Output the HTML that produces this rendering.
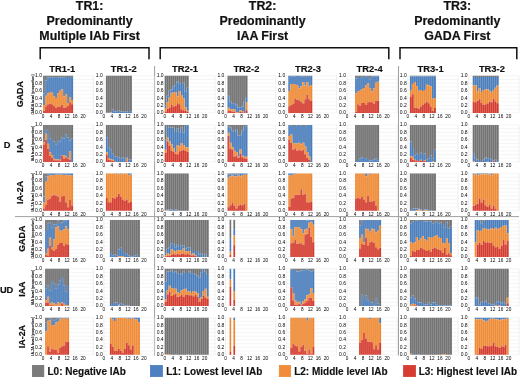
<!DOCTYPE html>
<html><head><meta charset="utf-8"><style>html,body{margin:0;padding:0;background:#fff;width:520px;height:378px;overflow:hidden}</style></head>
<body><svg width="520" height="378" viewBox="0 0 520 378" style="display:block;will-change:transform"><rect width="520" height="378" fill="#fff"/><g font-family='"Liberation Sans", sans-serif'><text x="89.6" y="9.9" font-size="12.4" font-weight="bold" text-anchor="middle" fill="#111" stroke="#111" stroke-width="0.2">TR1:</text><text x="89.6" y="25.15" font-size="12.4" font-weight="bold" text-anchor="middle" fill="#111" stroke="#111" stroke-width="0.2">Predominantly</text><text x="89.6" y="40.4" font-size="12.4" font-weight="bold" text-anchor="middle" fill="#111" stroke="#111" stroke-width="0.2">Multiple IAb First</text><text x="262.6" y="9.9" font-size="12.4" font-weight="bold" text-anchor="middle" fill="#111" stroke="#111" stroke-width="0.2">TR2:</text><text x="262.6" y="25.15" font-size="12.4" font-weight="bold" text-anchor="middle" fill="#111" stroke="#111" stroke-width="0.2">Predominantly</text><text x="262.6" y="40.4" font-size="12.4" font-weight="bold" text-anchor="middle" fill="#111" stroke="#111" stroke-width="0.2">IAA First</text><text x="457.3" y="9.9" font-size="12.4" font-weight="bold" text-anchor="middle" fill="#111" stroke="#111" stroke-width="0.2">TR3:</text><text x="457.3" y="25.15" font-size="12.4" font-weight="bold" text-anchor="middle" fill="#111" stroke="#111" stroke-width="0.2">Predominantly</text><text x="457.3" y="40.4" font-size="12.4" font-weight="bold" text-anchor="middle" fill="#111" stroke="#111" stroke-width="0.2">GADA First</text><path d="M40.2 59.3 V47.7 H149.0 V59.3" fill="none" stroke="#111" stroke-width="1.5"/><path d="M160.2 59.3 V47.7 H388.8 V59.3" fill="none" stroke="#111" stroke-width="1.5"/><path d="M400.0 59.3 V47.7 H516.8 V59.3" fill="none" stroke="#111" stroke-width="1.5"/><text x="62.3" y="71.9" font-size="9.4" font-weight="bold" text-anchor="middle" fill="#111" stroke="#111" stroke-width="0.15">TR1-1</text><text x="123.8" y="71.9" font-size="9.4" font-weight="bold" text-anchor="middle" fill="#111" stroke="#111" stroke-width="0.15">TR1-2</text><text x="185.0" y="71.9" font-size="9.4" font-weight="bold" text-anchor="middle" fill="#111" stroke="#111" stroke-width="0.15">TR2-1</text><text x="246.4" y="71.9" font-size="9.4" font-weight="bold" text-anchor="middle" fill="#111" stroke="#111" stroke-width="0.15">TR2-2</text><text x="308.0" y="71.9" font-size="9.4" font-weight="bold" text-anchor="middle" fill="#111" stroke="#111" stroke-width="0.15">TR2-3</text><text x="369.6" y="71.9" font-size="9.4" font-weight="bold" text-anchor="middle" fill="#111" stroke="#111" stroke-width="0.15">TR2-4</text><text x="430.6" y="71.9" font-size="9.4" font-weight="bold" text-anchor="middle" fill="#111" stroke="#111" stroke-width="0.15">TR3-1</text><text x="491.9" y="71.9" font-size="9.4" font-weight="bold" text-anchor="middle" fill="#111" stroke="#111" stroke-width="0.15">TR3-2</text><path d="M154.6 66 V355.6 M398.5 66 V355.6 M15 216.6 H519" stroke="#a0a0a0" stroke-width="1" fill="none"/><text transform="translate(23.2 94.24999999999999) rotate(-90)" font-size="8.9" font-weight="bold" text-anchor="middle" fill="#111" stroke="#111" stroke-width="0.18">GADA</text><text transform="translate(23.2 145.15000000000003) rotate(-90)" font-size="8.9" font-weight="bold" text-anchor="middle" fill="#111" stroke="#111" stroke-width="0.18">IAA</text><text transform="translate(23.2 192.45000000000002) rotate(-90)" font-size="8.9" font-weight="bold" text-anchor="middle" fill="#111" stroke="#111" stroke-width="0.18">IA-2A</text><text transform="translate(24.7 238.75000000000003) rotate(-90)" font-size="8.9" font-weight="bold" text-anchor="middle" fill="#111" stroke="#111" stroke-width="0.18">GADA</text><text transform="translate(24.7 289.15000000000003) rotate(-90)" font-size="8.9" font-weight="bold" text-anchor="middle" fill="#111" stroke="#111" stroke-width="0.18">IAA</text><text transform="translate(24.7 336.55) rotate(-90)" font-size="8.9" font-weight="bold" text-anchor="middle" fill="#111" stroke="#111" stroke-width="0.18">IA-2A</text><text x="7.0" y="148.3" font-size="9.3" font-weight="bold" text-anchor="middle" fill="#111" stroke="#111" stroke-width="0.18">D</text><text x="6.6" y="292.6" font-size="9.3" font-weight="bold" text-anchor="middle" fill="#111" stroke="#111" stroke-width="0.18">UD</text><path d="M43.1 112.90H93.4M43.1 109.19H93.4M43.1 105.48H93.4M43.1 101.77H93.4M43.1 98.06H93.4M43.1 94.35H93.4M43.1 90.64H93.4M43.1 86.93H93.4M43.1 83.22H93.4M43.1 79.51H93.4M43.1 75.80H93.4" stroke="#efefef" stroke-width="0.6" fill="none"/><path d="M43.1 75.8V112.9 M93.4 75.8V112.9" stroke="#e4e4e4" stroke-width="0.6" fill="none"/><path d="M43.10 75.80h2.0v17.81h-2.0zM45.10 75.80h2.0v4.82h-2.0zM47.10 75.80h2.0v1.48h-2.0zM49.10 75.80h2.0v1.48h-2.0zM51.10 75.80h2.0v1.48h-2.0zM53.10 75.80h2.0v1.48h-2.0zM55.10 75.80h2.0v1.11h-2.0zM57.10 75.80h2.0v1.48h-2.0zM59.10 75.80h2.0v1.48h-2.0zM61.10 75.80h2.0v1.48h-2.0zM63.10 75.80h2.0v1.48h-2.0zM65.10 75.80h2.0v1.11h-2.0zM67.10 75.80h2.0v1.11h-2.0zM69.10 75.80h2.0v1.11h-2.0zM71.10 75.80h2.0v1.48h-2.0z" fill="#727272"/><path d="M43.10 93.61h2.0v11.50h-2.0zM45.10 80.62h2.0v15.21h-2.0zM47.10 77.28h2.0v15.95h-2.0zM49.10 77.28h2.0v14.84h-2.0zM51.10 77.28h2.0v15.58h-2.0zM53.10 77.28h2.0v18.92h-2.0zM55.10 76.91h2.0v21.15h-2.0zM57.10 77.28h2.0v16.32h-2.0zM59.10 77.28h2.0v13.36h-2.0zM61.10 77.28h2.0v12.24h-2.0zM63.10 77.28h2.0v19.29h-2.0zM65.10 76.91h2.0v17.07h-2.0zM67.10 76.91h2.0v25.97h-2.0zM69.10 76.91h2.0v20.03h-2.0zM71.10 77.28h2.0v22.63h-2.0z" fill="#4a7dbb"/><path d="M43.10 105.11h2.0v5.94h-2.0zM45.10 95.83h2.0v10.39h-2.0zM47.10 93.24h2.0v11.13h-2.0zM49.10 92.12h2.0v11.50h-2.0zM51.10 92.87h2.0v11.50h-2.0zM53.10 96.21h2.0v9.65h-2.0zM55.10 98.06h2.0v10.02h-2.0zM57.10 93.61h2.0v12.98h-2.0zM59.10 90.64h2.0v15.95h-2.0zM61.10 89.53h2.0v15.21h-2.0zM63.10 96.58h2.0v11.50h-2.0zM65.10 93.98h2.0v13.36h-2.0zM67.10 102.88h2.0v2.97h-2.0zM69.10 96.95h2.0v5.19h-2.0zM71.10 99.92h2.0v4.45h-2.0z" fill="#ee8a35"/><path d="M43.10 111.05h2.0v1.86h-2.0zM45.10 106.22h2.0v6.68h-2.0zM47.10 104.37h2.0v8.53h-2.0zM49.10 103.62h2.0v9.28h-2.0zM51.10 104.37h2.0v8.53h-2.0zM53.10 105.85h2.0v7.05h-2.0zM55.10 108.08h2.0v4.82h-2.0zM57.10 106.59h2.0v6.31h-2.0zM59.10 106.59h2.0v6.31h-2.0zM61.10 104.74h2.0v8.16h-2.0zM63.10 108.08h2.0v4.82h-2.0zM65.10 107.34h2.0v5.57h-2.0zM67.10 105.85h2.0v7.05h-2.0zM69.10 102.14h2.0v10.76h-2.0zM71.10 104.37h2.0v8.53h-2.0z" fill="#d43c30"/><path d="M44.85 75.8V112.9M46.85 75.8V112.9M48.85 75.8V112.9M50.85 75.8V112.9M52.85 75.8V112.9M54.85 75.8V112.9M56.85 75.8V112.9M58.85 75.8V112.9M60.85 75.8V112.9M62.85 75.8V112.9M64.85 75.8V112.9M66.85 75.8V112.9M68.85 75.8V112.9M70.85 75.8V112.9" stroke="#fff" stroke-opacity="0.35" stroke-width="0.6" fill="none"/><text x="42.0" y="114.35" font-size="5" text-anchor="end" fill="#000">0.0</text><text x="42.0" y="106.93" font-size="5" text-anchor="end" fill="#000">0.2</text><text x="42.0" y="99.51" font-size="5" text-anchor="end" fill="#000">0.4</text><text x="42.0" y="92.09" font-size="5" text-anchor="end" fill="#000">0.6</text><text x="42.0" y="84.67" font-size="5" text-anchor="end" fill="#000">0.8</text><text x="42.0" y="77.25" font-size="5" text-anchor="end" fill="#000">1.0</text><text x="43.10" y="118.10" font-size="4.7" text-anchor="middle" fill="#000">0</text><text x="51.10" y="118.10" font-size="4.7" text-anchor="middle" fill="#000">4</text><text x="59.10" y="118.10" font-size="4.7" text-anchor="middle" fill="#000">8</text><text x="67.10" y="118.10" font-size="4.7" text-anchor="middle" fill="#000">12</text><text x="75.10" y="118.10" font-size="4.7" text-anchor="middle" fill="#000">16</text><text x="83.10" y="118.10" font-size="4.7" text-anchor="middle" fill="#000">20</text><text transform="translate(33.5 94.35) rotate(-90)" font-size="3.8" text-anchor="middle" fill="#000" stroke="#000" stroke-width="0.12">GADA level (proportion)</text><path d="M103.9 112.90H154.2M103.9 109.19H154.2M103.9 105.48H154.2M103.9 101.77H154.2M103.9 98.06H154.2M103.9 94.35H154.2M103.9 90.64H154.2M103.9 86.93H154.2M103.9 83.22H154.2M103.9 79.51H154.2M103.9 75.80H154.2" stroke="#efefef" stroke-width="0.6" fill="none"/><path d="M103.9 75.8V112.9 M154.2 75.8V112.9" stroke="#e4e4e4" stroke-width="0.6" fill="none"/><path d="M105.90 75.80h2.0v36.73h-2.0zM107.90 75.80h2.0v36.36h-2.0zM109.90 75.80h2.0v36.36h-2.0zM111.90 75.80h2.0v33.76h-2.0zM113.90 75.80h2.0v35.62h-2.0zM115.90 75.80h2.0v35.99h-2.0zM117.90 75.80h2.0v34.87h-2.0zM119.90 75.80h2.0v35.62h-2.0zM121.90 75.80h2.0v35.99h-2.0zM123.90 75.80h2.0v35.99h-2.0zM125.90 75.80h2.0v35.99h-2.0zM127.90 75.80h2.0v35.24h-2.0zM129.90 75.80h2.0v35.99h-2.0z" fill="#727272"/><path d="M105.90 112.53h2.0v0.37h-2.0zM107.90 112.16h2.0v0.74h-2.0zM109.90 112.16h2.0v0.37h-2.0zM111.90 109.56h2.0v3.34h-2.0zM113.90 111.42h2.0v1.48h-2.0zM115.90 111.79h2.0v1.11h-2.0zM117.90 110.67h2.0v2.23h-2.0zM119.90 111.42h2.0v1.48h-2.0zM121.90 111.79h2.0v1.11h-2.0zM123.90 111.79h2.0v1.11h-2.0zM125.90 111.79h2.0v1.11h-2.0zM127.90 111.05h2.0v1.86h-2.0zM129.90 111.79h2.0v1.11h-2.0z" fill="#4a7dbb"/><path d="M109.90 112.53h2.0v0.37h-2.0z" fill="#ee8a35"/><path d="M107.65 75.8V112.9M109.65 75.8V112.9M111.65 75.8V112.9M113.65 75.8V112.9M115.65 75.8V112.9M117.65 75.8V112.9M119.65 75.8V112.9M121.65 75.8V112.9M123.65 75.8V112.9M125.65 75.8V112.9M127.65 75.8V112.9M129.65 75.8V112.9" stroke="#fff" stroke-opacity="0.35" stroke-width="0.6" fill="none"/><text x="102.80000000000001" y="114.35" font-size="5" text-anchor="end" fill="#000">0.0</text><text x="102.80000000000001" y="106.93" font-size="5" text-anchor="end" fill="#000">0.2</text><text x="102.80000000000001" y="99.51" font-size="5" text-anchor="end" fill="#000">0.4</text><text x="102.80000000000001" y="92.09" font-size="5" text-anchor="end" fill="#000">0.6</text><text x="102.80000000000001" y="84.67" font-size="5" text-anchor="end" fill="#000">0.8</text><text x="102.80000000000001" y="77.25" font-size="5" text-anchor="end" fill="#000">1.0</text><text x="103.90" y="118.10" font-size="4.7" text-anchor="middle" fill="#000">0</text><text x="111.90" y="118.10" font-size="4.7" text-anchor="middle" fill="#000">4</text><text x="119.90" y="118.10" font-size="4.7" text-anchor="middle" fill="#000">8</text><text x="127.90" y="118.10" font-size="4.7" text-anchor="middle" fill="#000">12</text><text x="135.90" y="118.10" font-size="4.7" text-anchor="middle" fill="#000">16</text><text x="143.90" y="118.10" font-size="4.7" text-anchor="middle" fill="#000">20</text><path d="M164.7 112.90H215.0M164.7 109.19H215.0M164.7 105.48H215.0M164.7 101.77H215.0M164.7 98.06H215.0M164.7 94.35H215.0M164.7 90.64H215.0M164.7 86.93H215.0M164.7 83.22H215.0M164.7 79.51H215.0M164.7 75.80H215.0" stroke="#efefef" stroke-width="0.6" fill="none"/><path d="M164.7 75.8V112.9 M215.0 75.8V112.9" stroke="#e4e4e4" stroke-width="0.6" fill="none"/><path d="M164.70 75.80h2.0v30.05h-2.0zM166.70 75.80h2.0v20.03h-2.0zM168.70 75.80h2.0v14.84h-2.0zM170.70 75.80h2.0v13.73h-2.0zM172.70 75.80h2.0v10.76h-2.0zM174.70 75.80h2.0v8.16h-2.0zM176.70 75.80h2.0v5.57h-2.0zM178.70 75.80h2.0v7.42h-2.0zM180.70 75.80h2.0v8.16h-2.0zM182.70 75.80h2.0v7.05h-2.0zM184.70 75.80h2.0v15.58h-2.0zM186.70 75.80h2.0v11.87h-2.0z" fill="#727272"/><path d="M164.70 105.85h2.0v2.23h-2.0zM166.70 95.83h2.0v6.31h-2.0zM168.70 90.64h2.0v6.31h-2.0zM170.70 89.53h2.0v3.34h-2.0zM172.70 86.56h2.0v6.31h-2.0zM174.70 83.96h2.0v8.16h-2.0zM176.70 81.37h2.0v15.21h-2.0zM178.70 83.22h2.0v7.79h-2.0zM180.70 83.96h2.0v11.13h-2.0zM182.70 82.85h2.0v15.58h-2.0zM184.70 91.38h2.0v15.95h-2.0zM186.70 87.67h2.0v23.00h-2.0z" fill="#4a7dbb"/><path d="M164.70 108.08h2.0v3.52h-2.0zM166.70 102.14h2.0v6.68h-2.0zM168.70 96.95h2.0v10.76h-2.0zM170.70 92.87h2.0v12.24h-2.0zM172.70 92.87h2.0v13.73h-2.0zM174.70 92.12h2.0v13.73h-2.0zM176.70 96.58h2.0v7.05h-2.0zM178.70 91.01h2.0v13.36h-2.0zM180.70 95.09h2.0v14.47h-2.0zM182.70 98.43h2.0v11.87h-2.0zM184.70 107.34h2.0v3.34h-2.0zM186.70 110.67h2.0v1.11h-2.0z" fill="#ee8a35"/><path d="M164.70 111.60h2.0v1.30h-2.0zM166.70 108.82h2.0v4.08h-2.0zM168.70 107.71h2.0v5.19h-2.0zM170.70 105.11h2.0v7.79h-2.0zM172.70 106.59h2.0v6.31h-2.0zM174.70 105.85h2.0v7.05h-2.0zM176.70 103.62h2.0v9.28h-2.0zM178.70 104.37h2.0v8.53h-2.0zM180.70 109.56h2.0v3.34h-2.0zM182.70 110.30h2.0v2.60h-2.0zM184.70 110.67h2.0v2.23h-2.0zM186.70 111.79h2.0v1.11h-2.0z" fill="#d43c30"/><path d="M166.45 75.8V112.9M168.45 75.8V112.9M170.45 75.8V112.9M172.45 75.8V112.9M174.45 75.8V112.9M176.45 75.8V112.9M178.45 75.8V112.9M180.45 75.8V112.9M182.45 75.8V112.9M184.45 75.8V112.9M186.45 75.8V112.9" stroke="#fff" stroke-opacity="0.35" stroke-width="0.6" fill="none"/><text x="163.6" y="114.35" font-size="5" text-anchor="end" fill="#000">0.0</text><text x="163.6" y="106.93" font-size="5" text-anchor="end" fill="#000">0.2</text><text x="163.6" y="99.51" font-size="5" text-anchor="end" fill="#000">0.4</text><text x="163.6" y="92.09" font-size="5" text-anchor="end" fill="#000">0.6</text><text x="163.6" y="84.67" font-size="5" text-anchor="end" fill="#000">0.8</text><text x="163.6" y="77.25" font-size="5" text-anchor="end" fill="#000">1.0</text><text x="164.70" y="118.10" font-size="4.7" text-anchor="middle" fill="#000">0</text><text x="172.70" y="118.10" font-size="4.7" text-anchor="middle" fill="#000">4</text><text x="180.70" y="118.10" font-size="4.7" text-anchor="middle" fill="#000">8</text><text x="188.70" y="118.10" font-size="4.7" text-anchor="middle" fill="#000">12</text><text x="196.70" y="118.10" font-size="4.7" text-anchor="middle" fill="#000">16</text><text x="204.70" y="118.10" font-size="4.7" text-anchor="middle" fill="#000">20</text><path d="M225.5 112.90H275.8M225.5 109.19H275.8M225.5 105.48H275.8M225.5 101.77H275.8M225.5 98.06H275.8M225.5 94.35H275.8M225.5 90.64H275.8M225.5 86.93H275.8M225.5 83.22H275.8M225.5 79.51H275.8M225.5 75.80H275.8" stroke="#efefef" stroke-width="0.6" fill="none"/><path d="M225.5 75.8V112.9 M275.8 75.8V112.9" stroke="#e4e4e4" stroke-width="0.6" fill="none"/><path d="M227.50 75.80h2.0v20.03h-2.0zM229.50 75.80h2.0v25.97h-2.0zM231.50 75.80h2.0v27.83h-2.0zM233.50 75.80h2.0v27.08h-2.0zM235.50 75.80h2.0v28.94h-2.0zM237.50 75.80h2.0v31.91h-2.0zM239.50 75.80h2.0v31.54h-2.0zM241.50 75.80h2.0v30.79h-2.0zM243.50 75.80h2.0v25.97h-2.0zM245.50 75.80h2.0v21.15h-2.0z" fill="#727272"/><path d="M227.50 95.83h2.0v11.87h-2.0zM229.50 101.77h2.0v7.42h-2.0zM231.50 103.62h2.0v5.94h-2.0zM233.50 102.88h2.0v6.68h-2.0zM235.50 104.74h2.0v7.42h-2.0zM237.50 107.71h2.0v4.45h-2.0zM239.50 107.34h2.0v2.97h-2.0zM241.50 106.59h2.0v4.45h-2.0zM243.50 101.77h2.0v11.13h-2.0zM245.50 96.95h2.0v5.19h-2.0z" fill="#4a7dbb"/><path d="M227.50 107.71h2.0v2.97h-2.0zM229.50 109.19h2.0v1.86h-2.0zM231.50 109.56h2.0v2.23h-2.0zM233.50 109.56h2.0v1.85h-2.0zM235.50 112.16h2.0v0.74h-2.0zM237.50 112.16h2.0v0.37h-2.0zM239.50 110.30h2.0v1.48h-2.0zM241.50 111.05h2.0v1.11h-2.0zM245.50 102.14h2.0v8.16h-2.0z" fill="#ee8a35"/><path d="M227.50 110.67h2.0v2.23h-2.0zM229.50 111.05h2.0v1.86h-2.0zM231.50 111.79h2.0v1.11h-2.0zM233.50 111.42h2.0v1.48h-2.0zM237.50 112.53h2.0v0.37h-2.0zM239.50 111.79h2.0v1.11h-2.0zM241.50 112.16h2.0v0.74h-2.0zM245.50 110.30h2.0v2.60h-2.0z" fill="#d43c30"/><path d="M229.25 75.8V112.9M231.25 75.8V112.9M233.25 75.8V112.9M235.25 75.8V112.9M237.25 75.8V112.9M239.25 75.8V112.9M241.25 75.8V112.9M243.25 75.8V112.9M245.25 75.8V112.9" stroke="#fff" stroke-opacity="0.35" stroke-width="0.6" fill="none"/><text x="224.4" y="114.35" font-size="5" text-anchor="end" fill="#000">0.0</text><text x="224.4" y="106.93" font-size="5" text-anchor="end" fill="#000">0.2</text><text x="224.4" y="99.51" font-size="5" text-anchor="end" fill="#000">0.4</text><text x="224.4" y="92.09" font-size="5" text-anchor="end" fill="#000">0.6</text><text x="224.4" y="84.67" font-size="5" text-anchor="end" fill="#000">0.8</text><text x="224.4" y="77.25" font-size="5" text-anchor="end" fill="#000">1.0</text><text x="225.50" y="118.10" font-size="4.7" text-anchor="middle" fill="#000">0</text><text x="233.50" y="118.10" font-size="4.7" text-anchor="middle" fill="#000">4</text><text x="241.50" y="118.10" font-size="4.7" text-anchor="middle" fill="#000">8</text><text x="249.50" y="118.10" font-size="4.7" text-anchor="middle" fill="#000">12</text><text x="257.50" y="118.10" font-size="4.7" text-anchor="middle" fill="#000">16</text><text x="265.50" y="118.10" font-size="4.7" text-anchor="middle" fill="#000">20</text><path d="M286.3 112.90H336.6M286.3 109.19H336.6M286.3 105.48H336.6M286.3 101.77H336.6M286.3 98.06H336.6M286.3 94.35H336.6M286.3 90.64H336.6M286.3 86.93H336.6M286.3 83.22H336.6M286.3 79.51H336.6M286.3 75.80H336.6" stroke="#efefef" stroke-width="0.6" fill="none"/><path d="M286.3 75.8V112.9 M336.6 75.8V112.9" stroke="#e4e4e4" stroke-width="0.6" fill="none"/><path d="M290.30 75.80h2.0v0.37h-2.0zM292.30 75.80h2.0v0.37h-2.0zM294.30 75.80h2.0v0.37h-2.0zM300.30 75.80h2.0v0.37h-2.0zM302.30 75.80h2.0v0.37h-2.0zM304.30 75.80h2.0v1.11h-2.0zM308.30 75.80h2.0v1.11h-2.0z" fill="#727272"/><path d="M288.30 75.80h2.0v15.21h-2.0zM290.30 76.17h2.0v7.79h-2.0zM292.30 76.17h2.0v7.79h-2.0zM294.30 76.17h2.0v8.53h-2.0zM296.30 75.80h2.0v9.28h-2.0zM298.30 75.80h2.0v12.61h-2.0zM300.30 76.17h2.0v10.02h-2.0zM302.30 76.17h2.0v5.94h-2.0zM304.30 76.91h2.0v8.53h-2.0zM306.30 75.80h2.0v6.31h-2.0zM308.30 76.91h2.0v9.65h-2.0zM310.30 75.80h2.0v9.28h-2.0z" fill="#4a7dbb"/><path d="M288.30 91.01h2.0v15.21h-2.0zM290.30 83.96h2.0v20.78h-2.0zM292.30 83.96h2.0v19.66h-2.0zM294.30 84.70h2.0v13.73h-2.0zM296.30 85.08h2.0v14.84h-2.0zM298.30 88.41h2.0v11.87h-2.0zM300.30 86.19h2.0v15.58h-2.0zM302.30 82.11h2.0v21.52h-2.0zM304.30 85.45h2.0v13.73h-2.0zM306.30 82.11h2.0v12.98h-2.0zM308.30 86.56h2.0v12.61h-2.0zM310.30 85.08h2.0v15.58h-2.0z" fill="#ee8a35"/><path d="M288.30 106.22h2.0v6.68h-2.0zM290.30 104.74h2.0v8.16h-2.0zM292.30 103.62h2.0v9.28h-2.0zM294.30 98.43h2.0v14.47h-2.0zM296.30 99.92h2.0v12.98h-2.0zM298.30 100.29h2.0v12.61h-2.0zM300.30 101.77h2.0v11.13h-2.0zM302.30 103.62h2.0v9.28h-2.0zM304.30 99.17h2.0v13.73h-2.0zM306.30 95.09h2.0v17.81h-2.0zM308.30 99.17h2.0v13.73h-2.0zM310.30 100.66h2.0v12.24h-2.0z" fill="#d43c30"/><path d="M290.05 75.8V112.9M292.05 75.8V112.9M294.05 75.8V112.9M296.05 75.8V112.9M298.05 75.8V112.9M300.05 75.8V112.9M302.05 75.8V112.9M304.05 75.8V112.9M306.05 75.8V112.9M308.05 75.8V112.9M310.05 75.8V112.9" stroke="#fff" stroke-opacity="0.35" stroke-width="0.6" fill="none"/><text x="285.2" y="114.35" font-size="5" text-anchor="end" fill="#000">0.0</text><text x="285.2" y="106.93" font-size="5" text-anchor="end" fill="#000">0.2</text><text x="285.2" y="99.51" font-size="5" text-anchor="end" fill="#000">0.4</text><text x="285.2" y="92.09" font-size="5" text-anchor="end" fill="#000">0.6</text><text x="285.2" y="84.67" font-size="5" text-anchor="end" fill="#000">0.8</text><text x="285.2" y="77.25" font-size="5" text-anchor="end" fill="#000">1.0</text><text x="286.30" y="118.10" font-size="4.7" text-anchor="middle" fill="#000">0</text><text x="294.30" y="118.10" font-size="4.7" text-anchor="middle" fill="#000">4</text><text x="302.30" y="118.10" font-size="4.7" text-anchor="middle" fill="#000">8</text><text x="310.30" y="118.10" font-size="4.7" text-anchor="middle" fill="#000">12</text><text x="318.30" y="118.10" font-size="4.7" text-anchor="middle" fill="#000">16</text><text x="326.30" y="118.10" font-size="4.7" text-anchor="middle" fill="#000">20</text><path d="M347.1 112.90H397.40000000000003M347.1 109.19H397.40000000000003M347.1 105.48H397.40000000000003M347.1 101.77H397.40000000000003M347.1 98.06H397.40000000000003M347.1 94.35H397.40000000000003M347.1 90.64H397.40000000000003M347.1 86.93H397.40000000000003M347.1 83.22H397.40000000000003M347.1 79.51H397.40000000000003M347.1 75.80H397.40000000000003" stroke="#efefef" stroke-width="0.6" fill="none"/><path d="M347.1 75.8V112.9 M397.40000000000003 75.8V112.9" stroke="#e4e4e4" stroke-width="0.6" fill="none"/><path d="M355.10 75.80h2.0v2.60h-2.0zM357.10 75.80h2.0v1.11h-2.0zM359.10 75.80h2.0v1.11h-2.0zM361.10 75.80h2.0v1.86h-2.0zM363.10 75.80h2.0v1.11h-2.0zM365.10 75.80h2.0v0.37h-2.0zM367.10 75.80h2.0v1.11h-2.0zM369.10 75.80h2.0v3.34h-2.0zM371.10 75.80h2.0v0.37h-2.0zM373.10 75.80h2.0v0.37h-2.0zM375.10 75.80h2.0v0.37h-2.0zM377.10 75.80h2.0v0.37h-2.0z" fill="#727272"/><path d="M355.10 78.40h2.0v15.21h-2.0zM357.10 76.91h2.0v14.10h-2.0zM359.10 76.91h2.0v13.73h-2.0zM361.10 77.66h2.0v11.50h-2.0zM363.10 76.91h2.0v11.13h-2.0zM365.10 76.17h2.0v9.28h-2.0zM367.10 76.91h2.0v6.68h-2.0zM369.10 79.14h2.0v8.90h-2.0zM371.10 76.17h2.0v15.21h-2.0zM373.10 76.17h2.0v12.24h-2.0zM375.10 76.17h2.0v6.68h-2.0zM377.10 76.17h2.0v5.57h-2.0z" fill="#4a7dbb"/><path d="M355.10 93.61h2.0v18.18h-2.0zM357.10 91.01h2.0v13.36h-2.0zM359.10 90.64h2.0v15.21h-2.0zM361.10 89.16h2.0v13.73h-2.0zM363.10 88.04h2.0v14.84h-2.0zM365.10 85.45h2.0v19.66h-2.0zM367.10 83.59h2.0v18.55h-2.0zM369.10 88.04h2.0v13.73h-2.0zM371.10 91.38h2.0v10.76h-2.0zM373.10 88.41h2.0v15.21h-2.0zM375.10 82.85h2.0v17.81h-2.0zM377.10 81.74h2.0v18.92h-2.0z" fill="#ee8a35"/><path d="M355.10 111.79h2.0v1.11h-2.0zM357.10 104.37h2.0v8.53h-2.0zM359.10 105.85h2.0v7.05h-2.0zM361.10 102.88h2.0v10.02h-2.0zM363.10 102.88h2.0v10.02h-2.0zM365.10 105.11h2.0v7.79h-2.0zM367.10 102.14h2.0v10.76h-2.0zM369.10 101.77h2.0v11.13h-2.0zM371.10 102.14h2.0v10.76h-2.0zM373.10 103.62h2.0v9.28h-2.0zM375.10 100.66h2.0v12.24h-2.0zM377.10 100.66h2.0v12.24h-2.0z" fill="#d43c30"/><path d="M356.85 75.8V112.9M358.85 75.8V112.9M360.85 75.8V112.9M362.85 75.8V112.9M364.85 75.8V112.9M366.85 75.8V112.9M368.85 75.8V112.9M370.85 75.8V112.9M372.85 75.8V112.9M374.85 75.8V112.9M376.85 75.8V112.9" stroke="#fff" stroke-opacity="0.35" stroke-width="0.6" fill="none"/><text x="346.0" y="114.35" font-size="5" text-anchor="end" fill="#000">0.0</text><text x="346.0" y="106.93" font-size="5" text-anchor="end" fill="#000">0.2</text><text x="346.0" y="99.51" font-size="5" text-anchor="end" fill="#000">0.4</text><text x="346.0" y="92.09" font-size="5" text-anchor="end" fill="#000">0.6</text><text x="346.0" y="84.67" font-size="5" text-anchor="end" fill="#000">0.8</text><text x="346.0" y="77.25" font-size="5" text-anchor="end" fill="#000">1.0</text><text x="347.10" y="118.10" font-size="4.7" text-anchor="middle" fill="#000">0</text><text x="355.10" y="118.10" font-size="4.7" text-anchor="middle" fill="#000">4</text><text x="363.10" y="118.10" font-size="4.7" text-anchor="middle" fill="#000">8</text><text x="371.10" y="118.10" font-size="4.7" text-anchor="middle" fill="#000">12</text><text x="379.10" y="118.10" font-size="4.7" text-anchor="middle" fill="#000">16</text><text x="387.10" y="118.10" font-size="4.7" text-anchor="middle" fill="#000">20</text><path d="M407.9 112.90H458.2M407.9 109.19H458.2M407.9 105.48H458.2M407.9 101.77H458.2M407.9 98.06H458.2M407.9 94.35H458.2M407.9 90.64H458.2M407.9 86.93H458.2M407.9 83.22H458.2M407.9 79.51H458.2M407.9 75.80H458.2" stroke="#efefef" stroke-width="0.6" fill="none"/><path d="M407.9 75.8V112.9 M458.2 75.8V112.9" stroke="#e4e4e4" stroke-width="0.6" fill="none"/><path d="M409.90 75.80h2.0v0.37h-2.0zM411.90 75.80h2.0v0.74h-2.0zM413.90 75.80h2.0v0.37h-2.0zM415.90 75.80h2.0v0.37h-2.0zM417.90 75.80h2.0v0.37h-2.0zM419.90 75.80h2.0v0.74h-2.0zM421.90 75.80h2.0v0.74h-2.0zM423.90 75.80h2.0v0.74h-2.0zM425.90 75.80h2.0v0.37h-2.0zM427.90 75.80h2.0v0.37h-2.0zM429.90 75.80h2.0v0.37h-2.0zM431.90 75.80h2.0v0.37h-2.0zM433.90 75.80h2.0v0.74h-2.0z" fill="#727272"/><path d="M409.90 76.17h2.0v14.47h-2.0zM411.90 76.54h2.0v7.42h-2.0zM413.90 76.17h2.0v5.94h-2.0zM415.90 76.17h2.0v10.02h-2.0zM417.90 76.17h2.0v14.47h-2.0zM419.90 76.54h2.0v13.36h-2.0zM421.90 76.54h2.0v14.47h-2.0zM423.90 76.54h2.0v13.36h-2.0zM425.90 76.17h2.0v8.53h-2.0zM427.90 76.17h2.0v9.28h-2.0zM429.90 76.17h2.0v10.02h-2.0zM431.90 76.17h2.0v22.63h-2.0zM433.90 76.54h2.0v21.52h-2.0z" fill="#4a7dbb"/><path d="M409.90 90.64h2.0v6.31h-2.0zM411.90 83.96h2.0v10.39h-2.0zM413.90 82.11h2.0v25.60h-2.0zM415.90 86.19h2.0v21.52h-2.0zM417.90 90.64h2.0v18.18h-2.0zM419.90 89.90h2.0v16.70h-2.0zM421.90 91.01h2.0v14.10h-2.0zM423.90 89.90h2.0v13.36h-2.0zM425.90 84.70h2.0v17.07h-2.0zM427.90 85.45h2.0v17.81h-2.0zM429.90 86.19h2.0v20.40h-2.0zM431.90 98.80h2.0v11.87h-2.0zM433.90 98.06h2.0v10.02h-2.0z" fill="#ee8a35"/><path d="M409.90 96.95h2.0v15.95h-2.0zM411.90 94.35h2.0v18.55h-2.0zM413.90 107.71h2.0v5.19h-2.0zM415.90 107.71h2.0v5.19h-2.0zM417.90 108.82h2.0v4.08h-2.0zM419.90 106.59h2.0v6.31h-2.0zM421.90 105.11h2.0v7.79h-2.0zM423.90 103.25h2.0v9.65h-2.0zM425.90 101.77h2.0v11.13h-2.0zM427.90 103.25h2.0v9.65h-2.0zM429.90 106.59h2.0v6.31h-2.0zM431.90 110.67h2.0v2.23h-2.0zM433.90 108.08h2.0v4.82h-2.0z" fill="#d43c30"/><path d="M411.65 75.8V112.9M413.65 75.8V112.9M415.65 75.8V112.9M417.65 75.8V112.9M419.65 75.8V112.9M421.65 75.8V112.9M423.65 75.8V112.9M425.65 75.8V112.9M427.65 75.8V112.9M429.65 75.8V112.9M431.65 75.8V112.9M433.65 75.8V112.9" stroke="#fff" stroke-opacity="0.35" stroke-width="0.6" fill="none"/><text x="406.79999999999995" y="114.35" font-size="5" text-anchor="end" fill="#000">0.0</text><text x="406.79999999999995" y="106.93" font-size="5" text-anchor="end" fill="#000">0.2</text><text x="406.79999999999995" y="99.51" font-size="5" text-anchor="end" fill="#000">0.4</text><text x="406.79999999999995" y="92.09" font-size="5" text-anchor="end" fill="#000">0.6</text><text x="406.79999999999995" y="84.67" font-size="5" text-anchor="end" fill="#000">0.8</text><text x="406.79999999999995" y="77.25" font-size="5" text-anchor="end" fill="#000">1.0</text><text x="407.90" y="118.10" font-size="4.7" text-anchor="middle" fill="#000">0</text><text x="415.90" y="118.10" font-size="4.7" text-anchor="middle" fill="#000">4</text><text x="423.90" y="118.10" font-size="4.7" text-anchor="middle" fill="#000">8</text><text x="431.90" y="118.10" font-size="4.7" text-anchor="middle" fill="#000">12</text><text x="439.90" y="118.10" font-size="4.7" text-anchor="middle" fill="#000">16</text><text x="447.90" y="118.10" font-size="4.7" text-anchor="middle" fill="#000">20</text><path d="M468.7 112.90H519.0M468.7 109.19H519.0M468.7 105.48H519.0M468.7 101.77H519.0M468.7 98.06H519.0M468.7 94.35H519.0M468.7 90.64H519.0M468.7 86.93H519.0M468.7 83.22H519.0M468.7 79.51H519.0M468.7 75.80H519.0" stroke="#efefef" stroke-width="0.6" fill="none"/><path d="M468.7 75.8V112.9 M519.0 75.8V112.9" stroke="#e4e4e4" stroke-width="0.6" fill="none"/><path d="M472.70 75.80h2.0v1.11h-2.0zM474.70 75.80h2.0v1.11h-2.0zM476.70 75.80h2.0v1.11h-2.0zM478.70 75.80h2.0v1.11h-2.0zM480.70 75.80h2.0v1.11h-2.0zM482.70 75.80h2.0v1.11h-2.0zM484.70 75.80h2.0v1.11h-2.0zM486.70 75.80h2.0v1.11h-2.0zM488.70 75.80h2.0v1.11h-2.0zM490.70 75.80h2.0v1.11h-2.0zM492.70 75.80h2.0v1.11h-2.0zM494.70 75.80h2.0v1.11h-2.0zM496.70 75.80h2.0v1.11h-2.0z" fill="#727272"/><path d="M472.70 76.91h2.0v8.53h-2.0zM474.70 76.91h2.0v8.16h-2.0zM476.70 76.91h2.0v14.47h-2.0zM478.70 76.91h2.0v11.50h-2.0zM480.70 76.91h2.0v15.21h-2.0zM482.70 76.91h2.0v12.98h-2.0zM484.70 76.91h2.0v12.61h-2.0zM486.70 76.91h2.0v12.24h-2.0zM488.70 76.91h2.0v13.73h-2.0zM490.70 76.91h2.0v15.95h-2.0zM492.70 76.91h2.0v12.98h-2.0zM494.70 76.91h2.0v10.76h-2.0zM496.70 76.91h2.0v8.53h-2.0z" fill="#4a7dbb"/><path d="M472.70 85.45h2.0v16.32h-2.0zM474.70 85.08h2.0v17.07h-2.0zM476.70 91.38h2.0v9.27h-2.0zM478.70 88.41h2.0v10.76h-2.0zM480.70 92.12h2.0v10.76h-2.0zM482.70 89.90h2.0v15.21h-2.0zM484.70 89.53h2.0v14.84h-2.0zM486.70 89.16h2.0v14.47h-2.0zM488.70 90.64h2.0v11.13h-2.0zM490.70 92.87h2.0v9.28h-2.0zM492.70 89.90h2.0v8.90h-2.0zM494.70 87.67h2.0v13.73h-2.0zM496.70 85.45h2.0v17.81h-2.0z" fill="#ee8a35"/><path d="M472.70 101.77h2.0v11.13h-2.0zM474.70 102.14h2.0v10.76h-2.0zM476.70 100.66h2.0v12.24h-2.0zM478.70 99.17h2.0v13.73h-2.0zM480.70 102.88h2.0v10.02h-2.0zM482.70 105.11h2.0v7.79h-2.0zM484.70 104.37h2.0v8.53h-2.0zM486.70 103.62h2.0v9.28h-2.0zM488.70 101.77h2.0v11.13h-2.0zM490.70 102.14h2.0v10.76h-2.0zM492.70 98.80h2.0v14.10h-2.0zM494.70 101.40h2.0v11.50h-2.0zM496.70 103.25h2.0v9.65h-2.0z" fill="#d43c30"/><path d="M474.45 75.8V112.9M476.45 75.8V112.9M478.45 75.8V112.9M480.45 75.8V112.9M482.45 75.8V112.9M484.45 75.8V112.9M486.45 75.8V112.9M488.45 75.8V112.9M490.45 75.8V112.9M492.45 75.8V112.9M494.45 75.8V112.9M496.45 75.8V112.9" stroke="#fff" stroke-opacity="0.35" stroke-width="0.6" fill="none"/><text x="467.59999999999997" y="114.35" font-size="5" text-anchor="end" fill="#000">0.0</text><text x="467.59999999999997" y="106.93" font-size="5" text-anchor="end" fill="#000">0.2</text><text x="467.59999999999997" y="99.51" font-size="5" text-anchor="end" fill="#000">0.4</text><text x="467.59999999999997" y="92.09" font-size="5" text-anchor="end" fill="#000">0.6</text><text x="467.59999999999997" y="84.67" font-size="5" text-anchor="end" fill="#000">0.8</text><text x="467.59999999999997" y="77.25" font-size="5" text-anchor="end" fill="#000">1.0</text><text x="468.70" y="118.10" font-size="4.7" text-anchor="middle" fill="#000">0</text><text x="476.70" y="118.10" font-size="4.7" text-anchor="middle" fill="#000">4</text><text x="484.70" y="118.10" font-size="4.7" text-anchor="middle" fill="#000">8</text><text x="492.70" y="118.10" font-size="4.7" text-anchor="middle" fill="#000">12</text><text x="500.70" y="118.10" font-size="4.7" text-anchor="middle" fill="#000">16</text><text x="508.70" y="118.10" font-size="4.7" text-anchor="middle" fill="#000">20</text><path d="M43.1 162.00H93.4M43.1 158.29H93.4M43.1 154.58H93.4M43.1 150.87H93.4M43.1 147.16H93.4M43.1 143.45H93.4M43.1 139.74H93.4M43.1 136.03H93.4M43.1 132.32H93.4M43.1 128.61H93.4M43.1 124.90H93.4" stroke="#efefef" stroke-width="0.6" fill="none"/><path d="M43.1 124.9V162.0 M93.4 124.9V162.0" stroke="#e4e4e4" stroke-width="0.6" fill="none"/><path d="M43.10 124.90h2.0v17.07h-2.0zM45.10 124.90h2.0v4.08h-2.0zM47.10 124.90h2.0v7.05h-2.0zM49.10 124.90h2.0v13.36h-2.0zM51.10 124.90h2.0v15.21h-2.0zM53.10 124.90h2.0v16.70h-2.0zM55.10 124.90h2.0v19.29h-2.0zM57.10 124.90h2.0v15.21h-2.0zM59.10 124.90h2.0v16.70h-2.0zM61.10 124.90h2.0v12.24h-2.0zM63.10 124.90h2.0v13.36h-2.0zM65.10 124.90h2.0v9.28h-2.0zM67.10 124.90h2.0v12.61h-2.0zM69.10 124.90h2.0v15.58h-2.0zM71.10 124.90h2.0v13.36h-2.0z" fill="#727272"/><path d="M43.10 141.97h2.0v0.37h-2.0zM45.10 128.98h2.0v4.82h-2.0zM47.10 131.95h2.0v11.87h-2.0zM49.10 138.26h2.0v14.10h-2.0zM51.10 140.11h2.0v14.84h-2.0zM53.10 141.59h2.0v17.07h-2.0zM55.10 144.19h2.0v15.21h-2.0zM57.10 140.11h2.0v19.29h-2.0zM59.10 141.59h2.0v18.18h-2.0zM61.10 137.14h2.0v18.55h-2.0zM63.10 138.26h2.0v16.70h-2.0zM65.10 134.18h2.0v22.26h-2.0zM67.10 137.51h2.0v20.41h-2.0zM69.10 140.48h2.0v10.76h-2.0zM71.10 138.26h2.0v23.74h-2.0z" fill="#4a7dbb"/><path d="M43.10 142.34h2.0v2.23h-2.0zM45.10 133.80h2.0v6.31h-2.0zM47.10 143.82h2.0v5.19h-2.0zM49.10 152.35h2.0v3.34h-2.0zM51.10 154.95h2.0v2.97h-2.0zM53.10 158.66h2.0v1.48h-2.0zM55.10 159.40h2.0v0.74h-2.0zM57.10 159.40h2.0v0.74h-2.0zM59.10 159.77h2.0v1.11h-2.0zM61.10 155.69h2.0v0.37h-2.0zM63.10 154.95h2.0v4.08h-2.0zM65.10 156.44h2.0v0.74h-2.0zM67.10 157.92h2.0v0.74h-2.0zM69.10 151.24h2.0v8.53h-2.0z" fill="#ee8a35"/><path d="M43.10 144.56h2.0v17.44h-2.0zM45.10 140.11h2.0v21.89h-2.0zM47.10 149.01h2.0v12.98h-2.0zM49.10 155.69h2.0v6.31h-2.0zM51.10 157.92h2.0v4.08h-2.0zM53.10 160.15h2.0v1.86h-2.0zM55.10 160.15h2.0v1.86h-2.0zM57.10 160.15h2.0v1.86h-2.0zM59.10 160.89h2.0v1.11h-2.0zM61.10 156.06h2.0v5.94h-2.0zM63.10 159.03h2.0v2.97h-2.0zM65.10 157.18h2.0v4.82h-2.0zM67.10 158.66h2.0v3.34h-2.0zM69.10 159.77h2.0v2.23h-2.0z" fill="#d43c30"/><path d="M44.85 124.9V162.0M46.85 124.9V162.0M48.85 124.9V162.0M50.85 124.9V162.0M52.85 124.9V162.0M54.85 124.9V162.0M56.85 124.9V162.0M58.85 124.9V162.0M60.85 124.9V162.0M62.85 124.9V162.0M64.85 124.9V162.0M66.85 124.9V162.0M68.85 124.9V162.0M70.85 124.9V162.0" stroke="#fff" stroke-opacity="0.35" stroke-width="0.6" fill="none"/><text x="42.0" y="163.45" font-size="5" text-anchor="end" fill="#000">0.0</text><text x="42.0" y="156.03" font-size="5" text-anchor="end" fill="#000">0.2</text><text x="42.0" y="148.61" font-size="5" text-anchor="end" fill="#000">0.4</text><text x="42.0" y="141.19" font-size="5" text-anchor="end" fill="#000">0.6</text><text x="42.0" y="133.77" font-size="5" text-anchor="end" fill="#000">0.8</text><text x="42.0" y="126.35" font-size="5" text-anchor="end" fill="#000">1.0</text><text x="43.10" y="167.20" font-size="4.7" text-anchor="middle" fill="#000">0</text><text x="51.10" y="167.20" font-size="4.7" text-anchor="middle" fill="#000">4</text><text x="59.10" y="167.20" font-size="4.7" text-anchor="middle" fill="#000">8</text><text x="67.10" y="167.20" font-size="4.7" text-anchor="middle" fill="#000">12</text><text x="75.10" y="167.20" font-size="4.7" text-anchor="middle" fill="#000">16</text><text x="83.10" y="167.20" font-size="4.7" text-anchor="middle" fill="#000">20</text><text transform="translate(33.5 143.45) rotate(-90)" font-size="3.8" text-anchor="middle" fill="#000" stroke="#000" stroke-width="0.12">IAA level (proportion)</text><path d="M103.9 162.00H154.2M103.9 158.29H154.2M103.9 154.58H154.2M103.9 150.87H154.2M103.9 147.16H154.2M103.9 143.45H154.2M103.9 139.74H154.2M103.9 136.03H154.2M103.9 132.32H154.2M103.9 128.61H154.2M103.9 124.90H154.2" stroke="#efefef" stroke-width="0.6" fill="none"/><path d="M103.9 124.9V162.0 M154.2 124.9V162.0" stroke="#e4e4e4" stroke-width="0.6" fill="none"/><path d="M105.90 124.90h2.0v12.24h-2.0zM107.90 124.90h2.0v22.26h-2.0zM109.90 124.90h2.0v24.86h-2.0zM111.90 124.90h2.0v28.94h-2.0zM113.90 124.90h2.0v31.91h-2.0zM115.90 124.90h2.0v31.91h-2.0zM117.90 124.90h2.0v32.28h-2.0zM119.90 124.90h2.0v33.76h-2.0zM121.90 124.90h2.0v32.28h-2.0zM123.90 124.90h2.0v33.76h-2.0zM125.90 124.90h2.0v32.28h-2.0zM127.90 124.90h2.0v34.87h-2.0zM129.90 124.90h2.0v34.50h-2.0z" fill="#727272"/><path d="M105.90 137.14h2.0v15.21h-2.0zM107.90 147.16h2.0v10.76h-2.0zM109.90 149.76h2.0v9.65h-2.0zM111.90 153.84h2.0v5.94h-2.0zM113.90 156.81h2.0v4.08h-2.0zM115.90 156.81h2.0v5.19h-2.0zM117.90 157.18h2.0v4.82h-2.0zM119.90 158.66h2.0v3.34h-2.0zM121.90 157.18h2.0v4.82h-2.0zM123.90 158.66h2.0v3.34h-2.0zM125.90 157.18h2.0v1.48h-2.0zM127.90 159.77h2.0v2.23h-2.0zM129.90 159.40h2.0v2.60h-2.0z" fill="#4a7dbb"/><path d="M105.90 152.35h2.0v2.60h-2.0zM107.90 157.92h2.0v1.86h-2.0zM109.90 159.40h2.0v0.74h-2.0zM111.90 159.77h2.0v0.93h-2.0zM113.90 160.89h2.0v0.37h-2.0zM125.90 158.66h2.0v2.60h-2.0z" fill="#ee8a35"/><path d="M105.90 154.95h2.0v7.05h-2.0zM107.90 159.77h2.0v2.23h-2.0zM109.90 160.15h2.0v1.86h-2.0zM111.90 160.70h2.0v1.30h-2.0zM113.90 161.26h2.0v0.74h-2.0zM125.90 161.26h2.0v0.74h-2.0z" fill="#d43c30"/><path d="M107.65 124.9V162.0M109.65 124.9V162.0M111.65 124.9V162.0M113.65 124.9V162.0M115.65 124.9V162.0M117.65 124.9V162.0M119.65 124.9V162.0M121.65 124.9V162.0M123.65 124.9V162.0M125.65 124.9V162.0M127.65 124.9V162.0M129.65 124.9V162.0" stroke="#fff" stroke-opacity="0.35" stroke-width="0.6" fill="none"/><text x="102.80000000000001" y="163.45" font-size="5" text-anchor="end" fill="#000">0.0</text><text x="102.80000000000001" y="156.03" font-size="5" text-anchor="end" fill="#000">0.2</text><text x="102.80000000000001" y="148.61" font-size="5" text-anchor="end" fill="#000">0.4</text><text x="102.80000000000001" y="141.19" font-size="5" text-anchor="end" fill="#000">0.6</text><text x="102.80000000000001" y="133.77" font-size="5" text-anchor="end" fill="#000">0.8</text><text x="102.80000000000001" y="126.35" font-size="5" text-anchor="end" fill="#000">1.0</text><text x="103.90" y="167.20" font-size="4.7" text-anchor="middle" fill="#000">0</text><text x="111.90" y="167.20" font-size="4.7" text-anchor="middle" fill="#000">4</text><text x="119.90" y="167.20" font-size="4.7" text-anchor="middle" fill="#000">8</text><text x="127.90" y="167.20" font-size="4.7" text-anchor="middle" fill="#000">12</text><text x="135.90" y="167.20" font-size="4.7" text-anchor="middle" fill="#000">16</text><text x="143.90" y="167.20" font-size="4.7" text-anchor="middle" fill="#000">20</text><path d="M164.7 162.00H215.0M164.7 158.29H215.0M164.7 154.58H215.0M164.7 150.87H215.0M164.7 147.16H215.0M164.7 143.45H215.0M164.7 139.74H215.0M164.7 136.03H215.0M164.7 132.32H215.0M164.7 128.61H215.0M164.7 124.90H215.0" stroke="#efefef" stroke-width="0.6" fill="none"/><path d="M164.7 124.9V162.0 M215.0 124.9V162.0" stroke="#e4e4e4" stroke-width="0.6" fill="none"/><path d="M164.70 124.90h2.0v14.84h-2.0zM166.70 124.90h2.0v1.11h-2.0zM168.70 124.90h2.0v2.97h-2.0zM170.70 124.90h2.0v2.60h-2.0zM172.70 124.90h2.0v2.97h-2.0zM174.70 124.90h2.0v7.05h-2.0zM176.70 124.90h2.0v3.34h-2.0zM178.70 124.90h2.0v7.42h-2.0zM180.70 124.90h2.0v2.60h-2.0zM182.70 124.90h2.0v7.79h-2.0zM184.70 124.90h2.0v1.11h-2.0z" fill="#727272"/><path d="M164.70 139.74h2.0v10.02h-2.0zM166.70 126.01h2.0v11.50h-2.0zM168.70 127.87h2.0v13.36h-2.0zM170.70 127.50h2.0v17.07h-2.0zM172.70 127.87h2.0v20.03h-2.0zM174.70 131.95h2.0v20.03h-2.0zM176.70 128.24h2.0v16.70h-2.0zM178.70 132.32h2.0v14.10h-2.0zM180.70 127.50h2.0v15.58h-2.0zM182.70 132.69h2.0v12.24h-2.0zM184.70 126.01h2.0v21.15h-2.0zM186.70 124.90h2.0v22.63h-2.0z" fill="#4a7dbb"/><path d="M164.70 149.76h2.0v2.97h-2.0zM166.70 137.51h2.0v4.08h-2.0zM168.70 141.22h2.0v4.82h-2.0zM170.70 144.56h2.0v6.31h-2.0zM172.70 147.90h2.0v4.08h-2.0zM174.70 151.98h2.0v1.86h-2.0zM176.70 144.93h2.0v9.28h-2.0zM178.70 146.42h2.0v4.82h-2.0zM180.70 143.08h2.0v7.42h-2.0zM182.70 144.93h2.0v4.82h-2.0zM184.70 147.16h2.0v3.71h-2.0zM186.70 147.53h2.0v4.45h-2.0z" fill="#ee8a35"/><path d="M164.70 152.72h2.0v9.28h-2.0zM166.70 141.59h2.0v20.41h-2.0zM168.70 146.05h2.0v15.95h-2.0zM170.70 150.87h2.0v11.13h-2.0zM172.70 151.98h2.0v10.02h-2.0zM174.70 153.84h2.0v8.16h-2.0zM176.70 154.21h2.0v7.79h-2.0zM178.70 151.24h2.0v10.76h-2.0zM180.70 150.50h2.0v11.50h-2.0zM182.70 149.76h2.0v12.24h-2.0zM184.70 150.87h2.0v11.13h-2.0zM186.70 151.98h2.0v10.02h-2.0z" fill="#d43c30"/><path d="M166.45 124.9V162.0M168.45 124.9V162.0M170.45 124.9V162.0M172.45 124.9V162.0M174.45 124.9V162.0M176.45 124.9V162.0M178.45 124.9V162.0M180.45 124.9V162.0M182.45 124.9V162.0M184.45 124.9V162.0M186.45 124.9V162.0" stroke="#fff" stroke-opacity="0.35" stroke-width="0.6" fill="none"/><text x="163.6" y="163.45" font-size="5" text-anchor="end" fill="#000">0.0</text><text x="163.6" y="156.03" font-size="5" text-anchor="end" fill="#000">0.2</text><text x="163.6" y="148.61" font-size="5" text-anchor="end" fill="#000">0.4</text><text x="163.6" y="141.19" font-size="5" text-anchor="end" fill="#000">0.6</text><text x="163.6" y="133.77" font-size="5" text-anchor="end" fill="#000">0.8</text><text x="163.6" y="126.35" font-size="5" text-anchor="end" fill="#000">1.0</text><text x="164.70" y="167.20" font-size="4.7" text-anchor="middle" fill="#000">0</text><text x="172.70" y="167.20" font-size="4.7" text-anchor="middle" fill="#000">4</text><text x="180.70" y="167.20" font-size="4.7" text-anchor="middle" fill="#000">8</text><text x="188.70" y="167.20" font-size="4.7" text-anchor="middle" fill="#000">12</text><text x="196.70" y="167.20" font-size="4.7" text-anchor="middle" fill="#000">16</text><text x="204.70" y="167.20" font-size="4.7" text-anchor="middle" fill="#000">20</text><path d="M225.5 162.00H275.8M225.5 158.29H275.8M225.5 154.58H275.8M225.5 150.87H275.8M225.5 147.16H275.8M225.5 143.45H275.8M225.5 139.74H275.8M225.5 136.03H275.8M225.5 132.32H275.8M225.5 128.61H275.8M225.5 124.90H275.8" stroke="#efefef" stroke-width="0.6" fill="none"/><path d="M225.5 124.9V162.0 M275.8 124.9V162.0" stroke="#e4e4e4" stroke-width="0.6" fill="none"/><path d="M227.50 124.90h2.0v1.48h-2.0zM229.50 124.90h2.0v2.60h-2.0zM231.50 124.90h2.0v5.94h-2.0zM233.50 124.90h2.0v7.05h-2.0zM235.50 124.90h2.0v4.08h-2.0zM237.50 124.90h2.0v10.76h-2.0zM239.50 124.90h2.0v10.39h-2.0zM241.50 124.90h2.0v5.94h-2.0zM243.50 124.90h2.0v1.11h-2.0zM245.50 124.90h2.0v1.86h-2.0z" fill="#727272"/><path d="M227.50 126.38h2.0v6.31h-2.0zM229.50 127.50h2.0v15.21h-2.0zM231.50 130.84h2.0v16.32h-2.0zM233.50 131.95h2.0v18.92h-2.0zM235.50 128.98h2.0v23.00h-2.0zM237.50 135.66h2.0v20.78h-2.0zM239.50 135.29h2.0v14.10h-2.0zM241.50 130.84h2.0v24.86h-2.0zM243.50 126.01h2.0v30.79h-2.0zM245.50 126.75h2.0v30.05h-2.0z" fill="#4a7dbb"/><path d="M227.50 132.69h2.0v3.34h-2.0zM229.50 142.71h2.0v6.31h-2.0zM231.50 147.16h2.0v2.60h-2.0zM233.50 150.87h2.0v5.57h-2.0zM235.50 151.98h2.0v3.71h-2.0zM237.50 156.44h2.0v1.48h-2.0zM239.50 149.39h2.0v4.45h-2.0zM241.50 155.69h2.0v1.48h-2.0zM243.50 156.81h2.0v1.48h-2.0zM245.50 156.81h2.0v1.86h-2.0z" fill="#ee8a35"/><path d="M227.50 136.03h2.0v25.97h-2.0zM229.50 149.01h2.0v12.98h-2.0zM231.50 149.76h2.0v12.24h-2.0zM233.50 156.44h2.0v5.57h-2.0zM235.50 155.69h2.0v6.31h-2.0zM237.50 157.92h2.0v4.08h-2.0zM239.50 153.84h2.0v8.16h-2.0zM241.50 157.18h2.0v4.82h-2.0zM243.50 158.29h2.0v3.71h-2.0zM245.50 158.66h2.0v3.34h-2.0z" fill="#d43c30"/><path d="M229.25 124.9V162.0M231.25 124.9V162.0M233.25 124.9V162.0M235.25 124.9V162.0M237.25 124.9V162.0M239.25 124.9V162.0M241.25 124.9V162.0M243.25 124.9V162.0M245.25 124.9V162.0" stroke="#fff" stroke-opacity="0.35" stroke-width="0.6" fill="none"/><text x="224.4" y="163.45" font-size="5" text-anchor="end" fill="#000">0.0</text><text x="224.4" y="156.03" font-size="5" text-anchor="end" fill="#000">0.2</text><text x="224.4" y="148.61" font-size="5" text-anchor="end" fill="#000">0.4</text><text x="224.4" y="141.19" font-size="5" text-anchor="end" fill="#000">0.6</text><text x="224.4" y="133.77" font-size="5" text-anchor="end" fill="#000">0.8</text><text x="224.4" y="126.35" font-size="5" text-anchor="end" fill="#000">1.0</text><text x="225.50" y="167.20" font-size="4.7" text-anchor="middle" fill="#000">0</text><text x="233.50" y="167.20" font-size="4.7" text-anchor="middle" fill="#000">4</text><text x="241.50" y="167.20" font-size="4.7" text-anchor="middle" fill="#000">8</text><text x="249.50" y="167.20" font-size="4.7" text-anchor="middle" fill="#000">12</text><text x="257.50" y="167.20" font-size="4.7" text-anchor="middle" fill="#000">16</text><text x="265.50" y="167.20" font-size="4.7" text-anchor="middle" fill="#000">20</text><path d="M286.3 162.00H336.6M286.3 158.29H336.6M286.3 154.58H336.6M286.3 150.87H336.6M286.3 147.16H336.6M286.3 143.45H336.6M286.3 139.74H336.6M286.3 136.03H336.6M286.3 132.32H336.6M286.3 128.61H336.6M286.3 124.90H336.6" stroke="#efefef" stroke-width="0.6" fill="none"/><path d="M286.3 124.9V162.0 M336.6 124.9V162.0" stroke="#e4e4e4" stroke-width="0.6" fill="none"/><path d="M290.30 124.90h2.0v1.11h-2.0zM292.30 124.90h2.0v1.11h-2.0zM294.30 124.90h2.0v1.11h-2.0zM300.30 124.90h2.0v1.11h-2.0zM302.30 124.90h2.0v1.11h-2.0zM304.30 124.90h2.0v1.11h-2.0z" fill="#727272"/><path d="M288.30 124.90h2.0v11.13h-2.0zM290.30 126.01h2.0v8.53h-2.0zM292.30 126.01h2.0v17.07h-2.0zM294.30 126.01h2.0v17.44h-2.0zM296.30 124.90h2.0v18.55h-2.0zM298.30 124.90h2.0v17.81h-2.0zM300.30 126.01h2.0v18.18h-2.0zM302.30 126.01h2.0v16.70h-2.0zM304.30 126.01h2.0v20.41h-2.0zM306.30 124.90h2.0v27.08h-2.0zM308.30 124.90h2.0v31.54h-2.0zM310.30 124.90h2.0v37.10h-2.0z" fill="#4a7dbb"/><path d="M288.30 136.03h2.0v3.71h-2.0zM290.30 134.55h2.0v8.53h-2.0zM292.30 143.08h2.0v6.68h-2.0zM294.30 143.45h2.0v4.82h-2.0zM296.30 143.45h2.0v7.42h-2.0zM298.30 142.71h2.0v7.05h-2.0zM300.30 144.19h2.0v6.68h-2.0zM302.30 142.71h2.0v7.05h-2.0zM304.30 146.42h2.0v7.79h-2.0zM306.30 151.98h2.0v5.94h-2.0zM308.30 156.44h2.0v3.34h-2.0z" fill="#ee8a35"/><path d="M288.30 139.74h2.0v22.26h-2.0zM290.30 143.08h2.0v18.92h-2.0zM292.30 149.76h2.0v12.24h-2.0zM294.30 148.27h2.0v13.73h-2.0zM296.30 150.87h2.0v11.13h-2.0zM298.30 149.76h2.0v12.24h-2.0zM300.30 150.87h2.0v11.13h-2.0zM302.30 149.76h2.0v12.24h-2.0zM304.30 154.21h2.0v7.79h-2.0zM306.30 157.92h2.0v4.08h-2.0zM308.30 159.77h2.0v2.23h-2.0z" fill="#d43c30"/><path d="M290.05 124.9V162.0M292.05 124.9V162.0M294.05 124.9V162.0M296.05 124.9V162.0M298.05 124.9V162.0M300.05 124.9V162.0M302.05 124.9V162.0M304.05 124.9V162.0M306.05 124.9V162.0M308.05 124.9V162.0M310.05 124.9V162.0" stroke="#fff" stroke-opacity="0.35" stroke-width="0.6" fill="none"/><text x="285.2" y="163.45" font-size="5" text-anchor="end" fill="#000">0.0</text><text x="285.2" y="156.03" font-size="5" text-anchor="end" fill="#000">0.2</text><text x="285.2" y="148.61" font-size="5" text-anchor="end" fill="#000">0.4</text><text x="285.2" y="141.19" font-size="5" text-anchor="end" fill="#000">0.6</text><text x="285.2" y="133.77" font-size="5" text-anchor="end" fill="#000">0.8</text><text x="285.2" y="126.35" font-size="5" text-anchor="end" fill="#000">1.0</text><text x="286.30" y="167.20" font-size="4.7" text-anchor="middle" fill="#000">0</text><text x="294.30" y="167.20" font-size="4.7" text-anchor="middle" fill="#000">4</text><text x="302.30" y="167.20" font-size="4.7" text-anchor="middle" fill="#000">8</text><text x="310.30" y="167.20" font-size="4.7" text-anchor="middle" fill="#000">12</text><text x="318.30" y="167.20" font-size="4.7" text-anchor="middle" fill="#000">16</text><text x="326.30" y="167.20" font-size="4.7" text-anchor="middle" fill="#000">20</text><path d="M347.1 162.00H397.40000000000003M347.1 158.29H397.40000000000003M347.1 154.58H397.40000000000003M347.1 150.87H397.40000000000003M347.1 147.16H397.40000000000003M347.1 143.45H397.40000000000003M347.1 139.74H397.40000000000003M347.1 136.03H397.40000000000003M347.1 132.32H397.40000000000003M347.1 128.61H397.40000000000003M347.1 124.90H397.40000000000003" stroke="#efefef" stroke-width="0.6" fill="none"/><path d="M347.1 124.9V162.0 M397.40000000000003 124.9V162.0" stroke="#e4e4e4" stroke-width="0.6" fill="none"/><path d="M355.10 124.90h2.0v35.99h-2.0zM357.10 124.90h2.0v35.99h-2.0zM359.10 124.90h2.0v33.39h-2.0zM361.10 124.90h2.0v32.65h-2.0zM363.10 124.90h2.0v33.02h-2.0zM365.10 124.90h2.0v33.39h-2.0zM367.10 124.90h2.0v34.13h-2.0zM369.10 124.90h2.0v35.24h-2.0zM371.10 124.90h2.0v35.24h-2.0zM373.10 124.90h2.0v34.50h-2.0zM375.10 124.90h2.0v33.39h-2.0zM377.10 124.90h2.0v35.24h-2.0z" fill="#727272"/><path d="M355.10 160.89h2.0v1.11h-2.0zM357.10 160.89h2.0v1.11h-2.0zM359.10 158.29h2.0v3.71h-2.0zM361.10 157.55h2.0v4.45h-2.0zM363.10 157.92h2.0v4.08h-2.0zM365.10 158.29h2.0v3.71h-2.0zM367.10 159.03h2.0v2.97h-2.0zM369.10 160.15h2.0v1.86h-2.0zM371.10 160.15h2.0v1.86h-2.0zM373.10 159.40h2.0v2.60h-2.0zM375.10 158.29h2.0v3.71h-2.0zM377.10 160.15h2.0v1.86h-2.0z" fill="#4a7dbb"/><path d="M356.85 124.9V162.0M358.85 124.9V162.0M360.85 124.9V162.0M362.85 124.9V162.0M364.85 124.9V162.0M366.85 124.9V162.0M368.85 124.9V162.0M370.85 124.9V162.0M372.85 124.9V162.0M374.85 124.9V162.0M376.85 124.9V162.0" stroke="#fff" stroke-opacity="0.35" stroke-width="0.6" fill="none"/><text x="346.0" y="163.45" font-size="5" text-anchor="end" fill="#000">0.0</text><text x="346.0" y="156.03" font-size="5" text-anchor="end" fill="#000">0.2</text><text x="346.0" y="148.61" font-size="5" text-anchor="end" fill="#000">0.4</text><text x="346.0" y="141.19" font-size="5" text-anchor="end" fill="#000">0.6</text><text x="346.0" y="133.77" font-size="5" text-anchor="end" fill="#000">0.8</text><text x="346.0" y="126.35" font-size="5" text-anchor="end" fill="#000">1.0</text><text x="347.10" y="167.20" font-size="4.7" text-anchor="middle" fill="#000">0</text><text x="355.10" y="167.20" font-size="4.7" text-anchor="middle" fill="#000">4</text><text x="363.10" y="167.20" font-size="4.7" text-anchor="middle" fill="#000">8</text><text x="371.10" y="167.20" font-size="4.7" text-anchor="middle" fill="#000">12</text><text x="379.10" y="167.20" font-size="4.7" text-anchor="middle" fill="#000">16</text><text x="387.10" y="167.20" font-size="4.7" text-anchor="middle" fill="#000">20</text><path d="M407.9 162.00H458.2M407.9 158.29H458.2M407.9 154.58H458.2M407.9 150.87H458.2M407.9 147.16H458.2M407.9 143.45H458.2M407.9 139.74H458.2M407.9 136.03H458.2M407.9 132.32H458.2M407.9 128.61H458.2M407.9 124.90H458.2" stroke="#efefef" stroke-width="0.6" fill="none"/><path d="M407.9 124.9V162.0 M458.2 124.9V162.0" stroke="#e4e4e4" stroke-width="0.6" fill="none"/><path d="M409.90 124.90h2.0v16.70h-2.0zM411.90 124.90h2.0v23.00h-2.0zM413.90 124.90h2.0v30.42h-2.0zM415.90 124.90h2.0v28.94h-2.0zM417.90 124.90h2.0v30.05h-2.0zM419.90 124.90h2.0v27.83h-2.0zM421.90 124.90h2.0v30.05h-2.0zM423.90 124.90h2.0v28.57h-2.0zM425.90 124.90h2.0v34.87h-2.0zM427.90 124.90h2.0v33.39h-2.0zM429.90 124.90h2.0v30.42h-2.0zM431.90 124.90h2.0v33.76h-2.0zM433.90 124.90h2.0v24.86h-2.0z" fill="#727272"/><path d="M409.90 141.59h2.0v14.84h-2.0zM411.90 147.90h2.0v8.90h-2.0zM413.90 155.32h2.0v4.45h-2.0zM415.90 153.84h2.0v6.31h-2.0zM417.90 154.95h2.0v5.94h-2.0zM419.90 152.72h2.0v7.05h-2.0zM421.90 154.95h2.0v5.94h-2.0zM423.90 153.47h2.0v6.68h-2.0zM425.90 159.77h2.0v2.23h-2.0zM427.90 158.29h2.0v3.71h-2.0zM429.90 155.32h2.0v6.68h-2.0zM431.90 158.66h2.0v2.23h-2.0zM433.90 149.76h2.0v12.24h-2.0z" fill="#4a7dbb"/><path d="M409.90 156.44h2.0v1.48h-2.0zM411.90 156.81h2.0v2.97h-2.0zM413.90 159.77h2.0v0.37h-2.0zM417.90 160.89h2.0v0.37h-2.0zM419.90 159.77h2.0v0.74h-2.0zM423.90 160.15h2.0v0.74h-2.0zM431.90 160.89h2.0v1.11h-2.0z" fill="#ee8a35"/><path d="M409.90 157.92h2.0v4.08h-2.0zM411.90 159.77h2.0v2.23h-2.0zM413.90 160.15h2.0v1.86h-2.0zM415.90 160.15h2.0v1.86h-2.0zM417.90 161.26h2.0v0.74h-2.0zM419.90 160.52h2.0v1.48h-2.0zM421.90 160.89h2.0v1.11h-2.0zM423.90 160.89h2.0v1.11h-2.0z" fill="#d43c30"/><path d="M411.65 124.9V162.0M413.65 124.9V162.0M415.65 124.9V162.0M417.65 124.9V162.0M419.65 124.9V162.0M421.65 124.9V162.0M423.65 124.9V162.0M425.65 124.9V162.0M427.65 124.9V162.0M429.65 124.9V162.0M431.65 124.9V162.0M433.65 124.9V162.0" stroke="#fff" stroke-opacity="0.35" stroke-width="0.6" fill="none"/><text x="406.79999999999995" y="163.45" font-size="5" text-anchor="end" fill="#000">0.0</text><text x="406.79999999999995" y="156.03" font-size="5" text-anchor="end" fill="#000">0.2</text><text x="406.79999999999995" y="148.61" font-size="5" text-anchor="end" fill="#000">0.4</text><text x="406.79999999999995" y="141.19" font-size="5" text-anchor="end" fill="#000">0.6</text><text x="406.79999999999995" y="133.77" font-size="5" text-anchor="end" fill="#000">0.8</text><text x="406.79999999999995" y="126.35" font-size="5" text-anchor="end" fill="#000">1.0</text><text x="407.90" y="167.20" font-size="4.7" text-anchor="middle" fill="#000">0</text><text x="415.90" y="167.20" font-size="4.7" text-anchor="middle" fill="#000">4</text><text x="423.90" y="167.20" font-size="4.7" text-anchor="middle" fill="#000">8</text><text x="431.90" y="167.20" font-size="4.7" text-anchor="middle" fill="#000">12</text><text x="439.90" y="167.20" font-size="4.7" text-anchor="middle" fill="#000">16</text><text x="447.90" y="167.20" font-size="4.7" text-anchor="middle" fill="#000">20</text><path d="M468.7 162.00H519.0M468.7 158.29H519.0M468.7 154.58H519.0M468.7 150.87H519.0M468.7 147.16H519.0M468.7 143.45H519.0M468.7 139.74H519.0M468.7 136.03H519.0M468.7 132.32H519.0M468.7 128.61H519.0M468.7 124.90H519.0" stroke="#efefef" stroke-width="0.6" fill="none"/><path d="M468.7 124.9V162.0 M519.0 124.9V162.0" stroke="#e4e4e4" stroke-width="0.6" fill="none"/><path d="M472.70 124.90h2.0v28.94h-2.0zM474.70 124.90h2.0v33.76h-2.0zM476.70 124.90h2.0v34.87h-2.0zM478.70 124.90h2.0v35.99h-2.0zM480.70 124.90h2.0v35.99h-2.0zM482.70 124.90h2.0v34.87h-2.0zM484.70 124.90h2.0v32.28h-2.0zM486.70 124.90h2.0v33.76h-2.0zM488.70 124.90h2.0v33.02h-2.0zM490.70 124.90h2.0v34.87h-2.0zM492.70 124.90h2.0v35.62h-2.0zM494.70 124.90h2.0v34.87h-2.0zM496.70 124.90h2.0v36.36h-2.0z" fill="#727272"/><path d="M472.70 153.84h2.0v7.42h-2.0zM474.70 158.66h2.0v3.34h-2.0zM476.70 159.77h2.0v2.23h-2.0zM478.70 160.89h2.0v1.11h-2.0zM480.70 160.89h2.0v1.11h-2.0zM482.70 159.77h2.0v2.23h-2.0zM484.70 157.18h2.0v4.82h-2.0zM486.70 158.66h2.0v2.97h-2.0zM488.70 157.92h2.0v4.08h-2.0zM490.70 159.77h2.0v2.23h-2.0zM494.70 159.77h2.0v2.23h-2.0zM496.70 161.26h2.0v0.74h-2.0z" fill="#4a7dbb"/><path d="M472.70 161.26h2.0v0.74h-2.0zM486.70 161.63h2.0v0.37h-2.0z" fill="#ee8a35"/><path d="M492.70 160.52h2.0v1.48h-2.0z" fill="#d43c30"/><path d="M474.45 124.9V162.0M476.45 124.9V162.0M478.45 124.9V162.0M480.45 124.9V162.0M482.45 124.9V162.0M484.45 124.9V162.0M486.45 124.9V162.0M488.45 124.9V162.0M490.45 124.9V162.0M492.45 124.9V162.0M494.45 124.9V162.0M496.45 124.9V162.0" stroke="#fff" stroke-opacity="0.35" stroke-width="0.6" fill="none"/><text x="467.59999999999997" y="163.45" font-size="5" text-anchor="end" fill="#000">0.0</text><text x="467.59999999999997" y="156.03" font-size="5" text-anchor="end" fill="#000">0.2</text><text x="467.59999999999997" y="148.61" font-size="5" text-anchor="end" fill="#000">0.4</text><text x="467.59999999999997" y="141.19" font-size="5" text-anchor="end" fill="#000">0.6</text><text x="467.59999999999997" y="133.77" font-size="5" text-anchor="end" fill="#000">0.8</text><text x="467.59999999999997" y="126.35" font-size="5" text-anchor="end" fill="#000">1.0</text><text x="468.70" y="167.20" font-size="4.7" text-anchor="middle" fill="#000">0</text><text x="476.70" y="167.20" font-size="4.7" text-anchor="middle" fill="#000">4</text><text x="484.70" y="167.20" font-size="4.7" text-anchor="middle" fill="#000">8</text><text x="492.70" y="167.20" font-size="4.7" text-anchor="middle" fill="#000">12</text><text x="500.70" y="167.20" font-size="4.7" text-anchor="middle" fill="#000">16</text><text x="508.70" y="167.20" font-size="4.7" text-anchor="middle" fill="#000">20</text><path d="M43.1 210.70H93.4M43.1 206.99H93.4M43.1 203.28H93.4M43.1 199.57H93.4M43.1 195.86H93.4M43.1 192.15H93.4M43.1 188.44H93.4M43.1 184.73H93.4M43.1 181.02H93.4M43.1 177.31H93.4M43.1 173.60H93.4" stroke="#efefef" stroke-width="0.6" fill="none"/><path d="M43.1 173.6V210.7 M93.4 173.6V210.7" stroke="#e4e4e4" stroke-width="0.6" fill="none"/><path d="M43.10 173.60h2.0v23.00h-2.0zM45.10 173.60h2.0v2.97h-2.0zM47.10 173.60h2.0v1.11h-2.0z" fill="#727272"/><path d="M43.10 196.60h2.0v5.94h-2.0zM45.10 176.57h2.0v5.19h-2.0zM47.10 174.71h2.0v1.85h-2.0zM49.10 173.60h2.0v1.86h-2.0zM51.10 173.60h2.0v1.48h-2.0zM53.10 173.60h2.0v1.48h-2.0zM55.10 173.60h2.0v1.11h-2.0zM57.10 173.60h2.0v1.11h-2.0zM59.10 173.60h2.0v1.11h-2.0zM61.10 173.60h2.0v1.11h-2.0zM63.10 173.60h2.0v1.48h-2.0zM65.10 173.60h2.0v1.11h-2.0zM67.10 173.60h2.0v1.86h-2.0zM69.10 173.60h2.0v1.86h-2.0zM71.10 173.60h2.0v1.48h-2.0z" fill="#4a7dbb"/><path d="M43.10 202.54h2.0v5.94h-2.0zM45.10 181.76h2.0v23.00h-2.0zM47.10 176.57h2.0v23.37h-2.0zM49.10 175.45h2.0v23.00h-2.0zM51.10 175.08h2.0v20.78h-2.0zM53.10 175.08h2.0v19.29h-2.0zM55.10 174.71h2.0v21.15h-2.0zM57.10 174.71h2.0v21.89h-2.0zM59.10 174.71h2.0v26.71h-2.0zM61.10 174.71h2.0v21.52h-2.0zM63.10 175.08h2.0v20.78h-2.0zM65.10 174.71h2.0v27.45h-2.0zM67.10 175.45h2.0v31.91h-2.0zM69.10 175.45h2.0v24.11h-2.0zM71.10 175.08h2.0v30.42h-2.0z" fill="#ee8a35"/><path d="M43.10 208.47h2.0v2.23h-2.0zM45.10 204.76h2.0v5.94h-2.0zM47.10 199.94h2.0v10.76h-2.0zM49.10 198.46h2.0v12.24h-2.0zM51.10 195.86h2.0v14.84h-2.0zM53.10 194.38h2.0v16.32h-2.0zM55.10 195.86h2.0v14.84h-2.0zM57.10 196.60h2.0v14.10h-2.0zM59.10 201.42h2.0v9.28h-2.0zM61.10 196.23h2.0v14.47h-2.0zM63.10 195.86h2.0v14.84h-2.0zM65.10 202.17h2.0v8.53h-2.0zM67.10 207.36h2.0v3.34h-2.0zM69.10 199.57h2.0v11.13h-2.0zM71.10 205.51h2.0v5.19h-2.0z" fill="#d43c30"/><path d="M44.85 173.6V210.7M46.85 173.6V210.7M48.85 173.6V210.7M50.85 173.6V210.7M52.85 173.6V210.7M54.85 173.6V210.7M56.85 173.6V210.7M58.85 173.6V210.7M60.85 173.6V210.7M62.85 173.6V210.7M64.85 173.6V210.7M66.85 173.6V210.7M68.85 173.6V210.7M70.85 173.6V210.7" stroke="#fff" stroke-opacity="0.35" stroke-width="0.6" fill="none"/><text x="42.0" y="212.15" font-size="5" text-anchor="end" fill="#000">0.0</text><text x="42.0" y="204.73" font-size="5" text-anchor="end" fill="#000">0.2</text><text x="42.0" y="197.31" font-size="5" text-anchor="end" fill="#000">0.4</text><text x="42.0" y="189.89" font-size="5" text-anchor="end" fill="#000">0.6</text><text x="42.0" y="182.47" font-size="5" text-anchor="end" fill="#000">0.8</text><text x="42.0" y="175.05" font-size="5" text-anchor="end" fill="#000">1.0</text><text x="43.10" y="215.90" font-size="4.7" text-anchor="middle" fill="#000">0</text><text x="51.10" y="215.90" font-size="4.7" text-anchor="middle" fill="#000">4</text><text x="59.10" y="215.90" font-size="4.7" text-anchor="middle" fill="#000">8</text><text x="67.10" y="215.90" font-size="4.7" text-anchor="middle" fill="#000">12</text><text x="75.10" y="215.90" font-size="4.7" text-anchor="middle" fill="#000">16</text><text x="83.10" y="215.90" font-size="4.7" text-anchor="middle" fill="#000">20</text><text transform="translate(33.5 192.15) rotate(-90)" font-size="3.8" text-anchor="middle" fill="#000" stroke="#000" stroke-width="0.12">IA-2A level (proportion)</text><path d="M103.9 210.70H154.2M103.9 206.99H154.2M103.9 203.28H154.2M103.9 199.57H154.2M103.9 195.86H154.2M103.9 192.15H154.2M103.9 188.44H154.2M103.9 184.73H154.2M103.9 181.02H154.2M103.9 177.31H154.2M103.9 173.60H154.2" stroke="#efefef" stroke-width="0.6" fill="none"/><path d="M103.9 173.6V210.7 M154.2 173.6V210.7" stroke="#e4e4e4" stroke-width="0.6" fill="none"/><path d="M115.90 173.60h2.0v0.74h-2.0zM119.90 173.60h2.0v0.74h-2.0zM127.90 173.60h2.0v1.86h-2.0zM129.90 173.60h2.0v0.74h-2.0z" fill="#4a7dbb"/><path d="M105.90 173.60h2.0v24.49h-2.0zM107.90 173.60h2.0v28.57h-2.0zM109.90 173.60h2.0v28.57h-2.0zM111.90 173.60h2.0v24.12h-2.0zM113.90 173.60h2.0v24.86h-2.0zM115.90 174.34h2.0v22.63h-2.0zM117.90 173.60h2.0v20.03h-2.0zM119.90 174.34h2.0v22.26h-2.0zM121.90 173.60h2.0v25.97h-2.0zM123.90 173.60h2.0v27.08h-2.0zM125.90 173.60h2.0v25.97h-2.0zM127.90 175.45h2.0v27.08h-2.0zM129.90 174.34h2.0v27.08h-2.0z" fill="#ee8a35"/><path d="M105.90 198.09h2.0v12.61h-2.0zM107.90 202.17h2.0v8.53h-2.0zM109.90 202.17h2.0v8.53h-2.0zM111.90 197.71h2.0v12.98h-2.0zM113.90 198.46h2.0v12.24h-2.0zM115.90 196.97h2.0v13.73h-2.0zM117.90 193.63h2.0v17.07h-2.0zM119.90 196.60h2.0v14.10h-2.0zM121.90 199.57h2.0v11.13h-2.0zM123.90 200.68h2.0v10.02h-2.0zM125.90 199.57h2.0v11.13h-2.0zM127.90 202.54h2.0v8.16h-2.0zM129.90 201.42h2.0v9.28h-2.0z" fill="#d43c30"/><path d="M107.65 173.6V210.7M109.65 173.6V210.7M111.65 173.6V210.7M113.65 173.6V210.7M115.65 173.6V210.7M117.65 173.6V210.7M119.65 173.6V210.7M121.65 173.6V210.7M123.65 173.6V210.7M125.65 173.6V210.7M127.65 173.6V210.7M129.65 173.6V210.7" stroke="#fff" stroke-opacity="0.35" stroke-width="0.6" fill="none"/><text x="102.80000000000001" y="212.15" font-size="5" text-anchor="end" fill="#000">0.0</text><text x="102.80000000000001" y="204.73" font-size="5" text-anchor="end" fill="#000">0.2</text><text x="102.80000000000001" y="197.31" font-size="5" text-anchor="end" fill="#000">0.4</text><text x="102.80000000000001" y="189.89" font-size="5" text-anchor="end" fill="#000">0.6</text><text x="102.80000000000001" y="182.47" font-size="5" text-anchor="end" fill="#000">0.8</text><text x="102.80000000000001" y="175.05" font-size="5" text-anchor="end" fill="#000">1.0</text><text x="103.90" y="215.90" font-size="4.7" text-anchor="middle" fill="#000">0</text><text x="111.90" y="215.90" font-size="4.7" text-anchor="middle" fill="#000">4</text><text x="119.90" y="215.90" font-size="4.7" text-anchor="middle" fill="#000">8</text><text x="127.90" y="215.90" font-size="4.7" text-anchor="middle" fill="#000">12</text><text x="135.90" y="215.90" font-size="4.7" text-anchor="middle" fill="#000">16</text><text x="143.90" y="215.90" font-size="4.7" text-anchor="middle" fill="#000">20</text><path d="M164.7 210.70H215.0M164.7 206.99H215.0M164.7 203.28H215.0M164.7 199.57H215.0M164.7 195.86H215.0M164.7 192.15H215.0M164.7 188.44H215.0M164.7 184.73H215.0M164.7 181.02H215.0M164.7 177.31H215.0M164.7 173.60H215.0" stroke="#efefef" stroke-width="0.6" fill="none"/><path d="M164.7 173.6V210.7 M215.0 173.6V210.7" stroke="#e4e4e4" stroke-width="0.6" fill="none"/><path d="M164.70 173.60h2.0v36.73h-2.0zM166.70 173.60h2.0v35.99h-2.0zM168.70 173.60h2.0v35.99h-2.0zM170.70 173.60h2.0v35.99h-2.0zM172.70 173.60h2.0v36.36h-2.0zM174.70 173.60h2.0v35.99h-2.0zM176.70 173.60h2.0v36.73h-2.0zM178.70 173.60h2.0v37.10h-2.0zM180.70 173.60h2.0v37.10h-2.0zM182.70 173.60h2.0v37.10h-2.0zM184.70 173.60h2.0v37.10h-2.0zM186.70 173.60h2.0v37.10h-2.0z" fill="#727272"/><path d="M166.70 209.59h2.0v0.74h-2.0zM168.70 209.59h2.0v1.11h-2.0zM170.70 209.59h2.0v1.11h-2.0zM172.70 209.96h2.0v0.74h-2.0zM174.70 209.59h2.0v1.11h-2.0zM176.70 210.33h2.0v0.37h-2.0z" fill="#4a7dbb"/><path d="M164.70 210.33h2.0v0.37h-2.0zM166.70 210.33h2.0v0.37h-2.0z" fill="#ee8a35"/><path d="M166.45 173.6V210.7M168.45 173.6V210.7M170.45 173.6V210.7M172.45 173.6V210.7M174.45 173.6V210.7M176.45 173.6V210.7M178.45 173.6V210.7M180.45 173.6V210.7M182.45 173.6V210.7M184.45 173.6V210.7M186.45 173.6V210.7" stroke="#fff" stroke-opacity="0.35" stroke-width="0.6" fill="none"/><text x="163.6" y="212.15" font-size="5" text-anchor="end" fill="#000">0.0</text><text x="163.6" y="204.73" font-size="5" text-anchor="end" fill="#000">0.2</text><text x="163.6" y="197.31" font-size="5" text-anchor="end" fill="#000">0.4</text><text x="163.6" y="189.89" font-size="5" text-anchor="end" fill="#000">0.6</text><text x="163.6" y="182.47" font-size="5" text-anchor="end" fill="#000">0.8</text><text x="163.6" y="175.05" font-size="5" text-anchor="end" fill="#000">1.0</text><text x="164.70" y="215.90" font-size="4.7" text-anchor="middle" fill="#000">0</text><text x="172.70" y="215.90" font-size="4.7" text-anchor="middle" fill="#000">4</text><text x="180.70" y="215.90" font-size="4.7" text-anchor="middle" fill="#000">8</text><text x="188.70" y="215.90" font-size="4.7" text-anchor="middle" fill="#000">12</text><text x="196.70" y="215.90" font-size="4.7" text-anchor="middle" fill="#000">16</text><text x="204.70" y="215.90" font-size="4.7" text-anchor="middle" fill="#000">20</text><path d="M225.5 210.70H275.8M225.5 206.99H275.8M225.5 203.28H275.8M225.5 199.57H275.8M225.5 195.86H275.8M225.5 192.15H275.8M225.5 188.44H275.8M225.5 184.73H275.8M225.5 181.02H275.8M225.5 177.31H275.8M225.5 173.60H275.8" stroke="#efefef" stroke-width="0.6" fill="none"/><path d="M225.5 173.6V210.7 M275.8 173.6V210.7" stroke="#e4e4e4" stroke-width="0.6" fill="none"/><path d="M227.50 173.60h2.0v0.74h-2.0zM229.50 173.60h2.0v0.74h-2.0zM231.50 173.60h2.0v0.74h-2.0zM233.50 173.60h2.0v0.74h-2.0zM235.50 173.60h2.0v0.74h-2.0zM237.50 173.60h2.0v0.74h-2.0z" fill="#727272"/><path d="M227.50 174.34h2.0v3.34h-2.0zM229.50 174.34h2.0v1.85h-2.0zM231.50 174.34h2.0v1.11h-2.0zM233.50 174.34h2.0v2.23h-2.0zM235.50 174.34h2.0v1.85h-2.0zM237.50 174.34h2.0v1.11h-2.0zM239.50 173.60h2.0v2.97h-2.0zM241.50 173.60h2.0v1.48h-2.0zM243.50 173.60h2.0v1.11h-2.0zM245.50 173.60h2.0v1.11h-2.0z" fill="#4a7dbb"/><path d="M227.50 177.68h2.0v29.68h-2.0zM229.50 176.20h2.0v28.94h-2.0zM231.50 175.45h2.0v27.08h-2.0zM233.50 176.57h2.0v28.94h-2.0zM235.50 176.20h2.0v32.28h-2.0zM237.50 175.45h2.0v30.05h-2.0zM239.50 176.57h2.0v27.83h-2.0zM241.50 175.08h2.0v30.05h-2.0zM243.50 174.71h2.0v28.94h-2.0zM245.50 174.71h2.0v35.99h-2.0z" fill="#ee8a35"/><path d="M227.50 207.36h2.0v3.34h-2.0zM229.50 205.13h2.0v5.57h-2.0zM231.50 202.54h2.0v8.16h-2.0zM233.50 205.51h2.0v5.19h-2.0zM235.50 208.47h2.0v2.23h-2.0zM237.50 205.51h2.0v5.19h-2.0zM239.50 204.39h2.0v6.31h-2.0zM241.50 205.13h2.0v5.57h-2.0zM243.50 203.65h2.0v7.05h-2.0z" fill="#d43c30"/><path d="M229.25 173.6V210.7M231.25 173.6V210.7M233.25 173.6V210.7M235.25 173.6V210.7M237.25 173.6V210.7M239.25 173.6V210.7M241.25 173.6V210.7M243.25 173.6V210.7M245.25 173.6V210.7" stroke="#fff" stroke-opacity="0.35" stroke-width="0.6" fill="none"/><text x="224.4" y="212.15" font-size="5" text-anchor="end" fill="#000">0.0</text><text x="224.4" y="204.73" font-size="5" text-anchor="end" fill="#000">0.2</text><text x="224.4" y="197.31" font-size="5" text-anchor="end" fill="#000">0.4</text><text x="224.4" y="189.89" font-size="5" text-anchor="end" fill="#000">0.6</text><text x="224.4" y="182.47" font-size="5" text-anchor="end" fill="#000">0.8</text><text x="224.4" y="175.05" font-size="5" text-anchor="end" fill="#000">1.0</text><text x="225.50" y="215.90" font-size="4.7" text-anchor="middle" fill="#000">0</text><text x="233.50" y="215.90" font-size="4.7" text-anchor="middle" fill="#000">4</text><text x="241.50" y="215.90" font-size="4.7" text-anchor="middle" fill="#000">8</text><text x="249.50" y="215.90" font-size="4.7" text-anchor="middle" fill="#000">12</text><text x="257.50" y="215.90" font-size="4.7" text-anchor="middle" fill="#000">16</text><text x="265.50" y="215.90" font-size="4.7" text-anchor="middle" fill="#000">20</text><path d="M286.3 210.70H336.6M286.3 206.99H336.6M286.3 203.28H336.6M286.3 199.57H336.6M286.3 195.86H336.6M286.3 192.15H336.6M286.3 188.44H336.6M286.3 184.73H336.6M286.3 181.02H336.6M286.3 177.31H336.6M286.3 173.60H336.6" stroke="#efefef" stroke-width="0.6" fill="none"/><path d="M286.3 173.6V210.7 M336.6 173.6V210.7" stroke="#e4e4e4" stroke-width="0.6" fill="none"/><path d="M288.30 173.60h2.0v1.86h-2.0zM290.30 173.60h2.0v1.48h-2.0zM292.30 173.60h2.0v1.11h-2.0zM294.30 173.60h2.0v0.37h-2.0z" fill="#4a7dbb"/><path d="M288.30 175.45h2.0v31.54h-2.0zM290.30 175.08h2.0v23.37h-2.0zM292.30 174.71h2.0v23.00h-2.0zM294.30 173.97h2.0v20.78h-2.0zM296.30 173.60h2.0v21.15h-2.0zM298.30 173.60h2.0v21.15h-2.0zM300.30 173.60h2.0v15.58h-2.0zM302.30 173.60h2.0v21.15h-2.0zM304.30 173.60h2.0v20.03h-2.0zM306.30 173.60h2.0v28.57h-2.0zM308.30 173.60h2.0v28.57h-2.0zM310.30 173.60h2.0v27.83h-2.0z" fill="#ee8a35"/><path d="M288.30 206.99h2.0v3.71h-2.0zM290.30 198.46h2.0v12.24h-2.0zM292.30 197.71h2.0v12.98h-2.0zM294.30 194.75h2.0v15.95h-2.0zM296.30 194.75h2.0v15.95h-2.0zM298.30 194.75h2.0v15.95h-2.0zM300.30 189.18h2.0v21.52h-2.0zM302.30 194.75h2.0v15.95h-2.0zM304.30 193.63h2.0v17.07h-2.0zM306.30 202.17h2.0v8.53h-2.0zM308.30 202.17h2.0v8.53h-2.0zM310.30 201.42h2.0v9.28h-2.0z" fill="#d43c30"/><path d="M290.05 173.6V210.7M292.05 173.6V210.7M294.05 173.6V210.7M296.05 173.6V210.7M298.05 173.6V210.7M300.05 173.6V210.7M302.05 173.6V210.7M304.05 173.6V210.7M306.05 173.6V210.7M308.05 173.6V210.7M310.05 173.6V210.7" stroke="#fff" stroke-opacity="0.35" stroke-width="0.6" fill="none"/><text x="285.2" y="212.15" font-size="5" text-anchor="end" fill="#000">0.0</text><text x="285.2" y="204.73" font-size="5" text-anchor="end" fill="#000">0.2</text><text x="285.2" y="197.31" font-size="5" text-anchor="end" fill="#000">0.4</text><text x="285.2" y="189.89" font-size="5" text-anchor="end" fill="#000">0.6</text><text x="285.2" y="182.47" font-size="5" text-anchor="end" fill="#000">0.8</text><text x="285.2" y="175.05" font-size="5" text-anchor="end" fill="#000">1.0</text><text x="286.30" y="215.90" font-size="4.7" text-anchor="middle" fill="#000">0</text><text x="294.30" y="215.90" font-size="4.7" text-anchor="middle" fill="#000">4</text><text x="302.30" y="215.90" font-size="4.7" text-anchor="middle" fill="#000">8</text><text x="310.30" y="215.90" font-size="4.7" text-anchor="middle" fill="#000">12</text><text x="318.30" y="215.90" font-size="4.7" text-anchor="middle" fill="#000">16</text><text x="326.30" y="215.90" font-size="4.7" text-anchor="middle" fill="#000">20</text><path d="M347.1 210.70H397.40000000000003M347.1 206.99H397.40000000000003M347.1 203.28H397.40000000000003M347.1 199.57H397.40000000000003M347.1 195.86H397.40000000000003M347.1 192.15H397.40000000000003M347.1 188.44H397.40000000000003M347.1 184.73H397.40000000000003M347.1 181.02H397.40000000000003M347.1 177.31H397.40000000000003M347.1 173.60H397.40000000000003" stroke="#efefef" stroke-width="0.6" fill="none"/><path d="M347.1 173.6V210.7 M397.40000000000003 173.6V210.7" stroke="#e4e4e4" stroke-width="0.6" fill="none"/><path d="M365.10 173.60h2.0v2.60h-2.0zM369.10 173.60h2.0v1.11h-2.0z" fill="#4a7dbb"/><path d="M355.10 173.60h2.0v24.86h-2.0zM357.10 173.60h2.0v24.12h-2.0zM359.10 173.60h2.0v24.86h-2.0zM361.10 173.60h2.0v23.00h-2.0zM363.10 173.60h2.0v25.97h-2.0zM365.10 176.20h2.0v25.97h-2.0zM367.10 173.60h2.0v22.26h-2.0zM369.10 174.71h2.0v26.71h-2.0zM371.10 173.60h2.0v27.83h-2.0zM373.10 173.60h2.0v27.45h-2.0zM375.10 173.60h2.0v31.91h-2.0zM377.10 173.60h2.0v37.10h-2.0z" fill="#ee8a35"/><path d="M355.10 198.46h2.0v12.24h-2.0zM357.10 197.71h2.0v12.98h-2.0zM359.10 198.46h2.0v12.24h-2.0zM361.10 196.60h2.0v14.10h-2.0zM363.10 199.57h2.0v11.13h-2.0zM365.10 202.17h2.0v8.53h-2.0zM367.10 195.86h2.0v14.84h-2.0zM369.10 201.42h2.0v9.28h-2.0zM371.10 201.42h2.0v9.28h-2.0zM373.10 201.05h2.0v9.65h-2.0zM375.10 205.51h2.0v5.19h-2.0z" fill="#d43c30"/><path d="M356.85 173.6V210.7M358.85 173.6V210.7M360.85 173.6V210.7M362.85 173.6V210.7M364.85 173.6V210.7M366.85 173.6V210.7M368.85 173.6V210.7M370.85 173.6V210.7M372.85 173.6V210.7M374.85 173.6V210.7M376.85 173.6V210.7" stroke="#fff" stroke-opacity="0.35" stroke-width="0.6" fill="none"/><text x="346.0" y="212.15" font-size="5" text-anchor="end" fill="#000">0.0</text><text x="346.0" y="204.73" font-size="5" text-anchor="end" fill="#000">0.2</text><text x="346.0" y="197.31" font-size="5" text-anchor="end" fill="#000">0.4</text><text x="346.0" y="189.89" font-size="5" text-anchor="end" fill="#000">0.6</text><text x="346.0" y="182.47" font-size="5" text-anchor="end" fill="#000">0.8</text><text x="346.0" y="175.05" font-size="5" text-anchor="end" fill="#000">1.0</text><text x="347.10" y="215.90" font-size="4.7" text-anchor="middle" fill="#000">0</text><text x="355.10" y="215.90" font-size="4.7" text-anchor="middle" fill="#000">4</text><text x="363.10" y="215.90" font-size="4.7" text-anchor="middle" fill="#000">8</text><text x="371.10" y="215.90" font-size="4.7" text-anchor="middle" fill="#000">12</text><text x="379.10" y="215.90" font-size="4.7" text-anchor="middle" fill="#000">16</text><text x="387.10" y="215.90" font-size="4.7" text-anchor="middle" fill="#000">20</text><path d="M407.9 210.70H458.2M407.9 206.99H458.2M407.9 203.28H458.2M407.9 199.57H458.2M407.9 195.86H458.2M407.9 192.15H458.2M407.9 188.44H458.2M407.9 184.73H458.2M407.9 181.02H458.2M407.9 177.31H458.2M407.9 173.60H458.2" stroke="#efefef" stroke-width="0.6" fill="none"/><path d="M407.9 173.6V210.7 M458.2 173.6V210.7" stroke="#e4e4e4" stroke-width="0.6" fill="none"/><path d="M409.90 173.60h2.0v36.36h-2.0zM411.90 173.60h2.0v35.24h-2.0zM413.90 173.60h2.0v34.87h-2.0zM415.90 173.60h2.0v34.87h-2.0zM417.90 173.60h2.0v35.24h-2.0zM419.90 173.60h2.0v35.99h-2.0zM421.90 173.60h2.0v36.36h-2.0zM423.90 173.60h2.0v35.99h-2.0zM425.90 173.60h2.0v35.62h-2.0zM427.90 173.60h2.0v36.36h-2.0zM429.90 173.60h2.0v36.73h-2.0zM431.90 173.60h2.0v37.10h-2.0zM433.90 173.60h2.0v37.10h-2.0z" fill="#727272"/><path d="M409.90 209.96h2.0v0.74h-2.0zM411.90 208.84h2.0v1.86h-2.0zM413.90 208.47h2.0v2.23h-2.0zM415.90 208.47h2.0v1.48h-2.0zM417.90 208.84h2.0v0.74h-2.0zM419.90 209.59h2.0v0.74h-2.0zM421.90 209.96h2.0v0.74h-2.0zM423.90 209.59h2.0v0.37h-2.0zM425.90 209.22h2.0v0.74h-2.0zM427.90 209.96h2.0v0.74h-2.0zM429.90 210.33h2.0v0.37h-2.0z" fill="#4a7dbb"/><path d="M415.90 209.96h2.0v0.74h-2.0zM417.90 209.59h2.0v1.11h-2.0zM419.90 210.33h2.0v0.37h-2.0zM423.90 209.96h2.0v0.74h-2.0zM425.90 209.96h2.0v0.74h-2.0z" fill="#ee8a35"/><path d="M411.65 173.6V210.7M413.65 173.6V210.7M415.65 173.6V210.7M417.65 173.6V210.7M419.65 173.6V210.7M421.65 173.6V210.7M423.65 173.6V210.7M425.65 173.6V210.7M427.65 173.6V210.7M429.65 173.6V210.7M431.65 173.6V210.7M433.65 173.6V210.7" stroke="#fff" stroke-opacity="0.35" stroke-width="0.6" fill="none"/><text x="406.79999999999995" y="212.15" font-size="5" text-anchor="end" fill="#000">0.0</text><text x="406.79999999999995" y="204.73" font-size="5" text-anchor="end" fill="#000">0.2</text><text x="406.79999999999995" y="197.31" font-size="5" text-anchor="end" fill="#000">0.4</text><text x="406.79999999999995" y="189.89" font-size="5" text-anchor="end" fill="#000">0.6</text><text x="406.79999999999995" y="182.47" font-size="5" text-anchor="end" fill="#000">0.8</text><text x="406.79999999999995" y="175.05" font-size="5" text-anchor="end" fill="#000">1.0</text><text x="407.90" y="215.90" font-size="4.7" text-anchor="middle" fill="#000">0</text><text x="415.90" y="215.90" font-size="4.7" text-anchor="middle" fill="#000">4</text><text x="423.90" y="215.90" font-size="4.7" text-anchor="middle" fill="#000">8</text><text x="431.90" y="215.90" font-size="4.7" text-anchor="middle" fill="#000">12</text><text x="439.90" y="215.90" font-size="4.7" text-anchor="middle" fill="#000">16</text><text x="447.90" y="215.90" font-size="4.7" text-anchor="middle" fill="#000">20</text><path d="M468.7 210.70H519.0M468.7 206.99H519.0M468.7 203.28H519.0M468.7 199.57H519.0M468.7 195.86H519.0M468.7 192.15H519.0M468.7 188.44H519.0M468.7 184.73H519.0M468.7 181.02H519.0M468.7 177.31H519.0M468.7 173.60H519.0" stroke="#efefef" stroke-width="0.6" fill="none"/><path d="M468.7 173.6V210.7 M519.0 173.6V210.7" stroke="#e4e4e4" stroke-width="0.6" fill="none"/><path d="M472.70 173.60h2.0v1.11h-2.0zM476.70 173.60h2.0v1.86h-2.0zM478.70 173.60h2.0v0.74h-2.0zM480.70 173.60h2.0v0.74h-2.0zM482.70 173.60h2.0v0.74h-2.0zM484.70 173.60h2.0v0.74h-2.0zM486.70 173.60h2.0v0.74h-2.0zM490.70 173.60h2.0v1.86h-2.0z" fill="#4a7dbb"/><path d="M472.70 174.71h2.0v31.16h-2.0zM474.70 173.60h2.0v30.79h-2.0zM476.70 175.45h2.0v28.20h-2.0zM478.70 174.34h2.0v24.11h-2.0zM480.70 174.34h2.0v28.20h-2.0zM482.70 174.34h2.0v25.23h-2.0zM484.70 174.34h2.0v30.79h-2.0zM486.70 174.34h2.0v32.65h-2.0zM488.70 173.60h2.0v30.79h-2.0zM490.70 175.45h2.0v33.02h-2.0zM492.70 173.60h2.0v31.91h-2.0zM494.70 173.60h2.0v35.24h-2.0zM496.70 173.60h2.0v37.10h-2.0z" fill="#ee8a35"/><path d="M472.70 205.88h2.0v4.82h-2.0zM474.70 204.39h2.0v6.31h-2.0zM476.70 203.65h2.0v7.05h-2.0zM478.70 198.46h2.0v12.24h-2.0zM480.70 202.54h2.0v8.16h-2.0zM482.70 199.57h2.0v11.13h-2.0zM484.70 205.13h2.0v5.57h-2.0zM486.70 206.99h2.0v3.71h-2.0zM488.70 204.39h2.0v6.31h-2.0zM490.70 208.47h2.0v2.23h-2.0zM492.70 205.51h2.0v5.19h-2.0zM494.70 208.84h2.0v1.86h-2.0z" fill="#d43c30"/><path d="M474.45 173.6V210.7M476.45 173.6V210.7M478.45 173.6V210.7M480.45 173.6V210.7M482.45 173.6V210.7M484.45 173.6V210.7M486.45 173.6V210.7M488.45 173.6V210.7M490.45 173.6V210.7M492.45 173.6V210.7M494.45 173.6V210.7M496.45 173.6V210.7" stroke="#fff" stroke-opacity="0.35" stroke-width="0.6" fill="none"/><text x="467.59999999999997" y="212.15" font-size="5" text-anchor="end" fill="#000">0.0</text><text x="467.59999999999997" y="204.73" font-size="5" text-anchor="end" fill="#000">0.2</text><text x="467.59999999999997" y="197.31" font-size="5" text-anchor="end" fill="#000">0.4</text><text x="467.59999999999997" y="189.89" font-size="5" text-anchor="end" fill="#000">0.6</text><text x="467.59999999999997" y="182.47" font-size="5" text-anchor="end" fill="#000">0.8</text><text x="467.59999999999997" y="175.05" font-size="5" text-anchor="end" fill="#000">1.0</text><text x="468.70" y="215.90" font-size="4.7" text-anchor="middle" fill="#000">0</text><text x="476.70" y="215.90" font-size="4.7" text-anchor="middle" fill="#000">4</text><text x="484.70" y="215.90" font-size="4.7" text-anchor="middle" fill="#000">8</text><text x="492.70" y="215.90" font-size="4.7" text-anchor="middle" fill="#000">12</text><text x="500.70" y="215.90" font-size="4.7" text-anchor="middle" fill="#000">16</text><text x="508.70" y="215.90" font-size="4.7" text-anchor="middle" fill="#000">20</text><path d="M43.1 257.00H93.4M43.1 253.29H93.4M43.1 249.58H93.4M43.1 245.87H93.4M43.1 242.16H93.4M43.1 238.45H93.4M43.1 234.74H93.4M43.1 231.03H93.4M43.1 227.32H93.4M43.1 223.61H93.4M43.1 219.90H93.4" stroke="#efefef" stroke-width="0.6" fill="none"/><path d="M43.1 219.9V257.0 M93.4 219.9V257.0" stroke="#e4e4e4" stroke-width="0.6" fill="none"/><path d="M45.10 219.90h2.0v11.13h-2.0zM47.10 219.90h2.0v3.34h-2.0zM49.10 219.90h2.0v2.97h-2.0zM51.10 219.90h2.0v7.42h-2.0zM53.10 219.90h2.0v4.45h-2.0zM55.10 219.90h2.0v4.45h-2.0zM57.10 219.90h2.0v0.37h-2.0zM59.10 219.90h2.0v4.08h-2.0zM61.10 219.90h2.0v2.60h-2.0zM63.10 219.90h2.0v0.37h-2.0zM65.10 219.90h2.0v0.37h-2.0z" fill="#727272"/><path d="M45.10 231.03h2.0v22.63h-2.0zM47.10 223.24h2.0v25.60h-2.0zM49.10 222.87h2.0v14.84h-2.0zM51.10 227.32h2.0v20.41h-2.0zM53.10 224.35h2.0v15.21h-2.0zM55.10 224.35h2.0v2.97h-2.0zM57.10 220.27h2.0v5.94h-2.0zM59.10 223.98h2.0v6.68h-2.0zM61.10 222.50h2.0v8.16h-2.0zM63.10 220.27h2.0v9.28h-2.0zM65.10 220.27h2.0v5.94h-2.0zM67.10 219.90h2.0v9.65h-2.0z" fill="#4a7dbb"/><path d="M45.10 253.66h2.0v1.11h-2.0zM47.10 248.84h2.0v7.05h-2.0zM49.10 237.71h2.0v8.16h-2.0zM51.10 247.72h2.0v1.48h-2.0zM53.10 239.56h2.0v11.13h-2.0zM55.10 227.32h2.0v21.52h-2.0zM57.10 226.21h2.0v18.18h-2.0zM59.10 230.66h2.0v12.24h-2.0zM61.10 230.66h2.0v12.24h-2.0zM63.10 229.55h2.0v16.32h-2.0zM65.10 226.21h2.0v17.81h-2.0zM67.10 229.55h2.0v14.84h-2.0z" fill="#ee8a35"/><path d="M45.10 254.77h2.0v2.23h-2.0zM47.10 255.89h2.0v1.11h-2.0zM49.10 245.87h2.0v11.13h-2.0zM51.10 249.21h2.0v7.79h-2.0zM53.10 250.69h2.0v6.31h-2.0zM55.10 248.84h2.0v8.16h-2.0zM57.10 244.39h2.0v12.61h-2.0zM59.10 242.90h2.0v14.10h-2.0zM61.10 242.90h2.0v14.10h-2.0zM63.10 245.87h2.0v11.13h-2.0zM65.10 244.01h2.0v12.98h-2.0zM67.10 244.39h2.0v12.61h-2.0z" fill="#d43c30"/><path d="M46.85 219.9V257.0M48.85 219.9V257.0M50.85 219.9V257.0M52.85 219.9V257.0M54.85 219.9V257.0M56.85 219.9V257.0M58.85 219.9V257.0M60.85 219.9V257.0M62.85 219.9V257.0M64.85 219.9V257.0M66.85 219.9V257.0" stroke="#fff" stroke-opacity="0.35" stroke-width="0.6" fill="none"/><text x="42.0" y="258.45" font-size="5" text-anchor="end" fill="#000">0.0</text><text x="42.0" y="251.03" font-size="5" text-anchor="end" fill="#000">0.2</text><text x="42.0" y="243.61" font-size="5" text-anchor="end" fill="#000">0.4</text><text x="42.0" y="236.19" font-size="5" text-anchor="end" fill="#000">0.6</text><text x="42.0" y="228.77" font-size="5" text-anchor="end" fill="#000">0.8</text><text x="42.0" y="221.35" font-size="5" text-anchor="end" fill="#000">1.0</text><text x="43.10" y="262.20" font-size="4.7" text-anchor="middle" fill="#000">0</text><text x="51.10" y="262.20" font-size="4.7" text-anchor="middle" fill="#000">4</text><text x="59.10" y="262.20" font-size="4.7" text-anchor="middle" fill="#000">8</text><text x="67.10" y="262.20" font-size="4.7" text-anchor="middle" fill="#000">12</text><text x="75.10" y="262.20" font-size="4.7" text-anchor="middle" fill="#000">16</text><text x="83.10" y="262.20" font-size="4.7" text-anchor="middle" fill="#000">20</text><text transform="translate(33.5 238.45) rotate(-90)" font-size="3.8" text-anchor="middle" fill="#000" stroke="#000" stroke-width="0.12">GADA level (proportion)</text><path d="M103.9 257.00H154.2M103.9 253.29H154.2M103.9 249.58H154.2M103.9 245.87H154.2M103.9 242.16H154.2M103.9 238.45H154.2M103.9 234.74H154.2M103.9 231.03H154.2M103.9 227.32H154.2M103.9 223.61H154.2M103.9 219.90H154.2" stroke="#efefef" stroke-width="0.6" fill="none"/><path d="M103.9 219.9V257.0 M154.2 219.9V257.0" stroke="#e4e4e4" stroke-width="0.6" fill="none"/><path d="M109.90 219.90h2.0v33.02h-2.0zM111.90 219.90h2.0v35.24h-2.0zM113.90 219.90h2.0v34.50h-2.0zM115.90 219.90h2.0v35.24h-2.0zM117.90 219.90h2.0v29.31h-2.0zM119.90 219.90h2.0v27.83h-2.0zM121.90 219.90h2.0v31.16h-2.0zM123.90 219.90h2.0v33.02h-2.0zM125.90 219.90h2.0v33.76h-2.0zM127.90 219.90h2.0v35.24h-2.0zM129.90 219.90h2.0v36.36h-2.0zM131.90 219.90h2.0v36.73h-2.0zM133.90 219.90h2.0v35.24h-2.0zM135.90 219.90h2.0v34.87h-2.0zM137.90 219.90h2.0v37.10h-2.0z" fill="#727272"/><path d="M109.90 252.92h2.0v4.08h-2.0zM111.90 255.15h2.0v1.86h-2.0zM113.90 254.40h2.0v2.60h-2.0zM115.90 255.15h2.0v1.86h-2.0zM117.90 249.21h2.0v7.05h-2.0zM119.90 247.72h2.0v8.53h-2.0zM121.90 251.06h2.0v5.19h-2.0zM123.90 252.92h2.0v4.08h-2.0zM125.90 253.66h2.0v3.34h-2.0zM127.90 255.15h2.0v1.86h-2.0zM129.90 256.26h2.0v0.74h-2.0zM131.90 256.63h2.0v0.37h-2.0zM133.90 255.15h2.0v1.86h-2.0zM135.90 254.77h2.0v2.23h-2.0z" fill="#4a7dbb"/><path d="M117.90 256.26h2.0v0.74h-2.0zM119.90 256.26h2.0v0.74h-2.0zM121.90 256.26h2.0v0.74h-2.0z" fill="#ee8a35"/><path d="M111.65 219.9V257.0M113.65 219.9V257.0M115.65 219.9V257.0M117.65 219.9V257.0M119.65 219.9V257.0M121.65 219.9V257.0M123.65 219.9V257.0M125.65 219.9V257.0M127.65 219.9V257.0M129.65 219.9V257.0M131.65 219.9V257.0M133.65 219.9V257.0M135.65 219.9V257.0M137.65 219.9V257.0" stroke="#fff" stroke-opacity="0.35" stroke-width="0.6" fill="none"/><text x="102.80000000000001" y="258.45" font-size="5" text-anchor="end" fill="#000">0.0</text><text x="102.80000000000001" y="251.03" font-size="5" text-anchor="end" fill="#000">0.2</text><text x="102.80000000000001" y="243.61" font-size="5" text-anchor="end" fill="#000">0.4</text><text x="102.80000000000001" y="236.19" font-size="5" text-anchor="end" fill="#000">0.6</text><text x="102.80000000000001" y="228.77" font-size="5" text-anchor="end" fill="#000">0.8</text><text x="102.80000000000001" y="221.35" font-size="5" text-anchor="end" fill="#000">1.0</text><text x="103.90" y="262.20" font-size="4.7" text-anchor="middle" fill="#000">0</text><text x="111.90" y="262.20" font-size="4.7" text-anchor="middle" fill="#000">4</text><text x="119.90" y="262.20" font-size="4.7" text-anchor="middle" fill="#000">8</text><text x="127.90" y="262.20" font-size="4.7" text-anchor="middle" fill="#000">12</text><text x="135.90" y="262.20" font-size="4.7" text-anchor="middle" fill="#000">16</text><text x="143.90" y="262.20" font-size="4.7" text-anchor="middle" fill="#000">20</text><path d="M164.7 257.00H215.0M164.7 253.29H215.0M164.7 249.58H215.0M164.7 245.87H215.0M164.7 242.16H215.0M164.7 238.45H215.0M164.7 234.74H215.0M164.7 231.03H215.0M164.7 227.32H215.0M164.7 223.61H215.0M164.7 219.90H215.0" stroke="#efefef" stroke-width="0.6" fill="none"/><path d="M164.7 219.9V257.0 M215.0 219.9V257.0" stroke="#e4e4e4" stroke-width="0.6" fill="none"/><path d="M164.70 219.90h2.0v33.39h-2.0zM166.70 219.90h2.0v28.94h-2.0zM168.70 219.90h2.0v27.45h-2.0zM170.70 219.90h2.0v23.37h-2.0zM172.70 219.90h2.0v23.00h-2.0zM174.70 219.90h2.0v27.45h-2.0zM176.70 219.90h2.0v24.12h-2.0zM178.70 219.90h2.0v27.08h-2.0zM180.70 219.90h2.0v25.97h-2.0zM182.70 219.90h2.0v25.23h-2.0zM184.70 219.90h2.0v28.94h-2.0zM186.70 219.90h2.0v27.45h-2.0zM188.70 219.90h2.0v27.45h-2.0zM190.70 219.90h2.0v31.16h-2.0zM192.70 219.90h2.0v31.16h-2.0zM194.70 219.90h2.0v31.16h-2.0zM196.70 219.90h2.0v31.16h-2.0zM198.70 219.90h2.0v34.50h-2.0zM200.70 219.90h2.0v33.76h-2.0zM202.70 219.90h2.0v37.10h-2.0zM204.70 219.90h2.0v33.76h-2.0zM206.70 219.90h2.0v37.10h-2.0z" fill="#727272"/><path d="M164.70 253.29h2.0v1.86h-2.0zM166.70 248.84h2.0v4.08h-2.0zM168.70 247.35h2.0v7.05h-2.0zM170.70 243.27h2.0v5.94h-2.0zM172.70 242.90h2.0v7.79h-2.0zM174.70 247.35h2.0v4.08h-2.0zM176.70 244.01h2.0v5.94h-2.0zM178.70 246.98h2.0v3.34h-2.0zM180.70 245.87h2.0v4.82h-2.0zM182.70 245.13h2.0v3.34h-2.0zM184.70 248.84h2.0v2.60h-2.0zM186.70 247.35h2.0v3.71h-2.0zM188.70 247.35h2.0v3.71h-2.0zM190.70 251.06h2.0v3.34h-2.0zM192.70 251.06h2.0v2.23h-2.0zM194.70 251.06h2.0v4.45h-2.0zM196.70 251.06h2.0v5.94h-2.0zM198.70 254.40h2.0v2.60h-2.0zM200.70 253.66h2.0v3.34h-2.0zM204.70 253.66h2.0v3.34h-2.0z" fill="#4a7dbb"/><path d="M164.70 255.15h2.0v1.11h-2.0zM166.70 252.92h2.0v2.97h-2.0zM168.70 254.40h2.0v1.48h-2.0zM170.70 249.21h2.0v5.19h-2.0zM172.70 250.69h2.0v2.97h-2.0zM174.70 251.44h2.0v3.34h-2.0zM176.70 249.95h2.0v3.71h-2.0zM178.70 250.32h2.0v4.08h-2.0zM180.70 250.69h2.0v2.97h-2.0zM182.70 248.47h2.0v5.19h-2.0zM184.70 251.44h2.0v2.97h-2.0zM186.70 251.06h2.0v2.97h-2.0zM188.70 251.06h2.0v3.34h-2.0zM190.70 254.40h2.0v1.11h-2.0zM192.70 253.29h2.0v1.86h-2.0zM194.70 255.52h2.0v0.37h-2.0z" fill="#ee8a35"/><path d="M164.70 256.26h2.0v0.74h-2.0zM166.70 255.89h2.0v1.11h-2.0zM168.70 255.89h2.0v1.11h-2.0zM170.70 254.40h2.0v2.60h-2.0zM172.70 253.66h2.0v3.34h-2.0zM174.70 254.77h2.0v2.23h-2.0zM176.70 253.66h2.0v3.34h-2.0zM178.70 254.40h2.0v2.60h-2.0zM180.70 253.66h2.0v3.34h-2.0zM182.70 253.66h2.0v3.34h-2.0zM184.70 254.40h2.0v2.60h-2.0zM186.70 254.03h2.0v2.97h-2.0zM188.70 254.40h2.0v2.60h-2.0zM190.70 255.52h2.0v1.48h-2.0zM192.70 255.15h2.0v1.86h-2.0zM194.70 255.89h2.0v1.11h-2.0z" fill="#d43c30"/><path d="M166.45 219.9V257.0M168.45 219.9V257.0M170.45 219.9V257.0M172.45 219.9V257.0M174.45 219.9V257.0M176.45 219.9V257.0M178.45 219.9V257.0M180.45 219.9V257.0M182.45 219.9V257.0M184.45 219.9V257.0M186.45 219.9V257.0M188.45 219.9V257.0M190.45 219.9V257.0M192.45 219.9V257.0M194.45 219.9V257.0M196.45 219.9V257.0M198.45 219.9V257.0M200.45 219.9V257.0M202.45 219.9V257.0M204.45 219.9V257.0M206.45 219.9V257.0" stroke="#fff" stroke-opacity="0.35" stroke-width="0.6" fill="none"/><text x="163.6" y="258.45" font-size="5" text-anchor="end" fill="#000">0.0</text><text x="163.6" y="251.03" font-size="5" text-anchor="end" fill="#000">0.2</text><text x="163.6" y="243.61" font-size="5" text-anchor="end" fill="#000">0.4</text><text x="163.6" y="236.19" font-size="5" text-anchor="end" fill="#000">0.6</text><text x="163.6" y="228.77" font-size="5" text-anchor="end" fill="#000">0.8</text><text x="163.6" y="221.35" font-size="5" text-anchor="end" fill="#000">1.0</text><text x="164.70" y="262.20" font-size="4.7" text-anchor="middle" fill="#000">0</text><text x="172.70" y="262.20" font-size="4.7" text-anchor="middle" fill="#000">4</text><text x="180.70" y="262.20" font-size="4.7" text-anchor="middle" fill="#000">8</text><text x="188.70" y="262.20" font-size="4.7" text-anchor="middle" fill="#000">12</text><text x="196.70" y="262.20" font-size="4.7" text-anchor="middle" fill="#000">16</text><text x="204.70" y="262.20" font-size="4.7" text-anchor="middle" fill="#000">20</text><path d="M225.5 257.00H275.8M225.5 253.29H275.8M225.5 249.58H275.8M225.5 245.87H275.8M225.5 242.16H275.8M225.5 238.45H275.8M225.5 234.74H275.8M225.5 231.03H275.8M225.5 227.32H275.8M225.5 223.61H275.8M225.5 219.90H275.8" stroke="#efefef" stroke-width="0.6" fill="none"/><path d="M225.5 219.9V257.0 M275.8 219.9V257.0" stroke="#e4e4e4" stroke-width="0.6" fill="none"/><rect x="229.6" y="219.90" width="1.60" height="18.55" fill="#727272"/><rect x="229.6" y="238.45" width="1.60" height="13.36" fill="#4a7dbb"/><rect x="229.6" y="251.81" width="1.60" height="2.97" fill="#ee8a35"/><rect x="229.6" y="254.77" width="1.60" height="2.23" fill="#d43c30"/><rect x="233.4" y="219.90" width="1.70" height="9.28" fill="#727272"/><rect x="233.4" y="229.18" width="1.70" height="6.31" fill="#4a7dbb"/><rect x="233.4" y="235.48" width="1.70" height="9.65" fill="#ee8a35"/><rect x="233.4" y="245.13" width="1.70" height="11.87" fill="#d43c30"/><text x="224.4" y="258.45" font-size="5" text-anchor="end" fill="#000">0.0</text><text x="224.4" y="251.03" font-size="5" text-anchor="end" fill="#000">0.2</text><text x="224.4" y="243.61" font-size="5" text-anchor="end" fill="#000">0.4</text><text x="224.4" y="236.19" font-size="5" text-anchor="end" fill="#000">0.6</text><text x="224.4" y="228.77" font-size="5" text-anchor="end" fill="#000">0.8</text><text x="224.4" y="221.35" font-size="5" text-anchor="end" fill="#000">1.0</text><text x="225.50" y="262.20" font-size="4.7" text-anchor="middle" fill="#000">0</text><text x="233.50" y="262.20" font-size="4.7" text-anchor="middle" fill="#000">4</text><text x="241.50" y="262.20" font-size="4.7" text-anchor="middle" fill="#000">8</text><text x="249.50" y="262.20" font-size="4.7" text-anchor="middle" fill="#000">12</text><text x="257.50" y="262.20" font-size="4.7" text-anchor="middle" fill="#000">16</text><text x="265.50" y="262.20" font-size="4.7" text-anchor="middle" fill="#000">20</text><path d="M286.3 257.00H336.6M286.3 253.29H336.6M286.3 249.58H336.6M286.3 245.87H336.6M286.3 242.16H336.6M286.3 238.45H336.6M286.3 234.74H336.6M286.3 231.03H336.6M286.3 227.32H336.6M286.3 223.61H336.6M286.3 219.90H336.6" stroke="#efefef" stroke-width="0.6" fill="none"/><path d="M286.3 219.9V257.0 M336.6 219.9V257.0" stroke="#e4e4e4" stroke-width="0.6" fill="none"/><path d="M306.30 219.90h2.0v0.74h-2.0z" fill="#727272"/><path d="M290.30 219.90h2.0v9.28h-2.0zM292.30 219.90h2.0v16.32h-2.0zM294.30 219.90h2.0v7.42h-2.0zM296.30 219.90h2.0v7.05h-2.0zM298.30 219.90h2.0v7.79h-2.0zM300.30 219.90h2.0v9.28h-2.0zM302.30 219.90h2.0v13.36h-2.0zM304.30 219.90h2.0v9.65h-2.0zM306.30 220.64h2.0v8.16h-2.0zM308.30 219.90h2.0v2.97h-2.0zM310.30 219.90h2.0v1.86h-2.0zM312.30 219.90h2.0v4.82h-2.0z" fill="#4a7dbb"/><path d="M290.30 229.18h2.0v14.10h-2.0zM292.30 236.22h2.0v6.31h-2.0zM294.30 227.32h2.0v12.61h-2.0zM296.30 226.95h2.0v17.07h-2.0zM298.30 227.69h2.0v15.58h-2.0zM300.30 229.18h2.0v14.10h-2.0zM302.30 233.26h2.0v11.50h-2.0zM304.30 229.55h2.0v5.57h-2.0zM306.30 228.80h2.0v4.82h-2.0zM308.30 222.87h2.0v5.19h-2.0zM310.30 221.75h2.0v15.21h-2.0zM312.30 224.72h2.0v17.44h-2.0z" fill="#ee8a35"/><path d="M290.30 243.27h2.0v13.73h-2.0zM292.30 242.53h2.0v14.47h-2.0zM294.30 239.93h2.0v17.07h-2.0zM296.30 244.01h2.0v12.98h-2.0zM298.30 243.27h2.0v13.73h-2.0zM300.30 243.27h2.0v13.73h-2.0zM302.30 244.76h2.0v12.24h-2.0zM304.30 235.11h2.0v21.89h-2.0zM306.30 233.63h2.0v23.37h-2.0zM308.30 228.06h2.0v28.94h-2.0zM310.30 236.97h2.0v20.03h-2.0zM312.30 242.16h2.0v14.84h-2.0z" fill="#d43c30"/><path d="M292.05 219.9V257.0M294.05 219.9V257.0M296.05 219.9V257.0M298.05 219.9V257.0M300.05 219.9V257.0M302.05 219.9V257.0M304.05 219.9V257.0M306.05 219.9V257.0M308.05 219.9V257.0M310.05 219.9V257.0M312.05 219.9V257.0" stroke="#fff" stroke-opacity="0.35" stroke-width="0.6" fill="none"/><text x="285.2" y="258.45" font-size="5" text-anchor="end" fill="#000">0.0</text><text x="285.2" y="251.03" font-size="5" text-anchor="end" fill="#000">0.2</text><text x="285.2" y="243.61" font-size="5" text-anchor="end" fill="#000">0.4</text><text x="285.2" y="236.19" font-size="5" text-anchor="end" fill="#000">0.6</text><text x="285.2" y="228.77" font-size="5" text-anchor="end" fill="#000">0.8</text><text x="285.2" y="221.35" font-size="5" text-anchor="end" fill="#000">1.0</text><text x="286.30" y="262.20" font-size="4.7" text-anchor="middle" fill="#000">0</text><text x="294.30" y="262.20" font-size="4.7" text-anchor="middle" fill="#000">4</text><text x="302.30" y="262.20" font-size="4.7" text-anchor="middle" fill="#000">8</text><text x="310.30" y="262.20" font-size="4.7" text-anchor="middle" fill="#000">12</text><text x="318.30" y="262.20" font-size="4.7" text-anchor="middle" fill="#000">16</text><text x="326.30" y="262.20" font-size="4.7" text-anchor="middle" fill="#000">20</text><path d="M347.1 257.00H397.40000000000003M347.1 253.29H397.40000000000003M347.1 249.58H397.40000000000003M347.1 245.87H397.40000000000003M347.1 242.16H397.40000000000003M347.1 238.45H397.40000000000003M347.1 234.74H397.40000000000003M347.1 231.03H397.40000000000003M347.1 227.32H397.40000000000003M347.1 223.61H397.40000000000003M347.1 219.90H397.40000000000003" stroke="#efefef" stroke-width="0.6" fill="none"/><path d="M347.1 219.9V257.0 M397.40000000000003 219.9V257.0" stroke="#e4e4e4" stroke-width="0.6" fill="none"/><path d="M359.10 219.90h2.0v5.57h-2.0zM361.10 219.90h2.0v0.37h-2.0zM363.10 219.90h2.0v1.11h-2.0zM375.10 219.90h2.0v1.11h-2.0z" fill="#727272"/><path d="M359.10 225.47h2.0v12.98h-2.0zM361.10 220.27h2.0v14.47h-2.0zM363.10 221.01h2.0v21.15h-2.0zM365.10 219.90h2.0v8.90h-2.0zM367.10 219.90h2.0v9.28h-2.0zM369.10 219.90h2.0v11.87h-2.0zM371.10 219.90h2.0v8.90h-2.0zM373.10 219.90h2.0v9.65h-2.0zM375.10 221.01h2.0v11.50h-2.0zM377.10 219.90h2.0v10.76h-2.0zM379.10 219.90h2.0v5.94h-2.0z" fill="#4a7dbb"/><path d="M359.10 238.45h2.0v10.02h-2.0zM361.10 234.74h2.0v9.28h-2.0zM363.10 242.16h2.0v2.60h-2.0zM365.10 228.80h2.0v9.28h-2.0zM367.10 229.18h2.0v16.70h-2.0zM369.10 231.77h2.0v10.39h-2.0zM371.10 228.80h2.0v12.61h-2.0zM373.10 229.55h2.0v13.36h-2.0zM375.10 232.51h2.0v14.84h-2.0zM377.10 230.66h2.0v18.55h-2.0zM379.10 225.84h2.0v21.89h-2.0z" fill="#ee8a35"/><path d="M359.10 248.47h2.0v8.53h-2.0zM361.10 244.01h2.0v12.98h-2.0zM363.10 244.76h2.0v12.24h-2.0zM365.10 238.08h2.0v18.92h-2.0zM367.10 245.87h2.0v11.13h-2.0zM369.10 242.16h2.0v14.84h-2.0zM371.10 241.42h2.0v15.58h-2.0zM373.10 242.90h2.0v14.10h-2.0zM375.10 247.35h2.0v9.65h-2.0zM377.10 249.21h2.0v7.79h-2.0zM379.10 247.72h2.0v9.28h-2.0z" fill="#d43c30"/><path d="M360.85 219.9V257.0M362.85 219.9V257.0M364.85 219.9V257.0M366.85 219.9V257.0M368.85 219.9V257.0M370.85 219.9V257.0M372.85 219.9V257.0M374.85 219.9V257.0M376.85 219.9V257.0M378.85 219.9V257.0" stroke="#fff" stroke-opacity="0.35" stroke-width="0.6" fill="none"/><text x="346.0" y="258.45" font-size="5" text-anchor="end" fill="#000">0.0</text><text x="346.0" y="251.03" font-size="5" text-anchor="end" fill="#000">0.2</text><text x="346.0" y="243.61" font-size="5" text-anchor="end" fill="#000">0.4</text><text x="346.0" y="236.19" font-size="5" text-anchor="end" fill="#000">0.6</text><text x="346.0" y="228.77" font-size="5" text-anchor="end" fill="#000">0.8</text><text x="346.0" y="221.35" font-size="5" text-anchor="end" fill="#000">1.0</text><text x="347.10" y="262.20" font-size="4.7" text-anchor="middle" fill="#000">0</text><text x="355.10" y="262.20" font-size="4.7" text-anchor="middle" fill="#000">4</text><text x="363.10" y="262.20" font-size="4.7" text-anchor="middle" fill="#000">8</text><text x="371.10" y="262.20" font-size="4.7" text-anchor="middle" fill="#000">12</text><text x="379.10" y="262.20" font-size="4.7" text-anchor="middle" fill="#000">16</text><text x="387.10" y="262.20" font-size="4.7" text-anchor="middle" fill="#000">20</text><path d="M407.9 257.00H458.2M407.9 253.29H458.2M407.9 249.58H458.2M407.9 245.87H458.2M407.9 242.16H458.2M407.9 238.45H458.2M407.9 234.74H458.2M407.9 231.03H458.2M407.9 227.32H458.2M407.9 223.61H458.2M407.9 219.90H458.2" stroke="#efefef" stroke-width="0.6" fill="none"/><path d="M407.9 219.9V257.0 M458.2 219.9V257.0" stroke="#e4e4e4" stroke-width="0.6" fill="none"/><path d="M409.90 219.90h2.0v3.34h-2.0zM411.90 219.90h2.0v1.86h-2.0zM413.90 219.90h2.0v1.11h-2.0zM415.90 219.90h2.0v0.37h-2.0zM417.90 219.90h2.0v1.11h-2.0zM419.90 219.90h2.0v1.11h-2.0zM421.90 219.90h2.0v1.11h-2.0zM423.90 219.90h2.0v1.48h-2.0zM425.90 219.90h2.0v1.48h-2.0zM427.90 219.90h2.0v1.11h-2.0zM429.90 219.90h2.0v1.48h-2.0zM431.90 219.90h2.0v3.34h-2.0zM433.90 219.90h2.0v2.97h-2.0zM435.90 219.90h2.0v1.86h-2.0zM437.90 219.90h2.0v3.34h-2.0zM439.90 219.90h2.0v2.60h-2.0zM441.90 219.90h2.0v4.08h-2.0zM443.90 219.90h2.0v7.79h-2.0zM445.90 219.90h2.0v2.60h-2.0zM447.90 219.90h2.0v8.90h-2.0zM449.90 219.90h2.0v6.31h-2.0z" fill="#727272"/><path d="M409.90 223.24h2.0v18.92h-2.0zM411.90 221.75h2.0v21.15h-2.0zM413.90 221.01h2.0v21.15h-2.0zM415.90 220.27h2.0v16.70h-2.0zM417.90 221.01h2.0v19.66h-2.0zM419.90 221.01h2.0v17.44h-2.0zM421.90 221.01h2.0v15.21h-2.0zM423.90 221.38h2.0v17.81h-2.0zM425.90 221.38h2.0v19.29h-2.0zM427.90 221.01h2.0v15.95h-2.0zM429.90 221.38h2.0v16.32h-2.0zM431.90 223.24h2.0v13.73h-2.0zM433.90 222.87h2.0v13.36h-2.0zM435.90 221.75h2.0v13.36h-2.0zM437.90 223.24h2.0v14.47h-2.0zM439.90 222.50h2.0v15.58h-2.0zM441.90 223.98h2.0v19.29h-2.0zM443.90 227.69h2.0v15.21h-2.0zM445.90 222.50h2.0v15.95h-2.0zM447.90 228.80h2.0v14.10h-2.0zM449.90 226.21h2.0v26.71h-2.0z" fill="#4a7dbb"/><path d="M409.90 242.16h2.0v13.73h-2.0zM411.90 242.90h2.0v8.16h-2.0zM413.90 242.16h2.0v9.65h-2.0zM415.90 236.97h2.0v12.99h-2.0zM417.90 240.68h2.0v9.28h-2.0zM419.90 238.45h2.0v9.28h-2.0zM421.90 236.22h2.0v12.24h-2.0zM423.90 239.19h2.0v10.76h-2.0zM425.90 240.68h2.0v10.02h-2.0zM427.90 236.97h2.0v12.99h-2.0zM429.90 237.71h2.0v14.10h-2.0zM431.90 236.97h2.0v11.50h-2.0zM433.90 236.22h2.0v11.50h-2.0zM435.90 235.11h2.0v13.73h-2.0zM437.90 237.71h2.0v12.24h-2.0zM439.90 238.08h2.0v12.24h-2.0zM441.90 243.27h2.0v9.65h-2.0zM443.90 242.90h2.0v4.82h-2.0zM445.90 238.45h2.0v15.95h-2.0zM447.90 242.90h2.0v10.39h-2.0zM449.90 252.92h2.0v2.23h-2.0z" fill="#ee8a35"/><path d="M409.90 255.89h2.0v1.11h-2.0zM411.90 251.06h2.0v5.94h-2.0zM413.90 251.81h2.0v5.19h-2.0zM415.90 249.95h2.0v7.05h-2.0zM417.90 249.95h2.0v7.05h-2.0zM419.90 247.72h2.0v9.28h-2.0zM421.90 248.47h2.0v8.53h-2.0zM423.90 249.95h2.0v7.05h-2.0zM425.90 250.69h2.0v6.31h-2.0zM427.90 249.95h2.0v7.05h-2.0zM429.90 251.81h2.0v5.19h-2.0zM431.90 248.47h2.0v8.53h-2.0zM433.90 247.72h2.0v9.28h-2.0zM435.90 248.84h2.0v8.16h-2.0zM437.90 249.95h2.0v7.05h-2.0zM439.90 250.32h2.0v6.68h-2.0zM441.90 252.92h2.0v4.08h-2.0zM443.90 247.72h2.0v9.28h-2.0zM445.90 254.40h2.0v2.60h-2.0zM447.90 253.29h2.0v3.71h-2.0zM449.90 255.15h2.0v1.86h-2.0z" fill="#d43c30"/><path d="M411.65 219.9V257.0M413.65 219.9V257.0M415.65 219.9V257.0M417.65 219.9V257.0M419.65 219.9V257.0M421.65 219.9V257.0M423.65 219.9V257.0M425.65 219.9V257.0M427.65 219.9V257.0M429.65 219.9V257.0M431.65 219.9V257.0M433.65 219.9V257.0M435.65 219.9V257.0M437.65 219.9V257.0M439.65 219.9V257.0M441.65 219.9V257.0M443.65 219.9V257.0M445.65 219.9V257.0M447.65 219.9V257.0M449.65 219.9V257.0" stroke="#fff" stroke-opacity="0.35" stroke-width="0.6" fill="none"/><text x="406.79999999999995" y="258.45" font-size="5" text-anchor="end" fill="#000">0.0</text><text x="406.79999999999995" y="251.03" font-size="5" text-anchor="end" fill="#000">0.2</text><text x="406.79999999999995" y="243.61" font-size="5" text-anchor="end" fill="#000">0.4</text><text x="406.79999999999995" y="236.19" font-size="5" text-anchor="end" fill="#000">0.6</text><text x="406.79999999999995" y="228.77" font-size="5" text-anchor="end" fill="#000">0.8</text><text x="406.79999999999995" y="221.35" font-size="5" text-anchor="end" fill="#000">1.0</text><text x="407.90" y="262.20" font-size="4.7" text-anchor="middle" fill="#000">0</text><text x="415.90" y="262.20" font-size="4.7" text-anchor="middle" fill="#000">4</text><text x="423.90" y="262.20" font-size="4.7" text-anchor="middle" fill="#000">8</text><text x="431.90" y="262.20" font-size="4.7" text-anchor="middle" fill="#000">12</text><text x="439.90" y="262.20" font-size="4.7" text-anchor="middle" fill="#000">16</text><text x="447.90" y="262.20" font-size="4.7" text-anchor="middle" fill="#000">20</text><path d="M468.7 257.00H519.0M468.7 253.29H519.0M468.7 249.58H519.0M468.7 245.87H519.0M468.7 242.16H519.0M468.7 238.45H519.0M468.7 234.74H519.0M468.7 231.03H519.0M468.7 227.32H519.0M468.7 223.61H519.0M468.7 219.90H519.0" stroke="#efefef" stroke-width="0.6" fill="none"/><path d="M468.7 219.9V257.0 M519.0 219.9V257.0" stroke="#e4e4e4" stroke-width="0.6" fill="none"/><path d="M478.70 219.90h2.0v0.74h-2.0zM480.70 219.90h2.0v3.34h-2.0zM482.70 219.90h2.0v0.74h-2.0z" fill="#727272"/><path d="M474.70 219.90h2.0v22.63h-2.0zM476.70 219.90h2.0v10.39h-2.0zM478.70 220.64h2.0v10.39h-2.0zM480.70 223.24h2.0v7.42h-2.0zM482.70 220.64h2.0v7.42h-2.0zM484.70 219.90h2.0v8.90h-2.0zM486.70 219.90h2.0v9.65h-2.0zM488.70 219.90h2.0v9.65h-2.0zM490.70 219.90h2.0v8.16h-2.0zM492.70 219.90h2.0v9.28h-2.0zM494.70 219.90h2.0v7.79h-2.0zM496.70 219.90h2.0v9.28h-2.0zM498.70 219.90h2.0v8.16h-2.0zM500.70 219.90h2.0v7.05h-2.0zM502.70 219.90h2.0v5.94h-2.0zM504.70 219.90h2.0v5.57h-2.0zM506.70 219.90h2.0v13.36h-2.0z" fill="#4a7dbb"/><path d="M474.70 242.53h2.0v14.47h-2.0zM476.70 230.29h2.0v14.47h-2.0zM478.70 231.03h2.0v11.87h-2.0zM480.70 230.66h2.0v14.10h-2.0zM482.70 228.06h2.0v12.99h-2.0zM484.70 228.80h2.0v13.73h-2.0zM486.70 229.55h2.0v12.61h-2.0zM488.70 229.55h2.0v13.36h-2.0zM490.70 228.06h2.0v14.47h-2.0zM492.70 229.18h2.0v16.70h-2.0zM494.70 227.69h2.0v19.66h-2.0zM496.70 229.18h2.0v17.81h-2.0zM498.70 228.06h2.0v20.78h-2.0zM500.70 226.95h2.0v18.55h-2.0zM502.70 225.84h2.0v14.10h-2.0zM504.70 225.47h2.0v18.92h-2.0zM506.70 233.26h2.0v7.79h-2.0z" fill="#ee8a35"/><path d="M476.70 244.76h2.0v12.24h-2.0zM478.70 242.90h2.0v14.10h-2.0zM480.70 244.76h2.0v12.24h-2.0zM482.70 241.05h2.0v15.95h-2.0zM484.70 242.53h2.0v14.47h-2.0zM486.70 242.16h2.0v14.84h-2.0zM488.70 242.90h2.0v14.10h-2.0zM490.70 242.53h2.0v14.47h-2.0zM492.70 245.87h2.0v11.13h-2.0zM494.70 247.35h2.0v9.65h-2.0zM496.70 246.98h2.0v10.02h-2.0zM498.70 248.84h2.0v8.16h-2.0zM500.70 245.50h2.0v11.50h-2.0zM502.70 239.93h2.0v17.07h-2.0zM504.70 244.39h2.0v12.61h-2.0zM506.70 241.05h2.0v15.95h-2.0z" fill="#d43c30"/><path d="M476.45 219.9V257.0M478.45 219.9V257.0M480.45 219.9V257.0M482.45 219.9V257.0M484.45 219.9V257.0M486.45 219.9V257.0M488.45 219.9V257.0M490.45 219.9V257.0M492.45 219.9V257.0M494.45 219.9V257.0M496.45 219.9V257.0M498.45 219.9V257.0M500.45 219.9V257.0M502.45 219.9V257.0M504.45 219.9V257.0M506.45 219.9V257.0" stroke="#fff" stroke-opacity="0.35" stroke-width="0.6" fill="none"/><text x="467.59999999999997" y="258.45" font-size="5" text-anchor="end" fill="#000">0.0</text><text x="467.59999999999997" y="251.03" font-size="5" text-anchor="end" fill="#000">0.2</text><text x="467.59999999999997" y="243.61" font-size="5" text-anchor="end" fill="#000">0.4</text><text x="467.59999999999997" y="236.19" font-size="5" text-anchor="end" fill="#000">0.6</text><text x="467.59999999999997" y="228.77" font-size="5" text-anchor="end" fill="#000">0.8</text><text x="467.59999999999997" y="221.35" font-size="5" text-anchor="end" fill="#000">1.0</text><text x="468.70" y="262.20" font-size="4.7" text-anchor="middle" fill="#000">0</text><text x="476.70" y="262.20" font-size="4.7" text-anchor="middle" fill="#000">4</text><text x="484.70" y="262.20" font-size="4.7" text-anchor="middle" fill="#000">8</text><text x="492.70" y="262.20" font-size="4.7" text-anchor="middle" fill="#000">12</text><text x="500.70" y="262.20" font-size="4.7" text-anchor="middle" fill="#000">16</text><text x="508.70" y="262.20" font-size="4.7" text-anchor="middle" fill="#000">20</text><path d="M43.1 305.90H93.4M43.1 302.19H93.4M43.1 298.48H93.4M43.1 294.77H93.4M43.1 291.06H93.4M43.1 287.35H93.4M43.1 283.64H93.4M43.1 279.93H93.4M43.1 276.22H93.4M43.1 272.51H93.4M43.1 268.80H93.4" stroke="#efefef" stroke-width="0.6" fill="none"/><path d="M43.1 268.8V305.90000000000003 M93.4 268.8V305.90000000000003" stroke="#e4e4e4" stroke-width="0.6" fill="none"/><path d="M45.10 268.80h2.0v20.03h-2.0zM47.10 268.80h2.0v16.70h-2.0zM49.10 268.80h2.0v21.89h-2.0zM51.10 268.80h2.0v12.24h-2.0zM53.10 268.80h2.0v14.47h-2.0zM55.10 268.80h2.0v20.03h-2.0zM57.10 268.80h2.0v15.58h-2.0zM59.10 268.80h2.0v11.87h-2.0zM61.10 268.80h2.0v8.16h-2.0zM63.10 268.80h2.0v16.70h-2.0zM65.10 268.80h2.0v23.00h-2.0zM67.10 268.80h2.0v16.32h-2.0z" fill="#727272"/><path d="M45.10 288.83h2.0v11.50h-2.0zM47.10 285.50h2.0v11.13h-2.0zM49.10 290.69h2.0v12.98h-2.0zM51.10 281.04h2.0v21.52h-2.0zM53.10 283.27h2.0v20.03h-2.0zM55.10 288.83h2.0v15.95h-2.0zM57.10 284.38h2.0v18.18h-2.0zM59.10 280.67h2.0v23.00h-2.0zM61.10 276.96h2.0v25.23h-2.0zM63.10 285.50h2.0v18.18h-2.0zM65.10 291.80h2.0v13.36h-2.0zM67.10 285.12h2.0v20.03h-2.0z" fill="#4a7dbb"/><path d="M45.10 300.34h2.0v2.23h-2.0zM47.10 296.63h2.0v5.94h-2.0zM49.10 303.67h2.0v1.48h-2.0zM51.10 302.56h2.0v2.60h-2.0zM53.10 303.30h2.0v2.60h-2.0zM55.10 304.79h2.0v1.11h-2.0zM57.10 302.56h2.0v3.34h-2.0zM59.10 303.67h2.0v2.23h-2.0zM61.10 302.19h2.0v1.11h-2.0zM63.10 303.67h2.0v2.23h-2.0zM65.10 305.16h2.0v0.74h-2.0zM67.10 305.16h2.0v0.74h-2.0z" fill="#ee8a35"/><path d="M45.10 302.56h2.0v3.34h-2.0zM47.10 302.56h2.0v3.34h-2.0zM49.10 305.16h2.0v0.74h-2.0zM51.10 305.16h2.0v0.74h-2.0zM61.10 303.30h2.0v2.60h-2.0z" fill="#d43c30"/><path d="M46.85 268.8V305.90000000000003M48.85 268.8V305.90000000000003M50.85 268.8V305.90000000000003M52.85 268.8V305.90000000000003M54.85 268.8V305.90000000000003M56.85 268.8V305.90000000000003M58.85 268.8V305.90000000000003M60.85 268.8V305.90000000000003M62.85 268.8V305.90000000000003M64.85 268.8V305.90000000000003M66.85 268.8V305.90000000000003" stroke="#fff" stroke-opacity="0.35" stroke-width="0.6" fill="none"/><text x="42.0" y="307.35" font-size="5" text-anchor="end" fill="#000">0.0</text><text x="42.0" y="299.93" font-size="5" text-anchor="end" fill="#000">0.2</text><text x="42.0" y="292.51" font-size="5" text-anchor="end" fill="#000">0.4</text><text x="42.0" y="285.09" font-size="5" text-anchor="end" fill="#000">0.6</text><text x="42.0" y="277.67" font-size="5" text-anchor="end" fill="#000">0.8</text><text x="42.0" y="270.25" font-size="5" text-anchor="end" fill="#000">1.0</text><text x="43.10" y="311.10" font-size="4.7" text-anchor="middle" fill="#000">0</text><text x="51.10" y="311.10" font-size="4.7" text-anchor="middle" fill="#000">4</text><text x="59.10" y="311.10" font-size="4.7" text-anchor="middle" fill="#000">8</text><text x="67.10" y="311.10" font-size="4.7" text-anchor="middle" fill="#000">12</text><text x="75.10" y="311.10" font-size="4.7" text-anchor="middle" fill="#000">16</text><text x="83.10" y="311.10" font-size="4.7" text-anchor="middle" fill="#000">20</text><text transform="translate(33.5 287.35) rotate(-90)" font-size="3.8" text-anchor="middle" fill="#000" stroke="#000" stroke-width="0.12">IAA level (proportion)</text><path d="M103.9 305.90H154.2M103.9 302.19H154.2M103.9 298.48H154.2M103.9 294.77H154.2M103.9 291.06H154.2M103.9 287.35H154.2M103.9 283.64H154.2M103.9 279.93H154.2M103.9 276.22H154.2M103.9 272.51H154.2M103.9 268.80H154.2" stroke="#efefef" stroke-width="0.6" fill="none"/><path d="M103.9 268.8V305.90000000000003 M154.2 268.8V305.90000000000003" stroke="#e4e4e4" stroke-width="0.6" fill="none"/><path d="M109.90 268.80h2.0v35.24h-2.0zM111.90 268.80h2.0v35.24h-2.0zM113.90 268.80h2.0v33.76h-2.0zM115.90 268.80h2.0v33.39h-2.0zM117.90 268.80h2.0v35.62h-2.0zM119.90 268.80h2.0v34.50h-2.0zM121.90 268.80h2.0v35.99h-2.0zM123.90 268.80h2.0v36.73h-2.0zM125.90 268.80h2.0v36.73h-2.0zM127.90 268.80h2.0v36.36h-2.0zM129.90 268.80h2.0v37.10h-2.0zM131.90 268.80h2.0v37.10h-2.0zM133.90 268.80h2.0v37.10h-2.0zM135.90 268.80h2.0v37.10h-2.0zM137.90 268.80h2.0v37.10h-2.0z" fill="#727272"/><path d="M109.90 304.05h2.0v1.86h-2.0zM111.90 304.05h2.0v1.86h-2.0zM113.90 302.56h2.0v3.34h-2.0zM115.90 302.19h2.0v3.71h-2.0zM117.90 304.42h2.0v0.74h-2.0zM119.90 303.30h2.0v2.60h-2.0zM121.90 304.79h2.0v1.11h-2.0zM123.90 305.53h2.0v0.37h-2.0zM125.90 305.53h2.0v0.37h-2.0zM127.90 305.16h2.0v0.74h-2.0z" fill="#4a7dbb"/><path d="M117.90 305.16h2.0v0.74h-2.0z" fill="#ee8a35"/><path d="M111.65 268.8V305.90000000000003M113.65 268.8V305.90000000000003M115.65 268.8V305.90000000000003M117.65 268.8V305.90000000000003M119.65 268.8V305.90000000000003M121.65 268.8V305.90000000000003M123.65 268.8V305.90000000000003M125.65 268.8V305.90000000000003M127.65 268.8V305.90000000000003M129.65 268.8V305.90000000000003M131.65 268.8V305.90000000000003M133.65 268.8V305.90000000000003M135.65 268.8V305.90000000000003M137.65 268.8V305.90000000000003" stroke="#fff" stroke-opacity="0.35" stroke-width="0.6" fill="none"/><text x="102.80000000000001" y="307.35" font-size="5" text-anchor="end" fill="#000">0.0</text><text x="102.80000000000001" y="299.93" font-size="5" text-anchor="end" fill="#000">0.2</text><text x="102.80000000000001" y="292.51" font-size="5" text-anchor="end" fill="#000">0.4</text><text x="102.80000000000001" y="285.09" font-size="5" text-anchor="end" fill="#000">0.6</text><text x="102.80000000000001" y="277.67" font-size="5" text-anchor="end" fill="#000">0.8</text><text x="102.80000000000001" y="270.25" font-size="5" text-anchor="end" fill="#000">1.0</text><text x="103.90" y="311.10" font-size="4.7" text-anchor="middle" fill="#000">0</text><text x="111.90" y="311.10" font-size="4.7" text-anchor="middle" fill="#000">4</text><text x="119.90" y="311.10" font-size="4.7" text-anchor="middle" fill="#000">8</text><text x="127.90" y="311.10" font-size="4.7" text-anchor="middle" fill="#000">12</text><text x="135.90" y="311.10" font-size="4.7" text-anchor="middle" fill="#000">16</text><text x="143.90" y="311.10" font-size="4.7" text-anchor="middle" fill="#000">20</text><path d="M164.7 305.90H215.0M164.7 302.19H215.0M164.7 298.48H215.0M164.7 294.77H215.0M164.7 291.06H215.0M164.7 287.35H215.0M164.7 283.64H215.0M164.7 279.93H215.0M164.7 276.22H215.0M164.7 272.51H215.0M164.7 268.80H215.0" stroke="#efefef" stroke-width="0.6" fill="none"/><path d="M164.7 268.8V305.90000000000003 M215.0 268.8V305.90000000000003" stroke="#e4e4e4" stroke-width="0.6" fill="none"/><path d="M164.70 268.80h2.0v12.61h-2.0zM166.70 268.80h2.0v2.60h-2.0zM168.70 268.80h2.0v2.97h-2.0zM170.70 268.80h2.0v1.48h-2.0zM172.70 268.80h2.0v3.34h-2.0zM174.70 268.80h2.0v2.60h-2.0zM176.70 268.80h2.0v4.45h-2.0zM178.70 268.80h2.0v4.08h-2.0zM180.70 268.80h2.0v5.94h-2.0zM182.70 268.80h2.0v2.97h-2.0zM184.70 268.80h2.0v4.08h-2.0zM186.70 268.80h2.0v4.08h-2.0zM188.70 268.80h2.0v2.60h-2.0zM190.70 268.80h2.0v4.45h-2.0zM192.70 268.80h2.0v4.08h-2.0zM194.70 268.80h2.0v5.57h-2.0zM196.70 268.80h2.0v7.05h-2.0zM198.70 268.80h2.0v8.90h-2.0zM200.70 268.80h2.0v3.34h-2.0zM204.70 268.80h2.0v2.97h-2.0zM206.70 268.80h2.0v6.31h-2.0z" fill="#727272"/><path d="M164.70 281.41h2.0v18.18h-2.0zM166.70 271.40h2.0v18.55h-2.0zM168.70 271.77h2.0v14.10h-2.0zM170.70 270.28h2.0v17.81h-2.0zM172.70 272.14h2.0v16.70h-2.0zM174.70 271.40h2.0v17.44h-2.0zM176.70 273.25h2.0v18.92h-2.0zM178.70 272.88h2.0v20.03h-2.0zM180.70 274.74h2.0v15.58h-2.0zM182.70 271.77h2.0v17.81h-2.0zM184.70 272.88h2.0v15.95h-2.0zM186.70 272.88h2.0v18.92h-2.0zM188.70 271.40h2.0v19.66h-2.0zM190.70 273.25h2.0v19.66h-2.0zM192.70 272.88h2.0v18.18h-2.0zM194.70 274.37h2.0v17.44h-2.0zM196.70 275.85h2.0v17.07h-2.0zM198.70 277.70h2.0v21.15h-2.0zM200.70 272.14h2.0v25.23h-2.0zM202.70 268.80h2.0v22.26h-2.0zM204.70 271.77h2.0v17.07h-2.0zM206.70 275.11h2.0v21.52h-2.0z" fill="#4a7dbb"/><path d="M164.70 299.59h2.0v2.23h-2.0zM166.70 289.95h2.0v4.45h-2.0zM168.70 285.87h2.0v5.94h-2.0zM170.70 288.09h2.0v7.79h-2.0zM172.70 288.83h2.0v5.94h-2.0zM174.70 288.83h2.0v4.82h-2.0zM176.70 292.17h2.0v4.45h-2.0zM178.70 292.92h2.0v3.34h-2.0zM180.70 290.32h2.0v4.45h-2.0zM182.70 289.58h2.0v7.05h-2.0zM184.70 288.83h2.0v5.94h-2.0zM186.70 291.80h2.0v2.97h-2.0zM188.70 291.06h2.0v4.08h-2.0zM190.70 292.92h2.0v2.23h-2.0zM192.70 291.06h2.0v5.19h-2.0zM194.70 291.80h2.0v2.97h-2.0zM196.70 292.92h2.0v3.71h-2.0zM198.70 298.85h2.0v2.97h-2.0zM200.70 297.37h2.0v1.48h-2.0zM202.70 291.06h2.0v4.82h-2.0zM204.70 288.83h2.0v9.28h-2.0zM206.70 296.63h2.0v2.23h-2.0z" fill="#ee8a35"/><path d="M164.70 301.82h2.0v4.08h-2.0zM166.70 294.40h2.0v11.50h-2.0zM168.70 291.80h2.0v14.10h-2.0zM170.70 295.88h2.0v10.02h-2.0zM172.70 294.77h2.0v11.13h-2.0zM174.70 293.66h2.0v12.24h-2.0zM176.70 296.63h2.0v9.28h-2.0zM178.70 296.25h2.0v9.65h-2.0zM180.70 294.77h2.0v11.13h-2.0zM182.70 296.63h2.0v9.28h-2.0zM184.70 294.77h2.0v11.13h-2.0zM186.70 294.77h2.0v11.13h-2.0zM188.70 295.14h2.0v10.76h-2.0zM190.70 295.14h2.0v10.76h-2.0zM192.70 296.25h2.0v9.65h-2.0zM194.70 294.77h2.0v11.13h-2.0zM196.70 296.63h2.0v9.28h-2.0zM198.70 301.82h2.0v4.08h-2.0zM200.70 298.85h2.0v7.05h-2.0zM202.70 295.88h2.0v10.02h-2.0zM204.70 298.11h2.0v7.79h-2.0zM206.70 298.85h2.0v7.05h-2.0z" fill="#d43c30"/><path d="M166.45 268.8V305.90000000000003M168.45 268.8V305.90000000000003M170.45 268.8V305.90000000000003M172.45 268.8V305.90000000000003M174.45 268.8V305.90000000000003M176.45 268.8V305.90000000000003M178.45 268.8V305.90000000000003M180.45 268.8V305.90000000000003M182.45 268.8V305.90000000000003M184.45 268.8V305.90000000000003M186.45 268.8V305.90000000000003M188.45 268.8V305.90000000000003M190.45 268.8V305.90000000000003M192.45 268.8V305.90000000000003M194.45 268.8V305.90000000000003M196.45 268.8V305.90000000000003M198.45 268.8V305.90000000000003M200.45 268.8V305.90000000000003M202.45 268.8V305.90000000000003M204.45 268.8V305.90000000000003M206.45 268.8V305.90000000000003" stroke="#fff" stroke-opacity="0.35" stroke-width="0.6" fill="none"/><text x="163.6" y="307.35" font-size="5" text-anchor="end" fill="#000">0.0</text><text x="163.6" y="299.93" font-size="5" text-anchor="end" fill="#000">0.2</text><text x="163.6" y="292.51" font-size="5" text-anchor="end" fill="#000">0.4</text><text x="163.6" y="285.09" font-size="5" text-anchor="end" fill="#000">0.6</text><text x="163.6" y="277.67" font-size="5" text-anchor="end" fill="#000">0.8</text><text x="163.6" y="270.25" font-size="5" text-anchor="end" fill="#000">1.0</text><text x="164.70" y="311.10" font-size="4.7" text-anchor="middle" fill="#000">0</text><text x="172.70" y="311.10" font-size="4.7" text-anchor="middle" fill="#000">4</text><text x="180.70" y="311.10" font-size="4.7" text-anchor="middle" fill="#000">8</text><text x="188.70" y="311.10" font-size="4.7" text-anchor="middle" fill="#000">12</text><text x="196.70" y="311.10" font-size="4.7" text-anchor="middle" fill="#000">16</text><text x="204.70" y="311.10" font-size="4.7" text-anchor="middle" fill="#000">20</text><path d="M225.5 305.90H275.8M225.5 302.19H275.8M225.5 298.48H275.8M225.5 294.77H275.8M225.5 291.06H275.8M225.5 287.35H275.8M225.5 283.64H275.8M225.5 279.93H275.8M225.5 276.22H275.8M225.5 272.51H275.8M225.5 268.80H275.8" stroke="#efefef" stroke-width="0.6" fill="none"/><path d="M225.5 268.8V305.90000000000003 M275.8 268.8V305.90000000000003" stroke="#e4e4e4" stroke-width="0.6" fill="none"/><rect x="229.6" y="268.80" width="1.60" height="10.39" fill="#4a7dbb"/><rect x="229.6" y="279.19" width="1.60" height="7.79" fill="#ee8a35"/><rect x="229.6" y="286.98" width="1.60" height="18.92" fill="#d43c30"/><rect x="233.4" y="268.80" width="1.70" height="22.26" fill="#4a7dbb"/><rect x="233.4" y="291.06" width="1.70" height="8.90" fill="#ee8a35"/><rect x="233.4" y="299.96" width="1.70" height="5.94" fill="#d43c30"/><text x="224.4" y="307.35" font-size="5" text-anchor="end" fill="#000">0.0</text><text x="224.4" y="299.93" font-size="5" text-anchor="end" fill="#000">0.2</text><text x="224.4" y="292.51" font-size="5" text-anchor="end" fill="#000">0.4</text><text x="224.4" y="285.09" font-size="5" text-anchor="end" fill="#000">0.6</text><text x="224.4" y="277.67" font-size="5" text-anchor="end" fill="#000">0.8</text><text x="224.4" y="270.25" font-size="5" text-anchor="end" fill="#000">1.0</text><text x="225.50" y="311.10" font-size="4.7" text-anchor="middle" fill="#000">0</text><text x="233.50" y="311.10" font-size="4.7" text-anchor="middle" fill="#000">4</text><text x="241.50" y="311.10" font-size="4.7" text-anchor="middle" fill="#000">8</text><text x="249.50" y="311.10" font-size="4.7" text-anchor="middle" fill="#000">12</text><text x="257.50" y="311.10" font-size="4.7" text-anchor="middle" fill="#000">16</text><text x="265.50" y="311.10" font-size="4.7" text-anchor="middle" fill="#000">20</text><path d="M286.3 305.90H336.6M286.3 302.19H336.6M286.3 298.48H336.6M286.3 294.77H336.6M286.3 291.06H336.6M286.3 287.35H336.6M286.3 283.64H336.6M286.3 279.93H336.6M286.3 276.22H336.6M286.3 272.51H336.6M286.3 268.80H336.6" stroke="#efefef" stroke-width="0.6" fill="none"/><path d="M286.3 268.8V305.90000000000003 M336.6 268.8V305.90000000000003" stroke="#e4e4e4" stroke-width="0.6" fill="none"/><path d="M290.30 268.80h2.0v0.37h-2.0zM292.30 268.80h2.0v1.11h-2.0zM294.30 268.80h2.0v1.11h-2.0zM296.30 268.80h2.0v2.60h-2.0zM298.30 268.80h2.0v2.60h-2.0zM300.30 268.80h2.0v1.48h-2.0zM302.30 268.80h2.0v1.86h-2.0zM304.30 268.80h2.0v1.11h-2.0zM306.30 268.80h2.0v0.37h-2.0zM308.30 268.80h2.0v1.86h-2.0zM310.30 268.80h2.0v2.60h-2.0zM312.30 268.80h2.0v1.48h-2.0z" fill="#727272"/><path d="M290.30 269.17h2.0v17.81h-2.0zM292.30 269.91h2.0v23.00h-2.0zM294.30 269.91h2.0v30.42h-2.0zM296.30 271.40h2.0v31.16h-2.0zM298.30 271.40h2.0v30.42h-2.0zM300.30 270.28h2.0v34.50h-2.0zM302.30 270.66h2.0v30.42h-2.0zM304.30 269.91h2.0v29.68h-2.0zM306.30 269.17h2.0v25.97h-2.0zM308.30 270.66h2.0v23.74h-2.0zM310.30 271.40h2.0v16.70h-2.0zM312.30 270.28h2.0v22.63h-2.0z" fill="#4a7dbb"/><path d="M290.30 286.98h2.0v0.37h-2.0zM292.30 292.92h2.0v7.42h-2.0zM294.30 300.34h2.0v4.45h-2.0zM296.30 302.56h2.0v2.23h-2.0zM298.30 301.82h2.0v1.86h-2.0zM300.30 304.79h2.0v0.37h-2.0zM302.30 301.08h2.0v2.60h-2.0zM304.30 299.59h2.0v2.97h-2.0zM306.30 295.14h2.0v5.94h-2.0zM308.30 294.40h2.0v3.34h-2.0zM310.30 288.09h2.0v9.65h-2.0zM312.30 292.92h2.0v7.79h-2.0z" fill="#ee8a35"/><path d="M290.30 287.35h2.0v18.55h-2.0zM292.30 300.34h2.0v5.57h-2.0zM294.30 304.79h2.0v1.11h-2.0zM296.30 304.79h2.0v1.11h-2.0zM298.30 303.67h2.0v2.23h-2.0zM300.30 305.16h2.0v0.74h-2.0zM302.30 303.67h2.0v2.23h-2.0zM304.30 302.56h2.0v3.34h-2.0zM306.30 301.08h2.0v4.82h-2.0zM308.30 297.74h2.0v8.16h-2.0zM310.30 297.74h2.0v8.16h-2.0zM312.30 300.71h2.0v5.19h-2.0z" fill="#d43c30"/><path d="M292.05 268.8V305.90000000000003M294.05 268.8V305.90000000000003M296.05 268.8V305.90000000000003M298.05 268.8V305.90000000000003M300.05 268.8V305.90000000000003M302.05 268.8V305.90000000000003M304.05 268.8V305.90000000000003M306.05 268.8V305.90000000000003M308.05 268.8V305.90000000000003M310.05 268.8V305.90000000000003M312.05 268.8V305.90000000000003" stroke="#fff" stroke-opacity="0.35" stroke-width="0.6" fill="none"/><text x="285.2" y="307.35" font-size="5" text-anchor="end" fill="#000">0.0</text><text x="285.2" y="299.93" font-size="5" text-anchor="end" fill="#000">0.2</text><text x="285.2" y="292.51" font-size="5" text-anchor="end" fill="#000">0.4</text><text x="285.2" y="285.09" font-size="5" text-anchor="end" fill="#000">0.6</text><text x="285.2" y="277.67" font-size="5" text-anchor="end" fill="#000">0.8</text><text x="285.2" y="270.25" font-size="5" text-anchor="end" fill="#000">1.0</text><text x="286.30" y="311.10" font-size="4.7" text-anchor="middle" fill="#000">0</text><text x="294.30" y="311.10" font-size="4.7" text-anchor="middle" fill="#000">4</text><text x="302.30" y="311.10" font-size="4.7" text-anchor="middle" fill="#000">8</text><text x="310.30" y="311.10" font-size="4.7" text-anchor="middle" fill="#000">12</text><text x="318.30" y="311.10" font-size="4.7" text-anchor="middle" fill="#000">16</text><text x="326.30" y="311.10" font-size="4.7" text-anchor="middle" fill="#000">20</text><path d="M347.1 305.90H397.40000000000003M347.1 302.19H397.40000000000003M347.1 298.48H397.40000000000003M347.1 294.77H397.40000000000003M347.1 291.06H397.40000000000003M347.1 287.35H397.40000000000003M347.1 283.64H397.40000000000003M347.1 279.93H397.40000000000003M347.1 276.22H397.40000000000003M347.1 272.51H397.40000000000003M347.1 268.80H397.40000000000003" stroke="#efefef" stroke-width="0.6" fill="none"/><path d="M347.1 268.8V305.90000000000003 M397.40000000000003 268.8V305.90000000000003" stroke="#e4e4e4" stroke-width="0.6" fill="none"/><path d="M359.10 268.80h2.0v37.10h-2.0zM361.10 268.80h2.0v25.97h-2.0zM363.10 268.80h2.0v31.16h-2.0zM365.10 268.80h2.0v26.71h-2.0zM367.10 268.80h2.0v31.54h-2.0zM369.10 268.80h2.0v32.28h-2.0zM371.10 268.80h2.0v33.76h-2.0zM373.10 268.80h2.0v36.36h-2.0zM375.10 268.80h2.0v30.05h-2.0zM377.10 268.80h2.0v34.50h-2.0zM379.10 268.80h2.0v37.10h-2.0z" fill="#727272"/><path d="M361.10 294.77h2.0v11.13h-2.0zM363.10 299.96h2.0v5.94h-2.0zM365.10 295.51h2.0v10.39h-2.0zM367.10 300.34h2.0v5.57h-2.0zM369.10 301.08h2.0v4.82h-2.0zM371.10 302.56h2.0v3.34h-2.0zM373.10 305.16h2.0v0.74h-2.0zM375.10 298.85h2.0v7.05h-2.0zM377.10 303.30h2.0v2.60h-2.0z" fill="#4a7dbb"/><path d="M360.85 268.8V305.90000000000003M362.85 268.8V305.90000000000003M364.85 268.8V305.90000000000003M366.85 268.8V305.90000000000003M368.85 268.8V305.90000000000003M370.85 268.8V305.90000000000003M372.85 268.8V305.90000000000003M374.85 268.8V305.90000000000003M376.85 268.8V305.90000000000003M378.85 268.8V305.90000000000003" stroke="#fff" stroke-opacity="0.35" stroke-width="0.6" fill="none"/><text x="346.0" y="307.35" font-size="5" text-anchor="end" fill="#000">0.0</text><text x="346.0" y="299.93" font-size="5" text-anchor="end" fill="#000">0.2</text><text x="346.0" y="292.51" font-size="5" text-anchor="end" fill="#000">0.4</text><text x="346.0" y="285.09" font-size="5" text-anchor="end" fill="#000">0.6</text><text x="346.0" y="277.67" font-size="5" text-anchor="end" fill="#000">0.8</text><text x="346.0" y="270.25" font-size="5" text-anchor="end" fill="#000">1.0</text><text x="347.10" y="311.10" font-size="4.7" text-anchor="middle" fill="#000">0</text><text x="355.10" y="311.10" font-size="4.7" text-anchor="middle" fill="#000">4</text><text x="363.10" y="311.10" font-size="4.7" text-anchor="middle" fill="#000">8</text><text x="371.10" y="311.10" font-size="4.7" text-anchor="middle" fill="#000">12</text><text x="379.10" y="311.10" font-size="4.7" text-anchor="middle" fill="#000">16</text><text x="387.10" y="311.10" font-size="4.7" text-anchor="middle" fill="#000">20</text><path d="M407.9 305.90H458.2M407.9 302.19H458.2M407.9 298.48H458.2M407.9 294.77H458.2M407.9 291.06H458.2M407.9 287.35H458.2M407.9 283.64H458.2M407.9 279.93H458.2M407.9 276.22H458.2M407.9 272.51H458.2M407.9 268.80H458.2" stroke="#efefef" stroke-width="0.6" fill="none"/><path d="M407.9 268.8V305.90000000000003 M458.2 268.8V305.90000000000003" stroke="#e4e4e4" stroke-width="0.6" fill="none"/><path d="M409.90 268.80h2.0v28.94h-2.0zM411.90 268.80h2.0v26.71h-2.0zM413.90 268.80h2.0v29.68h-2.0zM415.90 268.80h2.0v32.28h-2.0zM417.90 268.80h2.0v33.76h-2.0zM419.90 268.80h2.0v33.76h-2.0zM421.90 268.80h2.0v34.13h-2.0zM423.90 268.80h2.0v35.99h-2.0zM425.90 268.80h2.0v35.62h-2.0zM427.90 268.80h2.0v33.39h-2.0zM429.90 268.80h2.0v35.62h-2.0zM431.90 268.80h2.0v33.76h-2.0zM433.90 268.80h2.0v33.76h-2.0zM435.90 268.80h2.0v35.99h-2.0zM437.90 268.80h2.0v36.36h-2.0zM439.90 268.80h2.0v36.36h-2.0zM441.90 268.80h2.0v36.36h-2.0zM443.90 268.80h2.0v36.73h-2.0zM445.90 268.80h2.0v36.73h-2.0zM447.90 268.80h2.0v36.73h-2.0zM449.90 268.80h2.0v36.73h-2.0z" fill="#727272"/><path d="M409.90 297.74h2.0v7.05h-2.0zM411.90 295.51h2.0v8.16h-2.0zM413.90 298.48h2.0v5.57h-2.0zM415.90 301.08h2.0v4.08h-2.0zM417.90 302.56h2.0v3.34h-2.0zM419.90 302.56h2.0v3.34h-2.0zM421.90 302.93h2.0v2.97h-2.0zM423.90 304.79h2.0v1.11h-2.0zM425.90 304.42h2.0v1.48h-2.0zM427.90 302.19h2.0v3.71h-2.0zM429.90 304.42h2.0v1.48h-2.0zM431.90 302.56h2.0v3.34h-2.0zM433.90 302.56h2.0v3.34h-2.0zM435.90 304.79h2.0v1.11h-2.0zM437.90 305.16h2.0v0.74h-2.0zM439.90 305.16h2.0v0.74h-2.0zM441.90 305.16h2.0v0.74h-2.0zM443.90 305.53h2.0v0.37h-2.0zM445.90 305.53h2.0v0.37h-2.0zM447.90 305.53h2.0v0.37h-2.0zM449.90 305.53h2.0v0.37h-2.0z" fill="#4a7dbb"/><path d="M409.90 304.79h2.0v1.11h-2.0zM411.90 303.67h2.0v2.23h-2.0zM413.90 304.05h2.0v1.11h-2.0z" fill="#ee8a35"/><path d="M413.90 305.16h2.0v0.74h-2.0zM415.90 305.16h2.0v0.74h-2.0z" fill="#d43c30"/><path d="M411.65 268.8V305.90000000000003M413.65 268.8V305.90000000000003M415.65 268.8V305.90000000000003M417.65 268.8V305.90000000000003M419.65 268.8V305.90000000000003M421.65 268.8V305.90000000000003M423.65 268.8V305.90000000000003M425.65 268.8V305.90000000000003M427.65 268.8V305.90000000000003M429.65 268.8V305.90000000000003M431.65 268.8V305.90000000000003M433.65 268.8V305.90000000000003M435.65 268.8V305.90000000000003M437.65 268.8V305.90000000000003M439.65 268.8V305.90000000000003M441.65 268.8V305.90000000000003M443.65 268.8V305.90000000000003M445.65 268.8V305.90000000000003M447.65 268.8V305.90000000000003M449.65 268.8V305.90000000000003" stroke="#fff" stroke-opacity="0.35" stroke-width="0.6" fill="none"/><text x="406.79999999999995" y="307.35" font-size="5" text-anchor="end" fill="#000">0.0</text><text x="406.79999999999995" y="299.93" font-size="5" text-anchor="end" fill="#000">0.2</text><text x="406.79999999999995" y="292.51" font-size="5" text-anchor="end" fill="#000">0.4</text><text x="406.79999999999995" y="285.09" font-size="5" text-anchor="end" fill="#000">0.6</text><text x="406.79999999999995" y="277.67" font-size="5" text-anchor="end" fill="#000">0.8</text><text x="406.79999999999995" y="270.25" font-size="5" text-anchor="end" fill="#000">1.0</text><text x="407.90" y="311.10" font-size="4.7" text-anchor="middle" fill="#000">0</text><text x="415.90" y="311.10" font-size="4.7" text-anchor="middle" fill="#000">4</text><text x="423.90" y="311.10" font-size="4.7" text-anchor="middle" fill="#000">8</text><text x="431.90" y="311.10" font-size="4.7" text-anchor="middle" fill="#000">12</text><text x="439.90" y="311.10" font-size="4.7" text-anchor="middle" fill="#000">16</text><text x="447.90" y="311.10" font-size="4.7" text-anchor="middle" fill="#000">20</text><path d="M468.7 305.90H519.0M468.7 302.19H519.0M468.7 298.48H519.0M468.7 294.77H519.0M468.7 291.06H519.0M468.7 287.35H519.0M468.7 283.64H519.0M468.7 279.93H519.0M468.7 276.22H519.0M468.7 272.51H519.0M468.7 268.80H519.0" stroke="#efefef" stroke-width="0.6" fill="none"/><path d="M468.7 268.8V305.90000000000003 M519.0 268.8V305.90000000000003" stroke="#e4e4e4" stroke-width="0.6" fill="none"/><path d="M474.70 268.80h2.0v29.68h-2.0zM476.70 268.80h2.0v28.57h-2.0zM478.70 268.80h2.0v35.99h-2.0zM480.70 268.80h2.0v33.02h-2.0zM482.70 268.80h2.0v34.13h-2.0zM484.70 268.80h2.0v31.91h-2.0zM486.70 268.80h2.0v34.13h-2.0zM488.70 268.80h2.0v34.87h-2.0zM490.70 268.80h2.0v35.99h-2.0zM492.70 268.80h2.0v35.62h-2.0zM494.70 268.80h2.0v34.13h-2.0zM496.70 268.80h2.0v32.65h-2.0zM498.70 268.80h2.0v32.28h-2.0zM500.70 268.80h2.0v34.50h-2.0zM502.70 268.80h2.0v33.39h-2.0zM504.70 268.80h2.0v34.50h-2.0zM506.70 268.80h2.0v28.94h-2.0z" fill="#727272"/><path d="M474.70 298.48h2.0v7.42h-2.0zM476.70 297.37h2.0v8.53h-2.0zM478.70 304.79h2.0v1.11h-2.0zM480.70 301.82h2.0v4.08h-2.0zM482.70 302.93h2.0v2.97h-2.0zM484.70 300.71h2.0v5.19h-2.0zM486.70 302.93h2.0v2.97h-2.0zM488.70 303.67h2.0v2.23h-2.0zM490.70 304.79h2.0v1.11h-2.0zM492.70 304.42h2.0v1.48h-2.0zM494.70 302.93h2.0v2.60h-2.0zM496.70 301.45h2.0v3.71h-2.0zM498.70 301.08h2.0v4.45h-2.0zM500.70 303.30h2.0v2.60h-2.0zM502.70 302.19h2.0v3.71h-2.0zM504.70 303.30h2.0v2.60h-2.0z" fill="#4a7dbb"/><path d="M494.70 305.53h2.0v0.37h-2.0zM498.70 305.53h2.0v0.37h-2.0zM506.70 297.74h2.0v5.57h-2.0z" fill="#ee8a35"/><path d="M496.70 305.16h2.0v0.74h-2.0zM506.70 303.30h2.0v2.60h-2.0z" fill="#d43c30"/><path d="M476.45 268.8V305.90000000000003M478.45 268.8V305.90000000000003M480.45 268.8V305.90000000000003M482.45 268.8V305.90000000000003M484.45 268.8V305.90000000000003M486.45 268.8V305.90000000000003M488.45 268.8V305.90000000000003M490.45 268.8V305.90000000000003M492.45 268.8V305.90000000000003M494.45 268.8V305.90000000000003M496.45 268.8V305.90000000000003M498.45 268.8V305.90000000000003M500.45 268.8V305.90000000000003M502.45 268.8V305.90000000000003M504.45 268.8V305.90000000000003M506.45 268.8V305.90000000000003" stroke="#fff" stroke-opacity="0.35" stroke-width="0.6" fill="none"/><text x="467.59999999999997" y="307.35" font-size="5" text-anchor="end" fill="#000">0.0</text><text x="467.59999999999997" y="299.93" font-size="5" text-anchor="end" fill="#000">0.2</text><text x="467.59999999999997" y="292.51" font-size="5" text-anchor="end" fill="#000">0.4</text><text x="467.59999999999997" y="285.09" font-size="5" text-anchor="end" fill="#000">0.6</text><text x="467.59999999999997" y="277.67" font-size="5" text-anchor="end" fill="#000">0.8</text><text x="467.59999999999997" y="270.25" font-size="5" text-anchor="end" fill="#000">1.0</text><text x="468.70" y="311.10" font-size="4.7" text-anchor="middle" fill="#000">0</text><text x="476.70" y="311.10" font-size="4.7" text-anchor="middle" fill="#000">4</text><text x="484.70" y="311.10" font-size="4.7" text-anchor="middle" fill="#000">8</text><text x="492.70" y="311.10" font-size="4.7" text-anchor="middle" fill="#000">12</text><text x="500.70" y="311.10" font-size="4.7" text-anchor="middle" fill="#000">16</text><text x="508.70" y="311.10" font-size="4.7" text-anchor="middle" fill="#000">20</text><path d="M43.1 354.80H93.4M43.1 351.09H93.4M43.1 347.38H93.4M43.1 343.67H93.4M43.1 339.96H93.4M43.1 336.25H93.4M43.1 332.54H93.4M43.1 328.83H93.4M43.1 325.12H93.4M43.1 321.41H93.4M43.1 317.70H93.4" stroke="#efefef" stroke-width="0.6" fill="none"/><path d="M43.1 317.7V354.8 M93.4 317.7V354.8" stroke="#e4e4e4" stroke-width="0.6" fill="none"/><path d="M45.10 317.70h2.0v4.45h-2.0zM47.10 317.70h2.0v2.97h-2.0zM49.10 317.70h2.0v1.11h-2.0zM51.10 317.70h2.0v1.48h-2.0zM53.10 317.70h2.0v2.97h-2.0zM55.10 317.70h2.0v1.48h-2.0zM57.10 317.70h2.0v1.11h-2.0zM59.10 317.70h2.0v1.11h-2.0zM61.10 317.70h2.0v0.37h-2.0z" fill="#727272"/><path d="M45.10 322.15h2.0v9.28h-2.0zM47.10 320.67h2.0v0.37h-2.0zM49.10 318.81h2.0v1.48h-2.0zM51.10 319.18h2.0v5.94h-2.0zM53.10 320.67h2.0v4.82h-2.0zM55.10 319.18h2.0v3.34h-2.0zM57.10 318.81h2.0v2.97h-2.0zM59.10 318.81h2.0v0.74h-2.0zM61.10 318.07h2.0v0.74h-2.0zM63.10 317.70h2.0v0.37h-2.0zM65.10 317.70h2.0v1.11h-2.0zM67.10 317.70h2.0v1.11h-2.0z" fill="#4a7dbb"/><path d="M45.10 331.43h2.0v23.37h-2.0zM47.10 321.04h2.0v25.23h-2.0zM49.10 320.30h2.0v31.16h-2.0zM51.10 325.12h2.0v23.37h-2.0zM53.10 325.49h2.0v24.12h-2.0zM55.10 322.52h2.0v27.45h-2.0zM57.10 321.78h2.0v31.16h-2.0zM59.10 319.56h2.0v28.20h-2.0zM61.10 318.81h2.0v27.45h-2.0zM63.10 318.07h2.0v27.45h-2.0zM65.10 318.81h2.0v23.00h-2.0zM67.10 318.81h2.0v23.00h-2.0z" fill="#ee8a35"/><path d="M47.10 346.27h2.0v8.53h-2.0zM49.10 351.46h2.0v3.34h-2.0zM51.10 348.49h2.0v6.31h-2.0zM53.10 349.61h2.0v5.19h-2.0zM55.10 349.98h2.0v4.82h-2.0zM57.10 352.94h2.0v1.86h-2.0zM59.10 347.75h2.0v7.05h-2.0zM61.10 346.27h2.0v8.53h-2.0zM63.10 345.53h2.0v9.28h-2.0zM65.10 341.81h2.0v12.98h-2.0zM67.10 341.81h2.0v12.98h-2.0z" fill="#d43c30"/><path d="M46.85 317.7V354.8M48.85 317.7V354.8M50.85 317.7V354.8M52.85 317.7V354.8M54.85 317.7V354.8M56.85 317.7V354.8M58.85 317.7V354.8M60.85 317.7V354.8M62.85 317.7V354.8M64.85 317.7V354.8M66.85 317.7V354.8" stroke="#fff" stroke-opacity="0.35" stroke-width="0.6" fill="none"/><text x="42.0" y="356.25" font-size="5" text-anchor="end" fill="#000">0.0</text><text x="42.0" y="348.83" font-size="5" text-anchor="end" fill="#000">0.2</text><text x="42.0" y="341.41" font-size="5" text-anchor="end" fill="#000">0.4</text><text x="42.0" y="333.99" font-size="5" text-anchor="end" fill="#000">0.6</text><text x="42.0" y="326.57" font-size="5" text-anchor="end" fill="#000">0.8</text><text x="42.0" y="319.15" font-size="5" text-anchor="end" fill="#000">1.0</text><text x="43.10" y="360.00" font-size="4.7" text-anchor="middle" fill="#000">0</text><text x="51.10" y="360.00" font-size="4.7" text-anchor="middle" fill="#000">4</text><text x="59.10" y="360.00" font-size="4.7" text-anchor="middle" fill="#000">8</text><text x="67.10" y="360.00" font-size="4.7" text-anchor="middle" fill="#000">12</text><text x="75.10" y="360.00" font-size="4.7" text-anchor="middle" fill="#000">16</text><text x="83.10" y="360.00" font-size="4.7" text-anchor="middle" fill="#000">20</text><text transform="translate(33.5 336.25) rotate(-90)" font-size="3.8" text-anchor="middle" fill="#000" stroke="#000" stroke-width="0.12">IA-2A level (proportion)</text><path d="M103.9 354.80H154.2M103.9 351.09H154.2M103.9 347.38H154.2M103.9 343.67H154.2M103.9 339.96H154.2M103.9 336.25H154.2M103.9 332.54H154.2M103.9 328.83H154.2M103.9 325.12H154.2M103.9 321.41H154.2M103.9 317.70H154.2" stroke="#efefef" stroke-width="0.6" fill="none"/><path d="M103.9 317.7V354.8 M154.2 317.7V354.8" stroke="#e4e4e4" stroke-width="0.6" fill="none"/><path d="M109.90 317.70h2.0v0.37h-2.0zM111.90 317.70h2.0v1.86h-2.0zM113.90 317.70h2.0v3.34h-2.0zM115.90 317.70h2.0v0.37h-2.0zM117.90 317.70h2.0v0.37h-2.0zM119.90 317.70h2.0v0.37h-2.0zM121.90 317.70h2.0v0.37h-2.0zM123.90 317.70h2.0v0.37h-2.0zM125.90 317.70h2.0v0.74h-2.0zM127.90 317.70h2.0v1.11h-2.0zM129.90 317.70h2.0v1.11h-2.0zM131.90 317.70h2.0v0.37h-2.0zM133.90 317.70h2.0v1.86h-2.0zM135.90 317.70h2.0v1.86h-2.0zM137.90 317.70h2.0v4.45h-2.0z" fill="#4a7dbb"/><path d="M109.90 318.07h2.0v25.60h-2.0zM111.90 319.56h2.0v27.08h-2.0zM113.90 321.04h2.0v30.05h-2.0zM115.90 318.07h2.0v32.65h-2.0zM117.90 318.07h2.0v30.79h-2.0zM119.90 318.07h2.0v32.65h-2.0zM121.90 318.07h2.0v34.87h-2.0zM123.90 318.07h2.0v30.79h-2.0zM125.90 318.44h2.0v24.49h-2.0zM127.90 318.81h2.0v26.34h-2.0zM129.90 318.81h2.0v30.79h-2.0zM131.90 318.07h2.0v27.45h-2.0zM133.90 319.56h2.0v35.24h-2.0zM135.90 319.56h2.0v35.24h-2.0zM137.90 322.15h2.0v32.65h-2.0z" fill="#ee8a35"/><path d="M109.90 343.67h2.0v11.13h-2.0zM111.90 346.64h2.0v8.16h-2.0zM113.90 351.09h2.0v3.71h-2.0zM115.90 350.72h2.0v4.08h-2.0zM117.90 348.86h2.0v5.94h-2.0zM119.90 350.72h2.0v4.08h-2.0zM121.90 352.94h2.0v1.86h-2.0zM123.90 348.86h2.0v5.94h-2.0zM125.90 342.93h2.0v11.87h-2.0zM127.90 345.15h2.0v9.65h-2.0zM129.90 349.61h2.0v5.19h-2.0zM131.90 345.53h2.0v9.28h-2.0z" fill="#d43c30"/><path d="M111.65 317.7V354.8M113.65 317.7V354.8M115.65 317.7V354.8M117.65 317.7V354.8M119.65 317.7V354.8M121.65 317.7V354.8M123.65 317.7V354.8M125.65 317.7V354.8M127.65 317.7V354.8M129.65 317.7V354.8M131.65 317.7V354.8M133.65 317.7V354.8M135.65 317.7V354.8M137.65 317.7V354.8" stroke="#fff" stroke-opacity="0.35" stroke-width="0.6" fill="none"/><text x="102.80000000000001" y="356.25" font-size="5" text-anchor="end" fill="#000">0.0</text><text x="102.80000000000001" y="348.83" font-size="5" text-anchor="end" fill="#000">0.2</text><text x="102.80000000000001" y="341.41" font-size="5" text-anchor="end" fill="#000">0.4</text><text x="102.80000000000001" y="333.99" font-size="5" text-anchor="end" fill="#000">0.6</text><text x="102.80000000000001" y="326.57" font-size="5" text-anchor="end" fill="#000">0.8</text><text x="102.80000000000001" y="319.15" font-size="5" text-anchor="end" fill="#000">1.0</text><text x="103.90" y="360.00" font-size="4.7" text-anchor="middle" fill="#000">0</text><text x="111.90" y="360.00" font-size="4.7" text-anchor="middle" fill="#000">4</text><text x="119.90" y="360.00" font-size="4.7" text-anchor="middle" fill="#000">8</text><text x="127.90" y="360.00" font-size="4.7" text-anchor="middle" fill="#000">12</text><text x="135.90" y="360.00" font-size="4.7" text-anchor="middle" fill="#000">16</text><text x="143.90" y="360.00" font-size="4.7" text-anchor="middle" fill="#000">20</text><path d="M164.7 354.80H215.0M164.7 351.09H215.0M164.7 347.38H215.0M164.7 343.67H215.0M164.7 339.96H215.0M164.7 336.25H215.0M164.7 332.54H215.0M164.7 328.83H215.0M164.7 325.12H215.0M164.7 321.41H215.0M164.7 317.70H215.0" stroke="#efefef" stroke-width="0.6" fill="none"/><path d="M164.7 317.7V354.8 M215.0 317.7V354.8" stroke="#e4e4e4" stroke-width="0.6" fill="none"/><path d="M164.70 317.70h2.0v36.36h-2.0zM166.70 317.70h2.0v36.36h-2.0zM168.70 317.70h2.0v36.73h-2.0zM170.70 317.70h2.0v37.10h-2.0zM172.70 317.70h2.0v37.10h-2.0zM174.70 317.70h2.0v36.73h-2.0zM176.70 317.70h2.0v37.10h-2.0zM178.70 317.70h2.0v37.10h-2.0zM180.70 317.70h2.0v37.10h-2.0zM182.70 317.70h2.0v37.10h-2.0zM184.70 317.70h2.0v37.10h-2.0zM186.70 317.70h2.0v36.73h-2.0zM188.70 317.70h2.0v37.10h-2.0zM190.70 317.70h2.0v37.10h-2.0zM192.70 317.70h2.0v37.10h-2.0zM194.70 317.70h2.0v37.10h-2.0zM196.70 317.70h2.0v37.10h-2.0zM198.70 317.70h2.0v37.10h-2.0zM200.70 317.70h2.0v37.10h-2.0zM202.70 317.70h2.0v37.10h-2.0zM204.70 317.70h2.0v37.10h-2.0zM206.70 317.70h2.0v37.10h-2.0z" fill="#727272"/><path d="M168.70 354.43h2.0v0.37h-2.0zM174.70 354.43h2.0v0.37h-2.0z" fill="#4a7dbb"/><path d="M164.70 354.06h2.0v0.74h-2.0zM166.70 354.06h2.0v0.74h-2.0zM186.70 354.43h2.0v0.37h-2.0z" fill="#ee8a35"/><path d="M166.45 317.7V354.8M168.45 317.7V354.8M170.45 317.7V354.8M172.45 317.7V354.8M174.45 317.7V354.8M176.45 317.7V354.8M178.45 317.7V354.8M180.45 317.7V354.8M182.45 317.7V354.8M184.45 317.7V354.8M186.45 317.7V354.8M188.45 317.7V354.8M190.45 317.7V354.8M192.45 317.7V354.8M194.45 317.7V354.8M196.45 317.7V354.8M198.45 317.7V354.8M200.45 317.7V354.8M202.45 317.7V354.8M204.45 317.7V354.8M206.45 317.7V354.8" stroke="#fff" stroke-opacity="0.35" stroke-width="0.6" fill="none"/><text x="163.6" y="356.25" font-size="5" text-anchor="end" fill="#000">0.0</text><text x="163.6" y="348.83" font-size="5" text-anchor="end" fill="#000">0.2</text><text x="163.6" y="341.41" font-size="5" text-anchor="end" fill="#000">0.4</text><text x="163.6" y="333.99" font-size="5" text-anchor="end" fill="#000">0.6</text><text x="163.6" y="326.57" font-size="5" text-anchor="end" fill="#000">0.8</text><text x="163.6" y="319.15" font-size="5" text-anchor="end" fill="#000">1.0</text><text x="164.70" y="360.00" font-size="4.7" text-anchor="middle" fill="#000">0</text><text x="172.70" y="360.00" font-size="4.7" text-anchor="middle" fill="#000">4</text><text x="180.70" y="360.00" font-size="4.7" text-anchor="middle" fill="#000">8</text><text x="188.70" y="360.00" font-size="4.7" text-anchor="middle" fill="#000">12</text><text x="196.70" y="360.00" font-size="4.7" text-anchor="middle" fill="#000">16</text><text x="204.70" y="360.00" font-size="4.7" text-anchor="middle" fill="#000">20</text><path d="M225.5 354.80H275.8M225.5 351.09H275.8M225.5 347.38H275.8M225.5 343.67H275.8M225.5 339.96H275.8M225.5 336.25H275.8M225.5 332.54H275.8M225.5 328.83H275.8M225.5 325.12H275.8M225.5 321.41H275.8M225.5 317.70H275.8" stroke="#efefef" stroke-width="0.6" fill="none"/><path d="M225.5 317.7V354.8 M275.8 317.7V354.8" stroke="#e4e4e4" stroke-width="0.6" fill="none"/><rect x="229.6" y="317.70" width="1.60" height="34.13" fill="#ee8a35"/><rect x="229.6" y="351.83" width="1.60" height="2.97" fill="#d43c30"/><rect x="233.4" y="317.70" width="1.70" height="2.60" fill="#4a7dbb"/><rect x="233.4" y="320.30" width="1.70" height="25.23" fill="#ee8a35"/><rect x="233.4" y="345.53" width="1.70" height="9.28" fill="#d43c30"/><text x="224.4" y="356.25" font-size="5" text-anchor="end" fill="#000">0.0</text><text x="224.4" y="348.83" font-size="5" text-anchor="end" fill="#000">0.2</text><text x="224.4" y="341.41" font-size="5" text-anchor="end" fill="#000">0.4</text><text x="224.4" y="333.99" font-size="5" text-anchor="end" fill="#000">0.6</text><text x="224.4" y="326.57" font-size="5" text-anchor="end" fill="#000">0.8</text><text x="224.4" y="319.15" font-size="5" text-anchor="end" fill="#000">1.0</text><text x="225.50" y="360.00" font-size="4.7" text-anchor="middle" fill="#000">0</text><text x="233.50" y="360.00" font-size="4.7" text-anchor="middle" fill="#000">4</text><text x="241.50" y="360.00" font-size="4.7" text-anchor="middle" fill="#000">8</text><text x="249.50" y="360.00" font-size="4.7" text-anchor="middle" fill="#000">12</text><text x="257.50" y="360.00" font-size="4.7" text-anchor="middle" fill="#000">16</text><text x="265.50" y="360.00" font-size="4.7" text-anchor="middle" fill="#000">20</text><path d="M286.3 354.80H336.6M286.3 351.09H336.6M286.3 347.38H336.6M286.3 343.67H336.6M286.3 339.96H336.6M286.3 336.25H336.6M286.3 332.54H336.6M286.3 328.83H336.6M286.3 325.12H336.6M286.3 321.41H336.6M286.3 317.70H336.6" stroke="#efefef" stroke-width="0.6" fill="none"/><path d="M286.3 317.7V354.8 M336.6 317.7V354.8" stroke="#e4e4e4" stroke-width="0.6" fill="none"/><path d="M298.30 317.70h2.0v1.11h-2.0zM306.30 317.70h2.0v2.97h-2.0zM310.30 317.70h2.0v0.74h-2.0z" fill="#4a7dbb"/><path d="M290.30 317.70h2.0v30.05h-2.0zM292.30 317.70h2.0v26.34h-2.0zM294.30 317.70h2.0v27.83h-2.0zM296.30 317.70h2.0v28.57h-2.0zM298.30 318.81h2.0v32.65h-2.0zM300.30 317.70h2.0v29.31h-2.0zM302.30 317.70h2.0v27.08h-2.0zM304.30 317.70h2.0v33.02h-2.0zM306.30 320.67h2.0v33.02h-2.0zM308.30 317.70h2.0v31.91h-2.0zM310.30 318.44h2.0v35.62h-2.0zM312.30 317.70h2.0v29.31h-2.0z" fill="#ee8a35"/><path d="M290.30 347.75h2.0v7.05h-2.0zM292.30 344.04h2.0v10.76h-2.0zM294.30 345.53h2.0v9.28h-2.0zM296.30 346.27h2.0v8.53h-2.0zM298.30 351.46h2.0v3.34h-2.0zM300.30 347.01h2.0v7.79h-2.0zM302.30 344.78h2.0v10.02h-2.0zM304.30 350.72h2.0v4.08h-2.0zM306.30 353.69h2.0v1.11h-2.0zM308.30 349.61h2.0v5.19h-2.0zM310.30 354.06h2.0v0.74h-2.0zM312.30 347.01h2.0v7.79h-2.0z" fill="#d43c30"/><path d="M292.05 317.7V354.8M294.05 317.7V354.8M296.05 317.7V354.8M298.05 317.7V354.8M300.05 317.7V354.8M302.05 317.7V354.8M304.05 317.7V354.8M306.05 317.7V354.8M308.05 317.7V354.8M310.05 317.7V354.8M312.05 317.7V354.8" stroke="#fff" stroke-opacity="0.35" stroke-width="0.6" fill="none"/><text x="285.2" y="356.25" font-size="5" text-anchor="end" fill="#000">0.0</text><text x="285.2" y="348.83" font-size="5" text-anchor="end" fill="#000">0.2</text><text x="285.2" y="341.41" font-size="5" text-anchor="end" fill="#000">0.4</text><text x="285.2" y="333.99" font-size="5" text-anchor="end" fill="#000">0.6</text><text x="285.2" y="326.57" font-size="5" text-anchor="end" fill="#000">0.8</text><text x="285.2" y="319.15" font-size="5" text-anchor="end" fill="#000">1.0</text><text x="286.30" y="360.00" font-size="4.7" text-anchor="middle" fill="#000">0</text><text x="294.30" y="360.00" font-size="4.7" text-anchor="middle" fill="#000">4</text><text x="302.30" y="360.00" font-size="4.7" text-anchor="middle" fill="#000">8</text><text x="310.30" y="360.00" font-size="4.7" text-anchor="middle" fill="#000">12</text><text x="318.30" y="360.00" font-size="4.7" text-anchor="middle" fill="#000">16</text><text x="326.30" y="360.00" font-size="4.7" text-anchor="middle" fill="#000">20</text><path d="M347.1 354.80H397.40000000000003M347.1 351.09H397.40000000000003M347.1 347.38H397.40000000000003M347.1 343.67H397.40000000000003M347.1 339.96H397.40000000000003M347.1 336.25H397.40000000000003M347.1 332.54H397.40000000000003M347.1 328.83H397.40000000000003M347.1 325.12H397.40000000000003M347.1 321.41H397.40000000000003M347.1 317.70H397.40000000000003" stroke="#efefef" stroke-width="0.6" fill="none"/><path d="M347.1 317.7V354.8 M397.40000000000003 317.7V354.8" stroke="#e4e4e4" stroke-width="0.6" fill="none"/><path d="M369.10 317.70h2.0v1.48h-2.0zM379.10 317.70h2.0v5.57h-2.0z" fill="#4a7dbb"/><path d="M359.10 317.70h2.0v24.86h-2.0zM361.10 317.70h2.0v22.26h-2.0zM363.10 317.70h2.0v15.21h-2.0zM365.10 317.70h2.0v20.78h-2.0zM367.10 317.70h2.0v24.12h-2.0zM369.10 319.18h2.0v22.63h-2.0zM371.10 317.70h2.0v24.49h-2.0zM373.10 317.70h2.0v31.54h-2.0zM375.10 317.70h2.0v27.45h-2.0zM377.10 317.70h2.0v31.91h-2.0zM379.10 323.26h2.0v19.29h-2.0z" fill="#ee8a35"/><path d="M359.10 342.56h2.0v12.24h-2.0zM361.10 339.96h2.0v14.84h-2.0zM363.10 332.91h2.0v21.89h-2.0zM365.10 338.48h2.0v16.32h-2.0zM367.10 341.81h2.0v12.98h-2.0zM369.10 341.81h2.0v12.98h-2.0zM371.10 342.19h2.0v12.61h-2.0zM373.10 349.24h2.0v5.57h-2.0zM375.10 345.15h2.0v9.65h-2.0zM377.10 349.61h2.0v5.19h-2.0zM379.10 342.56h2.0v12.24h-2.0z" fill="#d43c30"/><path d="M360.85 317.7V354.8M362.85 317.7V354.8M364.85 317.7V354.8M366.85 317.7V354.8M368.85 317.7V354.8M370.85 317.7V354.8M372.85 317.7V354.8M374.85 317.7V354.8M376.85 317.7V354.8M378.85 317.7V354.8" stroke="#fff" stroke-opacity="0.35" stroke-width="0.6" fill="none"/><text x="346.0" y="356.25" font-size="5" text-anchor="end" fill="#000">0.0</text><text x="346.0" y="348.83" font-size="5" text-anchor="end" fill="#000">0.2</text><text x="346.0" y="341.41" font-size="5" text-anchor="end" fill="#000">0.4</text><text x="346.0" y="333.99" font-size="5" text-anchor="end" fill="#000">0.6</text><text x="346.0" y="326.57" font-size="5" text-anchor="end" fill="#000">0.8</text><text x="346.0" y="319.15" font-size="5" text-anchor="end" fill="#000">1.0</text><text x="347.10" y="360.00" font-size="4.7" text-anchor="middle" fill="#000">0</text><text x="355.10" y="360.00" font-size="4.7" text-anchor="middle" fill="#000">4</text><text x="363.10" y="360.00" font-size="4.7" text-anchor="middle" fill="#000">8</text><text x="371.10" y="360.00" font-size="4.7" text-anchor="middle" fill="#000">12</text><text x="379.10" y="360.00" font-size="4.7" text-anchor="middle" fill="#000">16</text><text x="387.10" y="360.00" font-size="4.7" text-anchor="middle" fill="#000">20</text><path d="M407.9 354.80H458.2M407.9 351.09H458.2M407.9 347.38H458.2M407.9 343.67H458.2M407.9 339.96H458.2M407.9 336.25H458.2M407.9 332.54H458.2M407.9 328.83H458.2M407.9 325.12H458.2M407.9 321.41H458.2M407.9 317.70H458.2" stroke="#efefef" stroke-width="0.6" fill="none"/><path d="M407.9 317.7V354.8 M458.2 317.7V354.8" stroke="#e4e4e4" stroke-width="0.6" fill="none"/><path d="M409.90 317.70h2.0v35.99h-2.0zM411.90 317.70h2.0v36.36h-2.0zM413.90 317.70h2.0v36.36h-2.0zM415.90 317.70h2.0v36.36h-2.0zM417.90 317.70h2.0v36.73h-2.0zM419.90 317.70h2.0v37.10h-2.0zM421.90 317.70h2.0v37.10h-2.0zM423.90 317.70h2.0v37.10h-2.0zM425.90 317.70h2.0v37.10h-2.0zM427.90 317.70h2.0v37.10h-2.0zM429.90 317.70h2.0v37.10h-2.0zM431.90 317.70h2.0v37.10h-2.0zM433.90 317.70h2.0v37.10h-2.0zM435.90 317.70h2.0v37.10h-2.0zM437.90 317.70h2.0v37.10h-2.0zM439.90 317.70h2.0v37.10h-2.0zM441.90 317.70h2.0v36.36h-2.0zM443.90 317.70h2.0v36.36h-2.0zM445.90 317.70h2.0v37.10h-2.0zM447.90 317.70h2.0v37.10h-2.0zM449.90 317.70h2.0v37.10h-2.0z" fill="#727272"/><path d="M411.90 354.06h2.0v0.74h-2.0zM413.90 354.06h2.0v0.74h-2.0zM415.90 354.06h2.0v0.74h-2.0zM417.90 354.43h2.0v0.37h-2.0z" fill="#4a7dbb"/><path d="M409.90 353.69h2.0v1.11h-2.0zM441.90 354.06h2.0v0.74h-2.0zM443.90 354.06h2.0v0.74h-2.0z" fill="#ee8a35"/><path d="M411.65 317.7V354.8M413.65 317.7V354.8M415.65 317.7V354.8M417.65 317.7V354.8M419.65 317.7V354.8M421.65 317.7V354.8M423.65 317.7V354.8M425.65 317.7V354.8M427.65 317.7V354.8M429.65 317.7V354.8M431.65 317.7V354.8M433.65 317.7V354.8M435.65 317.7V354.8M437.65 317.7V354.8M439.65 317.7V354.8M441.65 317.7V354.8M443.65 317.7V354.8M445.65 317.7V354.8M447.65 317.7V354.8M449.65 317.7V354.8" stroke="#fff" stroke-opacity="0.35" stroke-width="0.6" fill="none"/><text x="406.79999999999995" y="356.25" font-size="5" text-anchor="end" fill="#000">0.0</text><text x="406.79999999999995" y="348.83" font-size="5" text-anchor="end" fill="#000">0.2</text><text x="406.79999999999995" y="341.41" font-size="5" text-anchor="end" fill="#000">0.4</text><text x="406.79999999999995" y="333.99" font-size="5" text-anchor="end" fill="#000">0.6</text><text x="406.79999999999995" y="326.57" font-size="5" text-anchor="end" fill="#000">0.8</text><text x="406.79999999999995" y="319.15" font-size="5" text-anchor="end" fill="#000">1.0</text><text x="407.90" y="360.00" font-size="4.7" text-anchor="middle" fill="#000">0</text><text x="415.90" y="360.00" font-size="4.7" text-anchor="middle" fill="#000">4</text><text x="423.90" y="360.00" font-size="4.7" text-anchor="middle" fill="#000">8</text><text x="431.90" y="360.00" font-size="4.7" text-anchor="middle" fill="#000">12</text><text x="439.90" y="360.00" font-size="4.7" text-anchor="middle" fill="#000">16</text><text x="447.90" y="360.00" font-size="4.7" text-anchor="middle" fill="#000">20</text><path d="M468.7 354.80H519.0M468.7 351.09H519.0M468.7 347.38H519.0M468.7 343.67H519.0M468.7 339.96H519.0M468.7 336.25H519.0M468.7 332.54H519.0M468.7 328.83H519.0M468.7 325.12H519.0M468.7 321.41H519.0M468.7 317.70H519.0" stroke="#efefef" stroke-width="0.6" fill="none"/><path d="M468.7 317.7V354.8 M519.0 317.7V354.8" stroke="#e4e4e4" stroke-width="0.6" fill="none"/><path d="M474.70 317.70h2.0v0.37h-2.0zM506.70 317.70h2.0v0.74h-2.0z" fill="#727272"/><path d="M474.70 318.07h2.0v1.48h-2.0zM476.70 317.70h2.0v1.48h-2.0zM478.70 317.70h2.0v1.48h-2.0zM480.70 317.70h2.0v1.48h-2.0zM482.70 317.70h2.0v2.60h-2.0zM484.70 317.70h2.0v4.08h-2.0zM486.70 317.70h2.0v2.97h-2.0zM488.70 317.70h2.0v1.86h-2.0zM490.70 317.70h2.0v1.11h-2.0zM492.70 317.70h2.0v1.11h-2.0zM494.70 317.70h2.0v1.48h-2.0zM496.70 317.70h2.0v1.86h-2.0zM498.70 317.70h2.0v2.60h-2.0zM500.70 317.70h2.0v1.86h-2.0zM502.70 317.70h2.0v1.48h-2.0zM504.70 317.70h2.0v1.48h-2.0zM506.70 318.44h2.0v0.37h-2.0z" fill="#4a7dbb"/><path d="M474.70 319.56h2.0v35.24h-2.0zM476.70 319.18h2.0v34.87h-2.0zM478.70 319.18h2.0v28.94h-2.0zM480.70 319.18h2.0v29.68h-2.0zM482.70 320.30h2.0v25.60h-2.0zM484.70 321.78h2.0v23.74h-2.0zM486.70 320.67h2.0v25.60h-2.0zM488.70 319.56h2.0v26.71h-2.0zM490.70 318.81h2.0v26.71h-2.0zM492.70 318.81h2.0v24.11h-2.0zM494.70 319.18h2.0v27.08h-2.0zM496.70 319.56h2.0v27.08h-2.0zM498.70 320.30h2.0v27.45h-2.0zM500.70 319.56h2.0v26.71h-2.0zM502.70 319.18h2.0v27.45h-2.0zM504.70 319.18h2.0v25.60h-2.0zM506.70 318.81h2.0v35.99h-2.0z" fill="#ee8a35"/><path d="M476.70 354.06h2.0v0.74h-2.0zM478.70 348.12h2.0v6.68h-2.0zM480.70 348.86h2.0v5.94h-2.0zM482.70 345.90h2.0v8.90h-2.0zM484.70 345.53h2.0v9.28h-2.0zM486.70 346.27h2.0v8.53h-2.0zM488.70 346.27h2.0v8.53h-2.0zM490.70 345.53h2.0v9.28h-2.0zM492.70 342.93h2.0v11.87h-2.0zM494.70 346.27h2.0v8.53h-2.0zM496.70 346.64h2.0v8.16h-2.0zM498.70 347.75h2.0v7.05h-2.0zM500.70 346.27h2.0v8.53h-2.0zM502.70 346.64h2.0v8.16h-2.0zM504.70 344.78h2.0v10.02h-2.0z" fill="#d43c30"/><path d="M476.45 317.7V354.8M478.45 317.7V354.8M480.45 317.7V354.8M482.45 317.7V354.8M484.45 317.7V354.8M486.45 317.7V354.8M488.45 317.7V354.8M490.45 317.7V354.8M492.45 317.7V354.8M494.45 317.7V354.8M496.45 317.7V354.8M498.45 317.7V354.8M500.45 317.7V354.8M502.45 317.7V354.8M504.45 317.7V354.8M506.45 317.7V354.8" stroke="#fff" stroke-opacity="0.35" stroke-width="0.6" fill="none"/><text x="467.59999999999997" y="356.25" font-size="5" text-anchor="end" fill="#000">0.0</text><text x="467.59999999999997" y="348.83" font-size="5" text-anchor="end" fill="#000">0.2</text><text x="467.59999999999997" y="341.41" font-size="5" text-anchor="end" fill="#000">0.4</text><text x="467.59999999999997" y="333.99" font-size="5" text-anchor="end" fill="#000">0.6</text><text x="467.59999999999997" y="326.57" font-size="5" text-anchor="end" fill="#000">0.8</text><text x="467.59999999999997" y="319.15" font-size="5" text-anchor="end" fill="#000">1.0</text><text x="468.70" y="360.00" font-size="4.7" text-anchor="middle" fill="#000">0</text><text x="476.70" y="360.00" font-size="4.7" text-anchor="middle" fill="#000">4</text><text x="484.70" y="360.00" font-size="4.7" text-anchor="middle" fill="#000">8</text><text x="492.70" y="360.00" font-size="4.7" text-anchor="middle" fill="#000">12</text><text x="500.70" y="360.00" font-size="4.7" text-anchor="middle" fill="#000">16</text><text x="508.70" y="360.00" font-size="4.7" text-anchor="middle" fill="#000">20</text><rect x="32.4" y="365.4" width="11.4" height="11.2" fill="#7b7b7b" stroke="#727272" stroke-width="0.8"/><text x="47.5" y="375.2" font-size="10" font-weight="bold" text-anchor="start" fill="#111" stroke="#111" stroke-width="0.15">L0: Negative IAb</text><rect x="150.4" y="365.4" width="12.0" height="11.2" fill="#4f80bf" stroke="#4a7dbb" stroke-width="0.8"/><text x="166.2" y="375.2" font-size="10" font-weight="bold" text-anchor="start" fill="#111" stroke="#111" stroke-width="0.15">L1: Lowest level IAb</text><rect x="279.29999999999995" y="365.4" width="11.3" height="11.2" fill="#f08c3a" stroke="#ee8a35" stroke-width="0.8"/><text x="294.2" y="375.2" font-size="10" font-weight="bold" text-anchor="start" fill="#111" stroke="#111" stroke-width="0.15">L2: Middle level IAb</text><rect x="403.59999999999997" y="365.4" width="11.9" height="11.2" fill="#d63c32" stroke="#d43c30" stroke-width="0.8"/><text x="418.7" y="375.2" font-size="10" font-weight="bold" text-anchor="start" fill="#111" stroke="#111" stroke-width="0.15">L3: Highest level IAb</text></g></svg></body></html>
